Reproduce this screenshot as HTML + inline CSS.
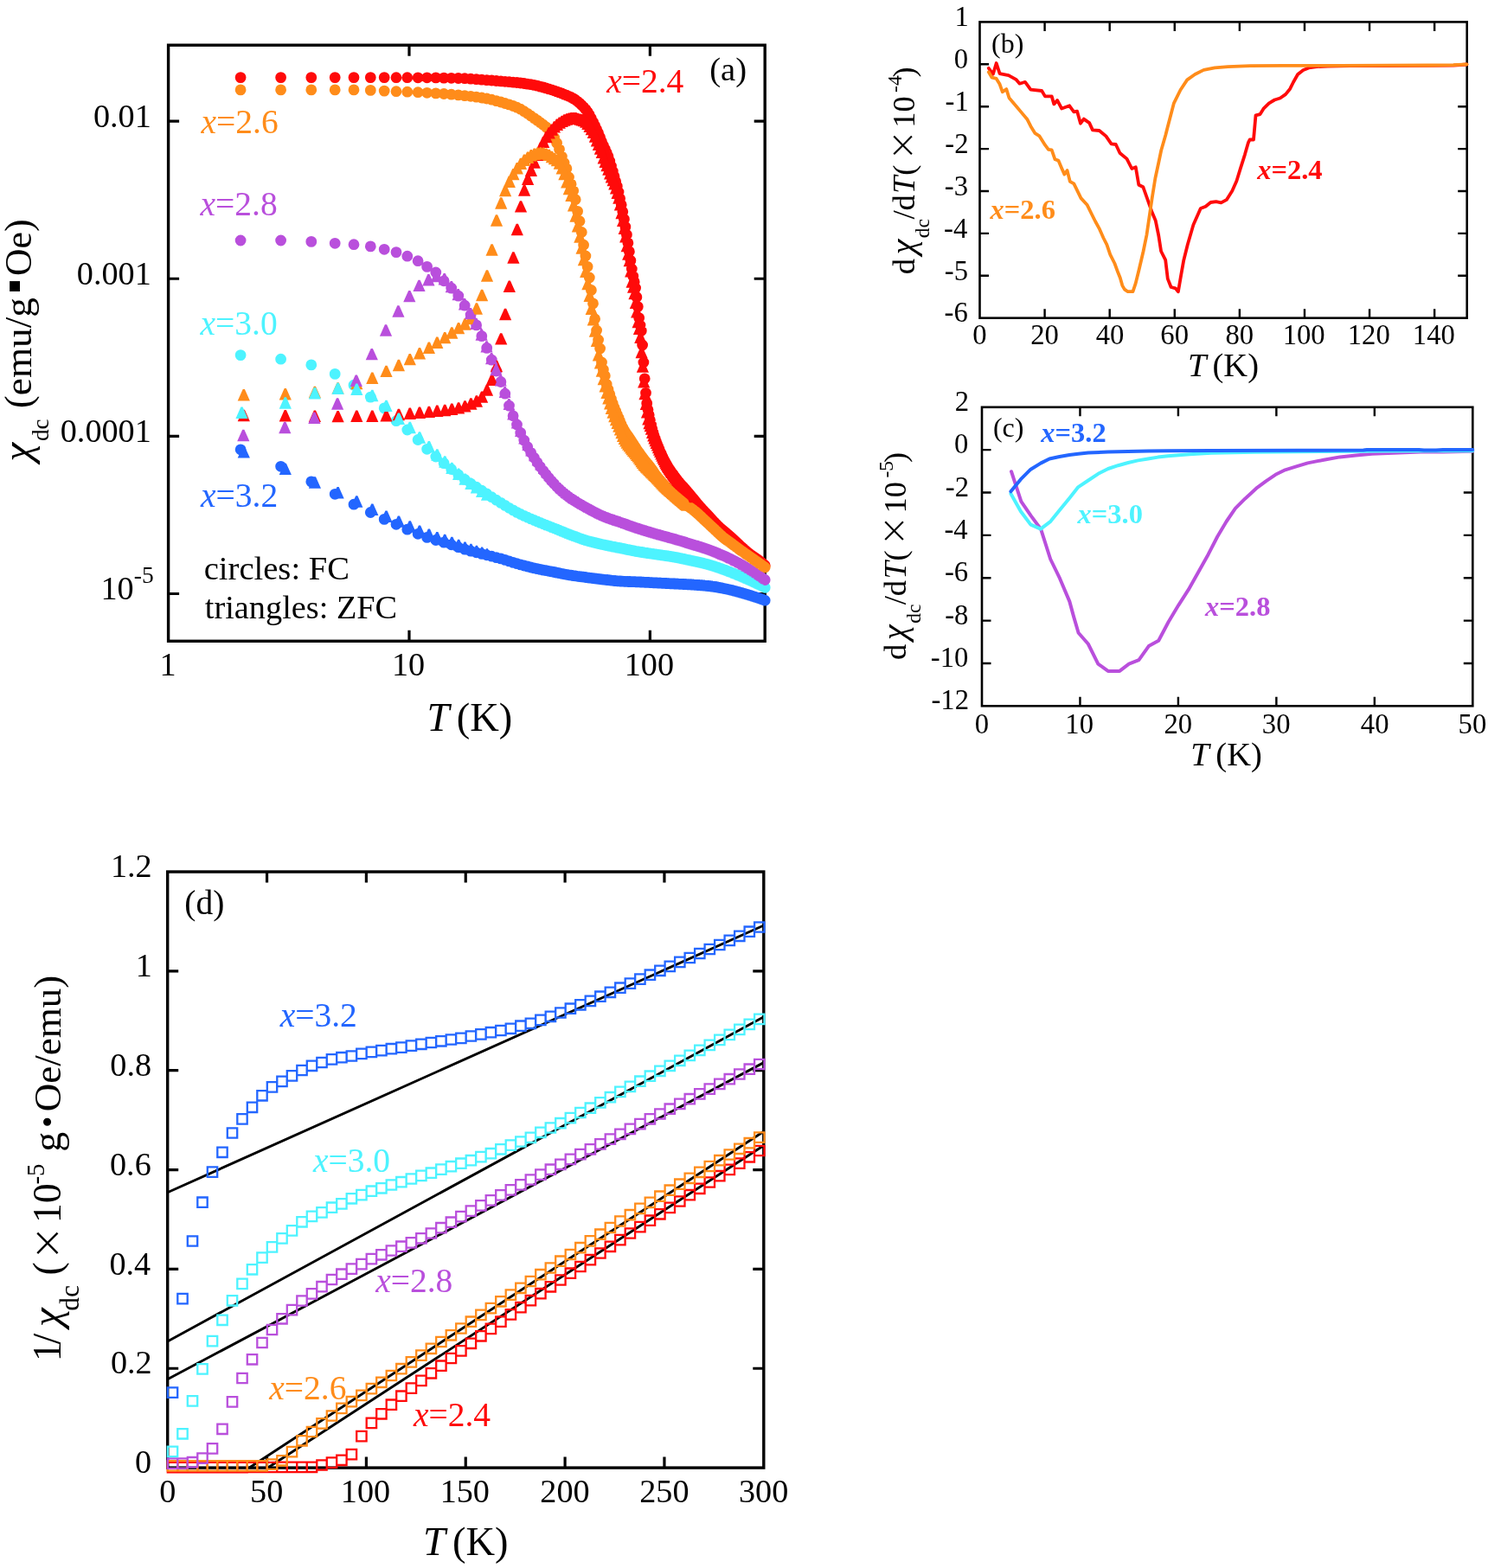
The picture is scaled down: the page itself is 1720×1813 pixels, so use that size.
<!DOCTYPE html>
<html lang="en"><head><meta charset="utf-8"><title>Magnetic susceptibility figure</title>
<style>html,body{margin:0;padding:0;background:#fff}body{width:1720px;height:1813px;overflow:hidden}svg{display:block}text{font-family:'Liberation Serif','DejaVu Serif',serif;white-space:pre}</style></head><body>
<svg width="1720" height="1813" viewBox="0 0 1720 1813" font-family="'Liberation Serif','DejaVu Serif',serif">
<rect width="1720" height="1813" fill="#fff"/>
<g id="panel-a">
<rect x="194.6" y="52.2" width="689.6" height="689.1" fill="none" stroke="#000" stroke-width="3.4"/>
<path d="M472.99 741.3v-12.5M472.99 52.2v12.5M751.38 741.3v-12.5M751.38 52.2v12.5M194.6 140.1h12.5M884.2 140.1h-12.5M194.6 322.23h12.5M884.2 322.23h-12.5M194.6 504.36h12.5M884.2 504.36h-12.5M194.6 686.49h12.5M884.2 686.49h-12.5" stroke="#000" stroke-width="3.2" fill="none"/>
<path d="M271.7 519.8a6.4 6.4 0 1 0 12.8 0a6.4 6.4 0 1 0 -12.8 0zM318.2 539.3a6.4 6.4 0 1 0 12.8 0a6.4 6.4 0 1 0 -12.8 0zM353.4 556.9a6.4 6.4 0 1 0 12.8 0a6.4 6.4 0 1 0 -12.8 0zM380.8 571.3a6.4 6.4 0 1 0 12.8 0a6.4 6.4 0 1 0 -12.8 0zM402.6 583.2a6.4 6.4 0 1 0 12.8 0a6.4 6.4 0 1 0 -12.8 0zM421.9 592.5a6.4 6.4 0 1 0 12.8 0a6.4 6.4 0 1 0 -12.8 0zM437.8 600.4a6.4 6.4 0 1 0 12.8 0a6.4 6.4 0 1 0 -12.8 0zM451.6 606.3a6.4 6.4 0 1 0 12.8 0a6.4 6.4 0 1 0 -12.8 0zM464.4 612.2a6.4 6.4 0 1 0 12.8 0a6.4 6.4 0 1 0 -12.8 0zM476.7 617.3a6.4 6.4 0 1 0 12.8 0a6.4 6.4 0 1 0 -12.8 0zM487.2 621.4a6.4 6.4 0 1 0 12.8 0a6.4 6.4 0 1 0 -12.8 0zM497.4 624.5a6.4 6.4 0 1 0 12.8 0a6.4 6.4 0 1 0 -12.8 0zM506.7 627.1a6.4 6.4 0 1 0 12.8 0a6.4 6.4 0 1 0 -12.8 0zM515.3 629.8a6.4 6.4 0 1 0 12.8 0a6.4 6.4 0 1 0 -12.8 0zM523.4 632.7a6.4 6.4 0 1 0 12.8 0a6.4 6.4 0 1 0 -12.8 0zM530.8 635.1a6.4 6.4 0 1 0 12.8 0a6.4 6.4 0 1 0 -12.8 0zM537.7 637.1a6.4 6.4 0 1 0 12.8 0a6.4 6.4 0 1 0 -12.8 0zM544.2 638.8a6.4 6.4 0 1 0 12.8 0a6.4 6.4 0 1 0 -12.8 0zM550.4 640.4a6.4 6.4 0 1 0 12.8 0a6.4 6.4 0 1 0 -12.8 0zM556.3 641.8a6.4 6.4 0 1 0 12.8 0a6.4 6.4 0 1 0 -12.8 0zM561.9 643.2a6.4 6.4 0 1 0 12.8 0a6.4 6.4 0 1 0 -12.8 0zM567.3 644.6a6.4 6.4 0 1 0 12.8 0a6.4 6.4 0 1 0 -12.8 0zM572.5 645.9a6.4 6.4 0 1 0 12.8 0a6.4 6.4 0 1 0 -12.8 0zM577.4 647.4a6.4 6.4 0 1 0 12.8 0a6.4 6.4 0 1 0 -12.8 0zM582.1 648.9a6.4 6.4 0 1 0 12.8 0a6.4 6.4 0 1 0 -12.8 0zM586.7 650.4a6.4 6.4 0 1 0 12.8 0a6.4 6.4 0 1 0 -12.8 0zM591.1 651.7a6.4 6.4 0 1 0 12.8 0a6.4 6.4 0 1 0 -12.8 0zM595.3 652.9a6.4 6.4 0 1 0 12.8 0a6.4 6.4 0 1 0 -12.8 0zM599.4 654.0a6.4 6.4 0 1 0 12.8 0a6.4 6.4 0 1 0 -12.8 0zM603.4 655.0a6.4 6.4 0 1 0 12.8 0a6.4 6.4 0 1 0 -12.8 0zM607.2 656.0a6.4 6.4 0 1 0 12.8 0a6.4 6.4 0 1 0 -12.8 0zM611.0 656.9a6.4 6.4 0 1 0 12.8 0a6.4 6.4 0 1 0 -12.8 0zM614.6 657.7a6.4 6.4 0 1 0 12.8 0a6.4 6.4 0 1 0 -12.8 0zM618.1 658.4a6.4 6.4 0 1 0 12.8 0a6.4 6.4 0 1 0 -12.8 0zM621.5 659.1a6.4 6.4 0 1 0 12.8 0a6.4 6.4 0 1 0 -12.8 0zM624.8 659.7a6.4 6.4 0 1 0 12.8 0a6.4 6.4 0 1 0 -12.8 0zM628.0 660.3a6.4 6.4 0 1 0 12.8 0a6.4 6.4 0 1 0 -12.8 0zM631.2 660.9a6.4 6.4 0 1 0 12.8 0a6.4 6.4 0 1 0 -12.8 0zM634.2 661.5a6.4 6.4 0 1 0 12.8 0a6.4 6.4 0 1 0 -12.8 0zM637.2 662.1a6.4 6.4 0 1 0 12.8 0a6.4 6.4 0 1 0 -12.8 0zM640.1 662.7a6.4 6.4 0 1 0 12.8 0a6.4 6.4 0 1 0 -12.8 0zM643.0 663.3a6.4 6.4 0 1 0 12.8 0a6.4 6.4 0 1 0 -12.8 0zM645.7 663.8a6.4 6.4 0 1 0 12.8 0a6.4 6.4 0 1 0 -12.8 0zM648.5 664.3a6.4 6.4 0 1 0 12.8 0a6.4 6.4 0 1 0 -12.8 0zM651.1 664.8a6.4 6.4 0 1 0 12.8 0a6.4 6.4 0 1 0 -12.8 0zM653.7 665.2a6.4 6.4 0 1 0 12.8 0a6.4 6.4 0 1 0 -12.8 0zM656.3 665.6a6.4 6.4 0 1 0 12.8 0a6.4 6.4 0 1 0 -12.8 0zM658.8 665.9a6.4 6.4 0 1 0 12.8 0a6.4 6.4 0 1 0 -12.8 0zM661.2 666.3a6.4 6.4 0 1 0 12.8 0a6.4 6.4 0 1 0 -12.8 0zM663.6 666.6a6.4 6.4 0 1 0 12.8 0a6.4 6.4 0 1 0 -12.8 0zM665.9 666.9a6.4 6.4 0 1 0 12.8 0a6.4 6.4 0 1 0 -12.8 0zM668.2 667.2a6.4 6.4 0 1 0 12.8 0a6.4 6.4 0 1 0 -12.8 0zM670.5 667.5a6.4 6.4 0 1 0 12.8 0a6.4 6.4 0 1 0 -12.8 0zM672.7 667.8a6.4 6.4 0 1 0 12.8 0a6.4 6.4 0 1 0 -12.8 0zM674.9 668.1a6.4 6.4 0 1 0 12.8 0a6.4 6.4 0 1 0 -12.8 0zM677.0 668.3a6.4 6.4 0 1 0 12.8 0a6.4 6.4 0 1 0 -12.8 0zM679.1 668.6a6.4 6.4 0 1 0 12.8 0a6.4 6.4 0 1 0 -12.8 0zM681.2 668.9a6.4 6.4 0 1 0 12.8 0a6.4 6.4 0 1 0 -12.8 0zM683.2 669.2a6.4 6.4 0 1 0 12.8 0a6.4 6.4 0 1 0 -12.8 0zM685.2 669.4a6.4 6.4 0 1 0 12.8 0a6.4 6.4 0 1 0 -12.8 0zM687.2 669.7a6.4 6.4 0 1 0 12.8 0a6.4 6.4 0 1 0 -12.8 0zM689.1 669.9a6.4 6.4 0 1 0 12.8 0a6.4 6.4 0 1 0 -12.8 0zM691.0 670.1a6.4 6.4 0 1 0 12.8 0a6.4 6.4 0 1 0 -12.8 0zM692.9 670.3a6.4 6.4 0 1 0 12.8 0a6.4 6.4 0 1 0 -12.8 0zM694.8 670.5a6.4 6.4 0 1 0 12.8 0a6.4 6.4 0 1 0 -12.8 0zM696.6 670.7a6.4 6.4 0 1 0 12.8 0a6.4 6.4 0 1 0 -12.8 0zM698.4 670.9a6.4 6.4 0 1 0 12.8 0a6.4 6.4 0 1 0 -12.8 0zM700.1 671.1a6.4 6.4 0 1 0 12.8 0a6.4 6.4 0 1 0 -12.8 0zM701.9 671.3a6.4 6.4 0 1 0 12.8 0a6.4 6.4 0 1 0 -12.8 0zM703.6 671.5a6.4 6.4 0 1 0 12.8 0a6.4 6.4 0 1 0 -12.8 0zM705.3 671.6a6.4 6.4 0 1 0 12.8 0a6.4 6.4 0 1 0 -12.8 0zM706.9 671.8a6.4 6.4 0 1 0 12.8 0a6.4 6.4 0 1 0 -12.8 0zM708.6 671.9a6.4 6.4 0 1 0 12.8 0a6.4 6.4 0 1 0 -12.8 0zM710.2 672.0a6.4 6.4 0 1 0 12.8 0a6.4 6.4 0 1 0 -12.8 0zM711.8 672.1a6.4 6.4 0 1 0 12.8 0a6.4 6.4 0 1 0 -12.8 0zM713.4 672.2a6.4 6.4 0 1 0 12.8 0a6.4 6.4 0 1 0 -12.8 0zM715.0 672.3a6.4 6.4 0 1 0 12.8 0a6.4 6.4 0 1 0 -12.8 0zM716.5 672.3a6.4 6.4 0 1 0 12.8 0a6.4 6.4 0 1 0 -12.8 0zM718.0 672.4a6.4 6.4 0 1 0 12.8 0a6.4 6.4 0 1 0 -12.8 0zM719.5 672.5a6.4 6.4 0 1 0 12.8 0a6.4 6.4 0 1 0 -12.8 0zM721.0 672.5a6.4 6.4 0 1 0 12.8 0a6.4 6.4 0 1 0 -12.8 0zM722.5 672.6a6.4 6.4 0 1 0 12.8 0a6.4 6.4 0 1 0 -12.8 0zM723.9 672.6a6.4 6.4 0 1 0 12.8 0a6.4 6.4 0 1 0 -12.8 0zM725.4 672.7a6.4 6.4 0 1 0 12.8 0a6.4 6.4 0 1 0 -12.8 0zM726.8 672.7a6.4 6.4 0 1 0 12.8 0a6.4 6.4 0 1 0 -12.8 0zM728.2 672.8a6.4 6.4 0 1 0 12.8 0a6.4 6.4 0 1 0 -12.8 0zM729.5 672.8a6.4 6.4 0 1 0 12.8 0a6.4 6.4 0 1 0 -12.8 0zM730.9 672.9a6.4 6.4 0 1 0 12.8 0a6.4 6.4 0 1 0 -12.8 0zM732.3 672.9a6.4 6.4 0 1 0 12.8 0a6.4 6.4 0 1 0 -12.8 0zM733.6 673.0a6.4 6.4 0 1 0 12.8 0a6.4 6.4 0 1 0 -12.8 0zM734.9 673.1a6.4 6.4 0 1 0 12.8 0a6.4 6.4 0 1 0 -12.8 0zM736.2 673.1a6.4 6.4 0 1 0 12.8 0a6.4 6.4 0 1 0 -12.8 0zM737.5 673.2a6.4 6.4 0 1 0 12.8 0a6.4 6.4 0 1 0 -12.8 0zM738.8 673.3a6.4 6.4 0 1 0 12.8 0a6.4 6.4 0 1 0 -12.8 0zM740.1 673.3a6.4 6.4 0 1 0 12.8 0a6.4 6.4 0 1 0 -12.8 0zM741.3 673.4a6.4 6.4 0 1 0 12.8 0a6.4 6.4 0 1 0 -12.8 0zM742.6 673.4a6.4 6.4 0 1 0 12.8 0a6.4 6.4 0 1 0 -12.8 0zM743.8 673.5a6.4 6.4 0 1 0 12.8 0a6.4 6.4 0 1 0 -12.8 0zM745.0 673.6a6.4 6.4 0 1 0 12.8 0a6.4 6.4 0 1 0 -12.8 0zM746.2 673.6a6.4 6.4 0 1 0 12.8 0a6.4 6.4 0 1 0 -12.8 0zM747.4 673.7a6.4 6.4 0 1 0 12.8 0a6.4 6.4 0 1 0 -12.8 0zM748.6 673.8a6.4 6.4 0 1 0 12.8 0a6.4 6.4 0 1 0 -12.8 0zM749.7 673.8a6.4 6.4 0 1 0 12.8 0a6.4 6.4 0 1 0 -12.8 0zM750.9 673.9a6.4 6.4 0 1 0 12.8 0a6.4 6.4 0 1 0 -12.8 0zM752.0 673.9a6.4 6.4 0 1 0 12.8 0a6.4 6.4 0 1 0 -12.8 0zM753.2 674.0a6.4 6.4 0 1 0 12.8 0a6.4 6.4 0 1 0 -12.8 0zM754.3 674.1a6.4 6.4 0 1 0 12.8 0a6.4 6.4 0 1 0 -12.8 0zM755.4 674.1a6.4 6.4 0 1 0 12.8 0a6.4 6.4 0 1 0 -12.8 0zM756.5 674.2a6.4 6.4 0 1 0 12.8 0a6.4 6.4 0 1 0 -12.8 0zM757.6 674.2a6.4 6.4 0 1 0 12.8 0a6.4 6.4 0 1 0 -12.8 0zM758.7 674.3a6.4 6.4 0 1 0 12.8 0a6.4 6.4 0 1 0 -12.8 0zM759.8 674.3a6.4 6.4 0 1 0 12.8 0a6.4 6.4 0 1 0 -12.8 0zM760.8 674.4a6.4 6.4 0 1 0 12.8 0a6.4 6.4 0 1 0 -12.8 0zM761.9 674.4a6.4 6.4 0 1 0 12.8 0a6.4 6.4 0 1 0 -12.8 0zM762.9 674.5a6.4 6.4 0 1 0 12.8 0a6.4 6.4 0 1 0 -12.8 0zM764.0 674.5a6.4 6.4 0 1 0 12.8 0a6.4 6.4 0 1 0 -12.8 0zM765.0 674.6a6.4 6.4 0 1 0 12.8 0a6.4 6.4 0 1 0 -12.8 0zM766.0 674.6a6.4 6.4 0 1 0 12.8 0a6.4 6.4 0 1 0 -12.8 0zM767.0 674.7a6.4 6.4 0 1 0 12.8 0a6.4 6.4 0 1 0 -12.8 0zM768.0 674.8a6.4 6.4 0 1 0 12.8 0a6.4 6.4 0 1 0 -12.8 0zM769.0 674.8a6.4 6.4 0 1 0 12.8 0a6.4 6.4 0 1 0 -12.8 0zM770.0 674.9a6.4 6.4 0 1 0 12.8 0a6.4 6.4 0 1 0 -12.8 0zM771.0 674.9a6.4 6.4 0 1 0 12.8 0a6.4 6.4 0 1 0 -12.8 0zM772.0 674.9a6.4 6.4 0 1 0 12.8 0a6.4 6.4 0 1 0 -12.8 0zM772.9 675.0a6.4 6.4 0 1 0 12.8 0a6.4 6.4 0 1 0 -12.8 0zM773.9 675.0a6.4 6.4 0 1 0 12.8 0a6.4 6.4 0 1 0 -12.8 0zM774.8 675.1a6.4 6.4 0 1 0 12.8 0a6.4 6.4 0 1 0 -12.8 0zM775.8 675.1a6.4 6.4 0 1 0 12.8 0a6.4 6.4 0 1 0 -12.8 0zM776.7 675.2a6.4 6.4 0 1 0 12.8 0a6.4 6.4 0 1 0 -12.8 0zM777.6 675.2a6.4 6.4 0 1 0 12.8 0a6.4 6.4 0 1 0 -12.8 0zM778.6 675.3a6.4 6.4 0 1 0 12.8 0a6.4 6.4 0 1 0 -12.8 0zM779.5 675.3a6.4 6.4 0 1 0 12.8 0a6.4 6.4 0 1 0 -12.8 0zM780.4 675.4a6.4 6.4 0 1 0 12.8 0a6.4 6.4 0 1 0 -12.8 0zM781.3 675.4a6.4 6.4 0 1 0 12.8 0a6.4 6.4 0 1 0 -12.8 0zM782.2 675.4a6.4 6.4 0 1 0 12.8 0a6.4 6.4 0 1 0 -12.8 0zM783.1 675.5a6.4 6.4 0 1 0 12.8 0a6.4 6.4 0 1 0 -12.8 0zM783.9 675.5a6.4 6.4 0 1 0 12.8 0a6.4 6.4 0 1 0 -12.8 0zM784.8 675.6a6.4 6.4 0 1 0 12.8 0a6.4 6.4 0 1 0 -12.8 0zM785.7 675.6a6.4 6.4 0 1 0 12.8 0a6.4 6.4 0 1 0 -12.8 0zM786.5 675.7a6.4 6.4 0 1 0 12.8 0a6.4 6.4 0 1 0 -12.8 0zM787.4 675.7a6.4 6.4 0 1 0 12.8 0a6.4 6.4 0 1 0 -12.8 0zM788.2 675.8a6.4 6.4 0 1 0 12.8 0a6.4 6.4 0 1 0 -12.8 0zM789.1 675.8a6.4 6.4 0 1 0 12.8 0a6.4 6.4 0 1 0 -12.8 0zM789.9 675.8a6.4 6.4 0 1 0 12.8 0a6.4 6.4 0 1 0 -12.8 0zM790.8 675.9a6.4 6.4 0 1 0 12.8 0a6.4 6.4 0 1 0 -12.8 0zM791.6 675.9a6.4 6.4 0 1 0 12.8 0a6.4 6.4 0 1 0 -12.8 0zM792.4 676.0a6.4 6.4 0 1 0 12.8 0a6.4 6.4 0 1 0 -12.8 0zM793.2 676.0a6.4 6.4 0 1 0 12.8 0a6.4 6.4 0 1 0 -12.8 0zM794.0 676.1a6.4 6.4 0 1 0 12.8 0a6.4 6.4 0 1 0 -12.8 0zM794.8 676.2a6.4 6.4 0 1 0 12.8 0a6.4 6.4 0 1 0 -12.8 0zM795.6 676.2a6.4 6.4 0 1 0 12.8 0a6.4 6.4 0 1 0 -12.8 0zM796.4 676.3a6.4 6.4 0 1 0 12.8 0a6.4 6.4 0 1 0 -12.8 0zM797.2 676.3a6.4 6.4 0 1 0 12.8 0a6.4 6.4 0 1 0 -12.8 0zM798.0 676.4a6.4 6.4 0 1 0 12.8 0a6.4 6.4 0 1 0 -12.8 0zM798.8 676.4a6.4 6.4 0 1 0 12.8 0a6.4 6.4 0 1 0 -12.8 0zM799.5 676.5a6.4 6.4 0 1 0 12.8 0a6.4 6.4 0 1 0 -12.8 0zM800.3 676.5a6.4 6.4 0 1 0 12.8 0a6.4 6.4 0 1 0 -12.8 0zM801.1 676.6a6.4 6.4 0 1 0 12.8 0a6.4 6.4 0 1 0 -12.8 0zM801.8 676.6a6.4 6.4 0 1 0 12.8 0a6.4 6.4 0 1 0 -12.8 0zM802.6 676.7a6.4 6.4 0 1 0 12.8 0a6.4 6.4 0 1 0 -12.8 0zM803.3 676.8a6.4 6.4 0 1 0 12.8 0a6.4 6.4 0 1 0 -12.8 0zM804.1 676.8a6.4 6.4 0 1 0 12.8 0a6.4 6.4 0 1 0 -12.8 0zM804.8 676.9a6.4 6.4 0 1 0 12.8 0a6.4 6.4 0 1 0 -12.8 0zM805.5 676.9a6.4 6.4 0 1 0 12.8 0a6.4 6.4 0 1 0 -12.8 0zM806.3 677.0a6.4 6.4 0 1 0 12.8 0a6.4 6.4 0 1 0 -12.8 0zM807.0 677.1a6.4 6.4 0 1 0 12.8 0a6.4 6.4 0 1 0 -12.8 0zM807.7 677.1a6.4 6.4 0 1 0 12.8 0a6.4 6.4 0 1 0 -12.8 0zM808.4 677.2a6.4 6.4 0 1 0 12.8 0a6.4 6.4 0 1 0 -12.8 0zM809.2 677.3a6.4 6.4 0 1 0 12.8 0a6.4 6.4 0 1 0 -12.8 0zM809.9 677.3a6.4 6.4 0 1 0 12.8 0a6.4 6.4 0 1 0 -12.8 0zM810.6 677.4a6.4 6.4 0 1 0 12.8 0a6.4 6.4 0 1 0 -12.8 0zM811.3 677.5a6.4 6.4 0 1 0 12.8 0a6.4 6.4 0 1 0 -12.8 0zM812.0 677.6a6.4 6.4 0 1 0 12.8 0a6.4 6.4 0 1 0 -12.8 0zM812.7 677.6a6.4 6.4 0 1 0 12.8 0a6.4 6.4 0 1 0 -12.8 0zM813.4 677.7a6.4 6.4 0 1 0 12.8 0a6.4 6.4 0 1 0 -12.8 0zM814.0 677.8a6.4 6.4 0 1 0 12.8 0a6.4 6.4 0 1 0 -12.8 0zM814.7 677.9a6.4 6.4 0 1 0 12.8 0a6.4 6.4 0 1 0 -12.8 0zM815.4 678.0a6.4 6.4 0 1 0 12.8 0a6.4 6.4 0 1 0 -12.8 0zM816.1 678.1a6.4 6.4 0 1 0 12.8 0a6.4 6.4 0 1 0 -12.8 0zM816.7 678.1a6.4 6.4 0 1 0 12.8 0a6.4 6.4 0 1 0 -12.8 0zM817.4 678.2a6.4 6.4 0 1 0 12.8 0a6.4 6.4 0 1 0 -12.8 0zM818.1 678.3a6.4 6.4 0 1 0 12.8 0a6.4 6.4 0 1 0 -12.8 0zM818.7 678.4a6.4 6.4 0 1 0 12.8 0a6.4 6.4 0 1 0 -12.8 0zM819.4 678.5a6.4 6.4 0 1 0 12.8 0a6.4 6.4 0 1 0 -12.8 0zM820.0 678.6a6.4 6.4 0 1 0 12.8 0a6.4 6.4 0 1 0 -12.8 0zM820.7 678.7a6.4 6.4 0 1 0 12.8 0a6.4 6.4 0 1 0 -12.8 0zM821.3 678.8a6.4 6.4 0 1 0 12.8 0a6.4 6.4 0 1 0 -12.8 0zM822.0 678.9a6.4 6.4 0 1 0 12.8 0a6.4 6.4 0 1 0 -12.8 0zM822.6 679.0a6.4 6.4 0 1 0 12.8 0a6.4 6.4 0 1 0 -12.8 0zM823.2 679.1a6.4 6.4 0 1 0 12.8 0a6.4 6.4 0 1 0 -12.8 0zM823.9 679.2a6.4 6.4 0 1 0 12.8 0a6.4 6.4 0 1 0 -12.8 0zM824.5 679.4a6.4 6.4 0 1 0 12.8 0a6.4 6.4 0 1 0 -12.8 0zM825.1 679.5a6.4 6.4 0 1 0 12.8 0a6.4 6.4 0 1 0 -12.8 0zM825.7 679.6a6.4 6.4 0 1 0 12.8 0a6.4 6.4 0 1 0 -12.8 0zM826.4 679.7a6.4 6.4 0 1 0 12.8 0a6.4 6.4 0 1 0 -12.8 0zM827.0 679.8a6.4 6.4 0 1 0 12.8 0a6.4 6.4 0 1 0 -12.8 0zM827.6 679.9a6.4 6.4 0 1 0 12.8 0a6.4 6.4 0 1 0 -12.8 0zM828.2 680.0a6.4 6.4 0 1 0 12.8 0a6.4 6.4 0 1 0 -12.8 0zM828.8 680.1a6.4 6.4 0 1 0 12.8 0a6.4 6.4 0 1 0 -12.8 0zM829.4 680.2a6.4 6.4 0 1 0 12.8 0a6.4 6.4 0 1 0 -12.8 0zM830.0 680.3a6.4 6.4 0 1 0 12.8 0a6.4 6.4 0 1 0 -12.8 0zM830.6 680.5a6.4 6.4 0 1 0 12.8 0a6.4 6.4 0 1 0 -12.8 0zM831.2 680.6a6.4 6.4 0 1 0 12.8 0a6.4 6.4 0 1 0 -12.8 0zM831.8 680.7a6.4 6.4 0 1 0 12.8 0a6.4 6.4 0 1 0 -12.8 0zM832.4 680.8a6.4 6.4 0 1 0 12.8 0a6.4 6.4 0 1 0 -12.8 0zM833.0 680.9a6.4 6.4 0 1 0 12.8 0a6.4 6.4 0 1 0 -12.8 0zM833.5 681.1a6.4 6.4 0 1 0 12.8 0a6.4 6.4 0 1 0 -12.8 0zM834.1 681.2a6.4 6.4 0 1 0 12.8 0a6.4 6.4 0 1 0 -12.8 0zM834.7 681.3a6.4 6.4 0 1 0 12.8 0a6.4 6.4 0 1 0 -12.8 0zM835.3 681.4a6.4 6.4 0 1 0 12.8 0a6.4 6.4 0 1 0 -12.8 0zM835.9 681.6a6.4 6.4 0 1 0 12.8 0a6.4 6.4 0 1 0 -12.8 0zM836.4 681.7a6.4 6.4 0 1 0 12.8 0a6.4 6.4 0 1 0 -12.8 0zM837.0 681.8a6.4 6.4 0 1 0 12.8 0a6.4 6.4 0 1 0 -12.8 0zM837.6 682.0a6.4 6.4 0 1 0 12.8 0a6.4 6.4 0 1 0 -12.8 0zM838.1 682.1a6.4 6.4 0 1 0 12.8 0a6.4 6.4 0 1 0 -12.8 0zM838.7 682.3a6.4 6.4 0 1 0 12.8 0a6.4 6.4 0 1 0 -12.8 0zM839.2 682.4a6.4 6.4 0 1 0 12.8 0a6.4 6.4 0 1 0 -12.8 0zM839.8 682.5a6.4 6.4 0 1 0 12.8 0a6.4 6.4 0 1 0 -12.8 0zM840.3 682.7a6.4 6.4 0 1 0 12.8 0a6.4 6.4 0 1 0 -12.8 0zM840.9 682.8a6.4 6.4 0 1 0 12.8 0a6.4 6.4 0 1 0 -12.8 0zM841.4 683.0a6.4 6.4 0 1 0 12.8 0a6.4 6.4 0 1 0 -12.8 0zM842.0 683.1a6.4 6.4 0 1 0 12.8 0a6.4 6.4 0 1 0 -12.8 0zM842.5 683.2a6.4 6.4 0 1 0 12.8 0a6.4 6.4 0 1 0 -12.8 0zM843.0 683.4a6.4 6.4 0 1 0 12.8 0a6.4 6.4 0 1 0 -12.8 0zM843.6 683.5a6.4 6.4 0 1 0 12.8 0a6.4 6.4 0 1 0 -12.8 0zM844.1 683.7a6.4 6.4 0 1 0 12.8 0a6.4 6.4 0 1 0 -12.8 0zM844.6 683.8a6.4 6.4 0 1 0 12.8 0a6.4 6.4 0 1 0 -12.8 0zM845.2 684.0a6.4 6.4 0 1 0 12.8 0a6.4 6.4 0 1 0 -12.8 0zM845.7 684.1a6.4 6.4 0 1 0 12.8 0a6.4 6.4 0 1 0 -12.8 0zM846.2 684.3a6.4 6.4 0 1 0 12.8 0a6.4 6.4 0 1 0 -12.8 0zM846.8 684.4a6.4 6.4 0 1 0 12.8 0a6.4 6.4 0 1 0 -12.8 0zM847.3 684.5a6.4 6.4 0 1 0 12.8 0a6.4 6.4 0 1 0 -12.8 0zM847.8 684.7a6.4 6.4 0 1 0 12.8 0a6.4 6.4 0 1 0 -12.8 0zM848.3 684.8a6.4 6.4 0 1 0 12.8 0a6.4 6.4 0 1 0 -12.8 0zM848.8 685.0a6.4 6.4 0 1 0 12.8 0a6.4 6.4 0 1 0 -12.8 0zM849.3 685.1a6.4 6.4 0 1 0 12.8 0a6.4 6.4 0 1 0 -12.8 0zM849.8 685.3a6.4 6.4 0 1 0 12.8 0a6.4 6.4 0 1 0 -12.8 0zM850.3 685.4a6.4 6.4 0 1 0 12.8 0a6.4 6.4 0 1 0 -12.8 0zM850.9 685.5a6.4 6.4 0 1 0 12.8 0a6.4 6.4 0 1 0 -12.8 0zM851.4 685.7a6.4 6.4 0 1 0 12.8 0a6.4 6.4 0 1 0 -12.8 0zM851.9 685.8a6.4 6.4 0 1 0 12.8 0a6.4 6.4 0 1 0 -12.8 0zM852.4 686.0a6.4 6.4 0 1 0 12.8 0a6.4 6.4 0 1 0 -12.8 0zM852.8 686.1a6.4 6.4 0 1 0 12.8 0a6.4 6.4 0 1 0 -12.8 0zM853.3 686.2a6.4 6.4 0 1 0 12.8 0a6.4 6.4 0 1 0 -12.8 0zM853.8 686.4a6.4 6.4 0 1 0 12.8 0a6.4 6.4 0 1 0 -12.8 0zM854.3 686.5a6.4 6.4 0 1 0 12.8 0a6.4 6.4 0 1 0 -12.8 0zM854.8 686.7a6.4 6.4 0 1 0 12.8 0a6.4 6.4 0 1 0 -12.8 0zM855.3 686.8a6.4 6.4 0 1 0 12.8 0a6.4 6.4 0 1 0 -12.8 0zM855.8 687.0a6.4 6.4 0 1 0 12.8 0a6.4 6.4 0 1 0 -12.8 0zM856.3 687.1a6.4 6.4 0 1 0 12.8 0a6.4 6.4 0 1 0 -12.8 0zM856.7 687.2a6.4 6.4 0 1 0 12.8 0a6.4 6.4 0 1 0 -12.8 0zM857.2 687.4a6.4 6.4 0 1 0 12.8 0a6.4 6.4 0 1 0 -12.8 0zM857.7 687.5a6.4 6.4 0 1 0 12.8 0a6.4 6.4 0 1 0 -12.8 0zM858.2 687.7a6.4 6.4 0 1 0 12.8 0a6.4 6.4 0 1 0 -12.8 0zM858.7 687.8a6.4 6.4 0 1 0 12.8 0a6.4 6.4 0 1 0 -12.8 0zM859.1 688.0a6.4 6.4 0 1 0 12.8 0a6.4 6.4 0 1 0 -12.8 0zM859.6 688.1a6.4 6.4 0 1 0 12.8 0a6.4 6.4 0 1 0 -12.8 0zM860.1 688.3a6.4 6.4 0 1 0 12.8 0a6.4 6.4 0 1 0 -12.8 0zM860.5 688.4a6.4 6.4 0 1 0 12.8 0a6.4 6.4 0 1 0 -12.8 0zM861.0 688.5a6.4 6.4 0 1 0 12.8 0a6.4 6.4 0 1 0 -12.8 0zM861.5 688.7a6.4 6.4 0 1 0 12.8 0a6.4 6.4 0 1 0 -12.8 0zM861.9 688.8a6.4 6.4 0 1 0 12.8 0a6.4 6.4 0 1 0 -12.8 0zM862.4 689.0a6.4 6.4 0 1 0 12.8 0a6.4 6.4 0 1 0 -12.8 0zM862.8 689.1a6.4 6.4 0 1 0 12.8 0a6.4 6.4 0 1 0 -12.8 0zM863.3 689.3a6.4 6.4 0 1 0 12.8 0a6.4 6.4 0 1 0 -12.8 0zM863.7 689.4a6.4 6.4 0 1 0 12.8 0a6.4 6.4 0 1 0 -12.8 0zM864.2 689.6a6.4 6.4 0 1 0 12.8 0a6.4 6.4 0 1 0 -12.8 0zM864.6 689.7a6.4 6.4 0 1 0 12.8 0a6.4 6.4 0 1 0 -12.8 0zM865.1 689.8a6.4 6.4 0 1 0 12.8 0a6.4 6.4 0 1 0 -12.8 0zM865.5 690.0a6.4 6.4 0 1 0 12.8 0a6.4 6.4 0 1 0 -12.8 0zM866.0 690.1a6.4 6.4 0 1 0 12.8 0a6.4 6.4 0 1 0 -12.8 0zM866.4 690.3a6.4 6.4 0 1 0 12.8 0a6.4 6.4 0 1 0 -12.8 0zM866.9 690.4a6.4 6.4 0 1 0 12.8 0a6.4 6.4 0 1 0 -12.8 0zM867.3 690.6a6.4 6.4 0 1 0 12.8 0a6.4 6.4 0 1 0 -12.8 0zM867.7 690.7a6.4 6.4 0 1 0 12.8 0a6.4 6.4 0 1 0 -12.8 0zM868.2 690.9a6.4 6.4 0 1 0 12.8 0a6.4 6.4 0 1 0 -12.8 0zM868.6 691.0a6.4 6.4 0 1 0 12.8 0a6.4 6.4 0 1 0 -12.8 0zM869.1 691.1a6.4 6.4 0 1 0 12.8 0a6.4 6.4 0 1 0 -12.8 0zM869.5 691.3a6.4 6.4 0 1 0 12.8 0a6.4 6.4 0 1 0 -12.8 0zM869.9 691.4a6.4 6.4 0 1 0 12.8 0a6.4 6.4 0 1 0 -12.8 0zM870.3 691.6a6.4 6.4 0 1 0 12.8 0a6.4 6.4 0 1 0 -12.8 0zM870.8 691.7a6.4 6.4 0 1 0 12.8 0a6.4 6.4 0 1 0 -12.8 0zM871.2 691.9a6.4 6.4 0 1 0 12.8 0a6.4 6.4 0 1 0 -12.8 0zM871.6 692.0a6.4 6.4 0 1 0 12.8 0a6.4 6.4 0 1 0 -12.8 0zM872.1 692.2a6.4 6.4 0 1 0 12.8 0a6.4 6.4 0 1 0 -12.8 0zM872.5 692.3a6.4 6.4 0 1 0 12.8 0a6.4 6.4 0 1 0 -12.8 0zM872.9 692.5a6.4 6.4 0 1 0 12.8 0a6.4 6.4 0 1 0 -12.8 0zM873.3 692.6a6.4 6.4 0 1 0 12.8 0a6.4 6.4 0 1 0 -12.8 0zM873.7 692.8a6.4 6.4 0 1 0 12.8 0a6.4 6.4 0 1 0 -12.8 0zM874.1 692.9a6.4 6.4 0 1 0 12.8 0a6.4 6.4 0 1 0 -12.8 0zM874.6 693.0a6.4 6.4 0 1 0 12.8 0a6.4 6.4 0 1 0 -12.8 0zM875.0 693.2a6.4 6.4 0 1 0 12.8 0a6.4 6.4 0 1 0 -12.8 0zM875.4 693.3a6.4 6.4 0 1 0 12.8 0a6.4 6.4 0 1 0 -12.8 0zM875.8 693.5a6.4 6.4 0 1 0 12.8 0a6.4 6.4 0 1 0 -12.8 0zM876.2 693.6a6.4 6.4 0 1 0 12.8 0a6.4 6.4 0 1 0 -12.8 0zM876.6 693.8a6.4 6.4 0 1 0 12.8 0a6.4 6.4 0 1 0 -12.8 0zM877.0 693.9a6.4 6.4 0 1 0 12.8 0a6.4 6.4 0 1 0 -12.8 0zM877.4 694.1a6.4 6.4 0 1 0 12.8 0a6.4 6.4 0 1 0 -12.8 0zM877.8 694.2a6.4 6.4 0 1 0 12.8 0a6.4 6.4 0 1 0 -12.8 0z" fill="#2366ff"/>
<path d="M271.7 410.6a6.4 6.4 0 1 0 12.8 0a6.4 6.4 0 1 0 -12.8 0zM318.2 415.2a6.4 6.4 0 1 0 12.8 0a6.4 6.4 0 1 0 -12.8 0zM353.4 421.9a6.4 6.4 0 1 0 12.8 0a6.4 6.4 0 1 0 -12.8 0zM380.8 432.4a6.4 6.4 0 1 0 12.8 0a6.4 6.4 0 1 0 -12.8 0zM402.6 445.2a6.4 6.4 0 1 0 12.8 0a6.4 6.4 0 1 0 -12.8 0zM421.9 459.1a6.4 6.4 0 1 0 12.8 0a6.4 6.4 0 1 0 -12.8 0zM437.8 471.9a6.4 6.4 0 1 0 12.8 0a6.4 6.4 0 1 0 -12.8 0zM451.6 486.7a6.4 6.4 0 1 0 12.8 0a6.4 6.4 0 1 0 -12.8 0zM464.4 497.0a6.4 6.4 0 1 0 12.8 0a6.4 6.4 0 1 0 -12.8 0zM476.7 508.5a6.4 6.4 0 1 0 12.8 0a6.4 6.4 0 1 0 -12.8 0zM487.2 519.3a6.4 6.4 0 1 0 12.8 0a6.4 6.4 0 1 0 -12.8 0zM497.4 528.0a6.4 6.4 0 1 0 12.8 0a6.4 6.4 0 1 0 -12.8 0zM506.7 535.6a6.4 6.4 0 1 0 12.8 0a6.4 6.4 0 1 0 -12.8 0zM515.3 542.5a6.4 6.4 0 1 0 12.8 0a6.4 6.4 0 1 0 -12.8 0zM523.4 548.9a6.4 6.4 0 1 0 12.8 0a6.4 6.4 0 1 0 -12.8 0zM530.8 554.4a6.4 6.4 0 1 0 12.8 0a6.4 6.4 0 1 0 -12.8 0zM537.7 559.1a6.4 6.4 0 1 0 12.8 0a6.4 6.4 0 1 0 -12.8 0zM544.2 563.2a6.4 6.4 0 1 0 12.8 0a6.4 6.4 0 1 0 -12.8 0zM550.4 567.2a6.4 6.4 0 1 0 12.8 0a6.4 6.4 0 1 0 -12.8 0zM556.3 571.0a6.4 6.4 0 1 0 12.8 0a6.4 6.4 0 1 0 -12.8 0zM561.9 574.7a6.4 6.4 0 1 0 12.8 0a6.4 6.4 0 1 0 -12.8 0zM567.3 578.2a6.4 6.4 0 1 0 12.8 0a6.4 6.4 0 1 0 -12.8 0zM572.5 581.4a6.4 6.4 0 1 0 12.8 0a6.4 6.4 0 1 0 -12.8 0zM577.4 584.4a6.4 6.4 0 1 0 12.8 0a6.4 6.4 0 1 0 -12.8 0zM582.1 587.3a6.4 6.4 0 1 0 12.8 0a6.4 6.4 0 1 0 -12.8 0zM586.7 589.9a6.4 6.4 0 1 0 12.8 0a6.4 6.4 0 1 0 -12.8 0zM591.1 592.4a6.4 6.4 0 1 0 12.8 0a6.4 6.4 0 1 0 -12.8 0zM595.3 594.5a6.4 6.4 0 1 0 12.8 0a6.4 6.4 0 1 0 -12.8 0zM599.4 596.4a6.4 6.4 0 1 0 12.8 0a6.4 6.4 0 1 0 -12.8 0zM603.4 598.2a6.4 6.4 0 1 0 12.8 0a6.4 6.4 0 1 0 -12.8 0zM607.2 599.9a6.4 6.4 0 1 0 12.8 0a6.4 6.4 0 1 0 -12.8 0zM611.0 601.5a6.4 6.4 0 1 0 12.8 0a6.4 6.4 0 1 0 -12.8 0zM614.6 603.0a6.4 6.4 0 1 0 12.8 0a6.4 6.4 0 1 0 -12.8 0zM618.1 604.4a6.4 6.4 0 1 0 12.8 0a6.4 6.4 0 1 0 -12.8 0zM621.5 605.8a6.4 6.4 0 1 0 12.8 0a6.4 6.4 0 1 0 -12.8 0zM624.8 607.1a6.4 6.4 0 1 0 12.8 0a6.4 6.4 0 1 0 -12.8 0zM628.0 608.3a6.4 6.4 0 1 0 12.8 0a6.4 6.4 0 1 0 -12.8 0zM631.2 609.6a6.4 6.4 0 1 0 12.8 0a6.4 6.4 0 1 0 -12.8 0zM634.2 610.8a6.4 6.4 0 1 0 12.8 0a6.4 6.4 0 1 0 -12.8 0zM637.2 612.0a6.4 6.4 0 1 0 12.8 0a6.4 6.4 0 1 0 -12.8 0zM640.1 613.2a6.4 6.4 0 1 0 12.8 0a6.4 6.4 0 1 0 -12.8 0zM643.0 614.4a6.4 6.4 0 1 0 12.8 0a6.4 6.4 0 1 0 -12.8 0zM645.7 615.5a6.4 6.4 0 1 0 12.8 0a6.4 6.4 0 1 0 -12.8 0zM648.5 616.6a6.4 6.4 0 1 0 12.8 0a6.4 6.4 0 1 0 -12.8 0zM651.1 617.6a6.4 6.4 0 1 0 12.8 0a6.4 6.4 0 1 0 -12.8 0zM653.7 618.6a6.4 6.4 0 1 0 12.8 0a6.4 6.4 0 1 0 -12.8 0zM656.3 619.6a6.4 6.4 0 1 0 12.8 0a6.4 6.4 0 1 0 -12.8 0zM658.8 620.5a6.4 6.4 0 1 0 12.8 0a6.4 6.4 0 1 0 -12.8 0zM661.2 621.4a6.4 6.4 0 1 0 12.8 0a6.4 6.4 0 1 0 -12.8 0zM663.6 622.3a6.4 6.4 0 1 0 12.8 0a6.4 6.4 0 1 0 -12.8 0zM665.9 623.1a6.4 6.4 0 1 0 12.8 0a6.4 6.4 0 1 0 -12.8 0zM668.2 623.9a6.4 6.4 0 1 0 12.8 0a6.4 6.4 0 1 0 -12.8 0zM670.5 624.6a6.4 6.4 0 1 0 12.8 0a6.4 6.4 0 1 0 -12.8 0zM672.7 625.3a6.4 6.4 0 1 0 12.8 0a6.4 6.4 0 1 0 -12.8 0zM674.9 625.9a6.4 6.4 0 1 0 12.8 0a6.4 6.4 0 1 0 -12.8 0zM677.0 626.4a6.4 6.4 0 1 0 12.8 0a6.4 6.4 0 1 0 -12.8 0zM679.1 627.0a6.4 6.4 0 1 0 12.8 0a6.4 6.4 0 1 0 -12.8 0zM681.2 627.5a6.4 6.4 0 1 0 12.8 0a6.4 6.4 0 1 0 -12.8 0zM683.2 628.0a6.4 6.4 0 1 0 12.8 0a6.4 6.4 0 1 0 -12.8 0zM685.2 628.5a6.4 6.4 0 1 0 12.8 0a6.4 6.4 0 1 0 -12.8 0zM687.2 628.9a6.4 6.4 0 1 0 12.8 0a6.4 6.4 0 1 0 -12.8 0zM689.1 629.4a6.4 6.4 0 1 0 12.8 0a6.4 6.4 0 1 0 -12.8 0zM691.0 629.8a6.4 6.4 0 1 0 12.8 0a6.4 6.4 0 1 0 -12.8 0zM692.9 630.2a6.4 6.4 0 1 0 12.8 0a6.4 6.4 0 1 0 -12.8 0zM694.8 630.6a6.4 6.4 0 1 0 12.8 0a6.4 6.4 0 1 0 -12.8 0zM696.6 631.0a6.4 6.4 0 1 0 12.8 0a6.4 6.4 0 1 0 -12.8 0zM698.4 631.4a6.4 6.4 0 1 0 12.8 0a6.4 6.4 0 1 0 -12.8 0zM700.1 631.7a6.4 6.4 0 1 0 12.8 0a6.4 6.4 0 1 0 -12.8 0zM701.9 632.1a6.4 6.4 0 1 0 12.8 0a6.4 6.4 0 1 0 -12.8 0zM703.6 632.4a6.4 6.4 0 1 0 12.8 0a6.4 6.4 0 1 0 -12.8 0zM705.3 632.7a6.4 6.4 0 1 0 12.8 0a6.4 6.4 0 1 0 -12.8 0zM706.9 633.1a6.4 6.4 0 1 0 12.8 0a6.4 6.4 0 1 0 -12.8 0zM708.6 633.4a6.4 6.4 0 1 0 12.8 0a6.4 6.4 0 1 0 -12.8 0zM710.2 633.7a6.4 6.4 0 1 0 12.8 0a6.4 6.4 0 1 0 -12.8 0zM711.8 634.0a6.4 6.4 0 1 0 12.8 0a6.4 6.4 0 1 0 -12.8 0zM713.4 634.3a6.4 6.4 0 1 0 12.8 0a6.4 6.4 0 1 0 -12.8 0zM715.0 634.7a6.4 6.4 0 1 0 12.8 0a6.4 6.4 0 1 0 -12.8 0zM716.5 635.0a6.4 6.4 0 1 0 12.8 0a6.4 6.4 0 1 0 -12.8 0zM718.0 635.3a6.4 6.4 0 1 0 12.8 0a6.4 6.4 0 1 0 -12.8 0zM719.5 635.6a6.4 6.4 0 1 0 12.8 0a6.4 6.4 0 1 0 -12.8 0zM721.0 635.9a6.4 6.4 0 1 0 12.8 0a6.4 6.4 0 1 0 -12.8 0zM722.5 636.2a6.4 6.4 0 1 0 12.8 0a6.4 6.4 0 1 0 -12.8 0zM723.9 636.5a6.4 6.4 0 1 0 12.8 0a6.4 6.4 0 1 0 -12.8 0zM725.4 636.8a6.4 6.4 0 1 0 12.8 0a6.4 6.4 0 1 0 -12.8 0zM726.8 637.0a6.4 6.4 0 1 0 12.8 0a6.4 6.4 0 1 0 -12.8 0zM728.2 637.3a6.4 6.4 0 1 0 12.8 0a6.4 6.4 0 1 0 -12.8 0zM729.5 637.6a6.4 6.4 0 1 0 12.8 0a6.4 6.4 0 1 0 -12.8 0zM730.9 637.8a6.4 6.4 0 1 0 12.8 0a6.4 6.4 0 1 0 -12.8 0zM732.3 638.0a6.4 6.4 0 1 0 12.8 0a6.4 6.4 0 1 0 -12.8 0zM733.6 638.3a6.4 6.4 0 1 0 12.8 0a6.4 6.4 0 1 0 -12.8 0zM734.9 638.5a6.4 6.4 0 1 0 12.8 0a6.4 6.4 0 1 0 -12.8 0zM736.2 638.7a6.4 6.4 0 1 0 12.8 0a6.4 6.4 0 1 0 -12.8 0zM737.5 638.9a6.4 6.4 0 1 0 12.8 0a6.4 6.4 0 1 0 -12.8 0zM738.8 639.1a6.4 6.4 0 1 0 12.8 0a6.4 6.4 0 1 0 -12.8 0zM740.1 639.3a6.4 6.4 0 1 0 12.8 0a6.4 6.4 0 1 0 -12.8 0zM741.3 639.5a6.4 6.4 0 1 0 12.8 0a6.4 6.4 0 1 0 -12.8 0zM742.6 639.6a6.4 6.4 0 1 0 12.8 0a6.4 6.4 0 1 0 -12.8 0zM743.8 639.8a6.4 6.4 0 1 0 12.8 0a6.4 6.4 0 1 0 -12.8 0zM745.0 640.0a6.4 6.4 0 1 0 12.8 0a6.4 6.4 0 1 0 -12.8 0zM746.2 640.2a6.4 6.4 0 1 0 12.8 0a6.4 6.4 0 1 0 -12.8 0zM747.4 640.3a6.4 6.4 0 1 0 12.8 0a6.4 6.4 0 1 0 -12.8 0zM748.6 640.5a6.4 6.4 0 1 0 12.8 0a6.4 6.4 0 1 0 -12.8 0zM749.7 640.7a6.4 6.4 0 1 0 12.8 0a6.4 6.4 0 1 0 -12.8 0zM750.9 640.9a6.4 6.4 0 1 0 12.8 0a6.4 6.4 0 1 0 -12.8 0zM752.0 641.0a6.4 6.4 0 1 0 12.8 0a6.4 6.4 0 1 0 -12.8 0zM753.2 641.2a6.4 6.4 0 1 0 12.8 0a6.4 6.4 0 1 0 -12.8 0zM754.3 641.4a6.4 6.4 0 1 0 12.8 0a6.4 6.4 0 1 0 -12.8 0zM755.4 641.5a6.4 6.4 0 1 0 12.8 0a6.4 6.4 0 1 0 -12.8 0zM756.5 641.7a6.4 6.4 0 1 0 12.8 0a6.4 6.4 0 1 0 -12.8 0zM757.6 641.8a6.4 6.4 0 1 0 12.8 0a6.4 6.4 0 1 0 -12.8 0zM758.7 642.0a6.4 6.4 0 1 0 12.8 0a6.4 6.4 0 1 0 -12.8 0zM759.8 642.1a6.4 6.4 0 1 0 12.8 0a6.4 6.4 0 1 0 -12.8 0zM760.8 642.3a6.4 6.4 0 1 0 12.8 0a6.4 6.4 0 1 0 -12.8 0zM761.9 642.4a6.4 6.4 0 1 0 12.8 0a6.4 6.4 0 1 0 -12.8 0zM762.9 642.6a6.4 6.4 0 1 0 12.8 0a6.4 6.4 0 1 0 -12.8 0zM764.0 642.7a6.4 6.4 0 1 0 12.8 0a6.4 6.4 0 1 0 -12.8 0zM765.0 642.9a6.4 6.4 0 1 0 12.8 0a6.4 6.4 0 1 0 -12.8 0zM766.0 643.0a6.4 6.4 0 1 0 12.8 0a6.4 6.4 0 1 0 -12.8 0zM767.0 643.2a6.4 6.4 0 1 0 12.8 0a6.4 6.4 0 1 0 -12.8 0zM768.0 643.3a6.4 6.4 0 1 0 12.8 0a6.4 6.4 0 1 0 -12.8 0zM769.0 643.5a6.4 6.4 0 1 0 12.8 0a6.4 6.4 0 1 0 -12.8 0zM770.0 643.6a6.4 6.4 0 1 0 12.8 0a6.4 6.4 0 1 0 -12.8 0zM771.0 643.8a6.4 6.4 0 1 0 12.8 0a6.4 6.4 0 1 0 -12.8 0zM772.0 644.0a6.4 6.4 0 1 0 12.8 0a6.4 6.4 0 1 0 -12.8 0zM772.9 644.1a6.4 6.4 0 1 0 12.8 0a6.4 6.4 0 1 0 -12.8 0zM773.9 644.3a6.4 6.4 0 1 0 12.8 0a6.4 6.4 0 1 0 -12.8 0zM774.8 644.5a6.4 6.4 0 1 0 12.8 0a6.4 6.4 0 1 0 -12.8 0zM775.8 644.7a6.4 6.4 0 1 0 12.8 0a6.4 6.4 0 1 0 -12.8 0zM776.7 644.8a6.4 6.4 0 1 0 12.8 0a6.4 6.4 0 1 0 -12.8 0zM777.6 645.0a6.4 6.4 0 1 0 12.8 0a6.4 6.4 0 1 0 -12.8 0zM778.6 645.2a6.4 6.4 0 1 0 12.8 0a6.4 6.4 0 1 0 -12.8 0zM779.5 645.4a6.4 6.4 0 1 0 12.8 0a6.4 6.4 0 1 0 -12.8 0zM780.4 645.6a6.4 6.4 0 1 0 12.8 0a6.4 6.4 0 1 0 -12.8 0zM781.3 645.8a6.4 6.4 0 1 0 12.8 0a6.4 6.4 0 1 0 -12.8 0zM782.2 646.0a6.4 6.4 0 1 0 12.8 0a6.4 6.4 0 1 0 -12.8 0zM783.1 646.1a6.4 6.4 0 1 0 12.8 0a6.4 6.4 0 1 0 -12.8 0zM783.9 646.3a6.4 6.4 0 1 0 12.8 0a6.4 6.4 0 1 0 -12.8 0zM784.8 646.5a6.4 6.4 0 1 0 12.8 0a6.4 6.4 0 1 0 -12.8 0zM785.7 646.7a6.4 6.4 0 1 0 12.8 0a6.4 6.4 0 1 0 -12.8 0zM786.5 646.9a6.4 6.4 0 1 0 12.8 0a6.4 6.4 0 1 0 -12.8 0zM787.4 647.1a6.4 6.4 0 1 0 12.8 0a6.4 6.4 0 1 0 -12.8 0zM788.2 647.3a6.4 6.4 0 1 0 12.8 0a6.4 6.4 0 1 0 -12.8 0zM789.1 647.4a6.4 6.4 0 1 0 12.8 0a6.4 6.4 0 1 0 -12.8 0zM789.9 647.6a6.4 6.4 0 1 0 12.8 0a6.4 6.4 0 1 0 -12.8 0zM790.8 647.8a6.4 6.4 0 1 0 12.8 0a6.4 6.4 0 1 0 -12.8 0zM791.6 648.0a6.4 6.4 0 1 0 12.8 0a6.4 6.4 0 1 0 -12.8 0zM792.4 648.1a6.4 6.4 0 1 0 12.8 0a6.4 6.4 0 1 0 -12.8 0zM793.2 648.3a6.4 6.4 0 1 0 12.8 0a6.4 6.4 0 1 0 -12.8 0zM794.0 648.5a6.4 6.4 0 1 0 12.8 0a6.4 6.4 0 1 0 -12.8 0zM794.8 648.7a6.4 6.4 0 1 0 12.8 0a6.4 6.4 0 1 0 -12.8 0zM795.6 648.8a6.4 6.4 0 1 0 12.8 0a6.4 6.4 0 1 0 -12.8 0zM796.4 649.0a6.4 6.4 0 1 0 12.8 0a6.4 6.4 0 1 0 -12.8 0zM797.2 649.2a6.4 6.4 0 1 0 12.8 0a6.4 6.4 0 1 0 -12.8 0zM798.0 649.3a6.4 6.4 0 1 0 12.8 0a6.4 6.4 0 1 0 -12.8 0zM798.8 649.5a6.4 6.4 0 1 0 12.8 0a6.4 6.4 0 1 0 -12.8 0zM799.5 649.7a6.4 6.4 0 1 0 12.8 0a6.4 6.4 0 1 0 -12.8 0zM800.3 649.8a6.4 6.4 0 1 0 12.8 0a6.4 6.4 0 1 0 -12.8 0zM801.1 650.0a6.4 6.4 0 1 0 12.8 0a6.4 6.4 0 1 0 -12.8 0zM801.8 650.2a6.4 6.4 0 1 0 12.8 0a6.4 6.4 0 1 0 -12.8 0zM802.6 650.4a6.4 6.4 0 1 0 12.8 0a6.4 6.4 0 1 0 -12.8 0zM803.3 650.5a6.4 6.4 0 1 0 12.8 0a6.4 6.4 0 1 0 -12.8 0zM804.1 650.7a6.4 6.4 0 1 0 12.8 0a6.4 6.4 0 1 0 -12.8 0zM804.8 650.9a6.4 6.4 0 1 0 12.8 0a6.4 6.4 0 1 0 -12.8 0zM805.5 651.0a6.4 6.4 0 1 0 12.8 0a6.4 6.4 0 1 0 -12.8 0zM806.3 651.2a6.4 6.4 0 1 0 12.8 0a6.4 6.4 0 1 0 -12.8 0zM807.0 651.4a6.4 6.4 0 1 0 12.8 0a6.4 6.4 0 1 0 -12.8 0zM807.7 651.6a6.4 6.4 0 1 0 12.8 0a6.4 6.4 0 1 0 -12.8 0zM808.4 651.8a6.4 6.4 0 1 0 12.8 0a6.4 6.4 0 1 0 -12.8 0zM809.2 651.9a6.4 6.4 0 1 0 12.8 0a6.4 6.4 0 1 0 -12.8 0zM809.9 652.1a6.4 6.4 0 1 0 12.8 0a6.4 6.4 0 1 0 -12.8 0zM810.6 652.3a6.4 6.4 0 1 0 12.8 0a6.4 6.4 0 1 0 -12.8 0zM811.3 652.5a6.4 6.4 0 1 0 12.8 0a6.4 6.4 0 1 0 -12.8 0zM812.0 652.7a6.4 6.4 0 1 0 12.8 0a6.4 6.4 0 1 0 -12.8 0zM812.7 652.9a6.4 6.4 0 1 0 12.8 0a6.4 6.4 0 1 0 -12.8 0zM813.4 653.1a6.4 6.4 0 1 0 12.8 0a6.4 6.4 0 1 0 -12.8 0zM814.0 653.3a6.4 6.4 0 1 0 12.8 0a6.4 6.4 0 1 0 -12.8 0zM814.7 653.5a6.4 6.4 0 1 0 12.8 0a6.4 6.4 0 1 0 -12.8 0zM815.4 653.7a6.4 6.4 0 1 0 12.8 0a6.4 6.4 0 1 0 -12.8 0zM816.1 653.9a6.4 6.4 0 1 0 12.8 0a6.4 6.4 0 1 0 -12.8 0zM816.7 654.1a6.4 6.4 0 1 0 12.8 0a6.4 6.4 0 1 0 -12.8 0zM817.4 654.3a6.4 6.4 0 1 0 12.8 0a6.4 6.4 0 1 0 -12.8 0zM818.1 654.5a6.4 6.4 0 1 0 12.8 0a6.4 6.4 0 1 0 -12.8 0zM818.7 654.7a6.4 6.4 0 1 0 12.8 0a6.4 6.4 0 1 0 -12.8 0zM819.4 654.9a6.4 6.4 0 1 0 12.8 0a6.4 6.4 0 1 0 -12.8 0zM820.0 655.2a6.4 6.4 0 1 0 12.8 0a6.4 6.4 0 1 0 -12.8 0zM820.7 655.4a6.4 6.4 0 1 0 12.8 0a6.4 6.4 0 1 0 -12.8 0zM821.3 655.6a6.4 6.4 0 1 0 12.8 0a6.4 6.4 0 1 0 -12.8 0zM822.0 655.8a6.4 6.4 0 1 0 12.8 0a6.4 6.4 0 1 0 -12.8 0zM822.6 656.0a6.4 6.4 0 1 0 12.8 0a6.4 6.4 0 1 0 -12.8 0zM823.2 656.2a6.4 6.4 0 1 0 12.8 0a6.4 6.4 0 1 0 -12.8 0zM823.9 656.4a6.4 6.4 0 1 0 12.8 0a6.4 6.4 0 1 0 -12.8 0zM824.5 656.7a6.4 6.4 0 1 0 12.8 0a6.4 6.4 0 1 0 -12.8 0zM825.1 656.9a6.4 6.4 0 1 0 12.8 0a6.4 6.4 0 1 0 -12.8 0zM825.7 657.1a6.4 6.4 0 1 0 12.8 0a6.4 6.4 0 1 0 -12.8 0zM826.4 657.3a6.4 6.4 0 1 0 12.8 0a6.4 6.4 0 1 0 -12.8 0zM827.0 657.5a6.4 6.4 0 1 0 12.8 0a6.4 6.4 0 1 0 -12.8 0zM827.6 657.7a6.4 6.4 0 1 0 12.8 0a6.4 6.4 0 1 0 -12.8 0zM828.2 658.0a6.4 6.4 0 1 0 12.8 0a6.4 6.4 0 1 0 -12.8 0zM828.8 658.2a6.4 6.4 0 1 0 12.8 0a6.4 6.4 0 1 0 -12.8 0zM829.4 658.4a6.4 6.4 0 1 0 12.8 0a6.4 6.4 0 1 0 -12.8 0zM830.0 658.6a6.4 6.4 0 1 0 12.8 0a6.4 6.4 0 1 0 -12.8 0zM830.6 658.8a6.4 6.4 0 1 0 12.8 0a6.4 6.4 0 1 0 -12.8 0zM831.2 659.0a6.4 6.4 0 1 0 12.8 0a6.4 6.4 0 1 0 -12.8 0zM831.8 659.2a6.4 6.4 0 1 0 12.8 0a6.4 6.4 0 1 0 -12.8 0zM832.4 659.5a6.4 6.4 0 1 0 12.8 0a6.4 6.4 0 1 0 -12.8 0zM833.0 659.7a6.4 6.4 0 1 0 12.8 0a6.4 6.4 0 1 0 -12.8 0zM833.5 659.9a6.4 6.4 0 1 0 12.8 0a6.4 6.4 0 1 0 -12.8 0zM834.1 660.1a6.4 6.4 0 1 0 12.8 0a6.4 6.4 0 1 0 -12.8 0zM834.7 660.3a6.4 6.4 0 1 0 12.8 0a6.4 6.4 0 1 0 -12.8 0zM835.3 660.6a6.4 6.4 0 1 0 12.8 0a6.4 6.4 0 1 0 -12.8 0zM835.9 660.8a6.4 6.4 0 1 0 12.8 0a6.4 6.4 0 1 0 -12.8 0zM836.4 661.0a6.4 6.4 0 1 0 12.8 0a6.4 6.4 0 1 0 -12.8 0zM837.0 661.2a6.4 6.4 0 1 0 12.8 0a6.4 6.4 0 1 0 -12.8 0zM837.6 661.4a6.4 6.4 0 1 0 12.8 0a6.4 6.4 0 1 0 -12.8 0zM838.1 661.7a6.4 6.4 0 1 0 12.8 0a6.4 6.4 0 1 0 -12.8 0zM838.7 661.9a6.4 6.4 0 1 0 12.8 0a6.4 6.4 0 1 0 -12.8 0zM839.2 662.1a6.4 6.4 0 1 0 12.8 0a6.4 6.4 0 1 0 -12.8 0zM839.8 662.3a6.4 6.4 0 1 0 12.8 0a6.4 6.4 0 1 0 -12.8 0zM840.3 662.6a6.4 6.4 0 1 0 12.8 0a6.4 6.4 0 1 0 -12.8 0zM840.9 662.8a6.4 6.4 0 1 0 12.8 0a6.4 6.4 0 1 0 -12.8 0zM841.4 663.0a6.4 6.4 0 1 0 12.8 0a6.4 6.4 0 1 0 -12.8 0zM842.0 663.2a6.4 6.4 0 1 0 12.8 0a6.4 6.4 0 1 0 -12.8 0zM842.5 663.4a6.4 6.4 0 1 0 12.8 0a6.4 6.4 0 1 0 -12.8 0zM843.0 663.7a6.4 6.4 0 1 0 12.8 0a6.4 6.4 0 1 0 -12.8 0zM843.6 663.9a6.4 6.4 0 1 0 12.8 0a6.4 6.4 0 1 0 -12.8 0zM844.1 664.1a6.4 6.4 0 1 0 12.8 0a6.4 6.4 0 1 0 -12.8 0zM844.6 664.3a6.4 6.4 0 1 0 12.8 0a6.4 6.4 0 1 0 -12.8 0zM845.2 664.6a6.4 6.4 0 1 0 12.8 0a6.4 6.4 0 1 0 -12.8 0zM845.7 664.8a6.4 6.4 0 1 0 12.8 0a6.4 6.4 0 1 0 -12.8 0zM846.2 665.0a6.4 6.4 0 1 0 12.8 0a6.4 6.4 0 1 0 -12.8 0zM846.8 665.2a6.4 6.4 0 1 0 12.8 0a6.4 6.4 0 1 0 -12.8 0zM847.3 665.4a6.4 6.4 0 1 0 12.8 0a6.4 6.4 0 1 0 -12.8 0zM847.8 665.7a6.4 6.4 0 1 0 12.8 0a6.4 6.4 0 1 0 -12.8 0zM848.3 665.9a6.4 6.4 0 1 0 12.8 0a6.4 6.4 0 1 0 -12.8 0zM848.8 666.1a6.4 6.4 0 1 0 12.8 0a6.4 6.4 0 1 0 -12.8 0zM849.3 666.3a6.4 6.4 0 1 0 12.8 0a6.4 6.4 0 1 0 -12.8 0zM849.8 666.5a6.4 6.4 0 1 0 12.8 0a6.4 6.4 0 1 0 -12.8 0zM850.3 666.7a6.4 6.4 0 1 0 12.8 0a6.4 6.4 0 1 0 -12.8 0zM850.9 667.0a6.4 6.4 0 1 0 12.8 0a6.4 6.4 0 1 0 -12.8 0zM851.4 667.2a6.4 6.4 0 1 0 12.8 0a6.4 6.4 0 1 0 -12.8 0zM851.9 667.4a6.4 6.4 0 1 0 12.8 0a6.4 6.4 0 1 0 -12.8 0zM852.4 667.6a6.4 6.4 0 1 0 12.8 0a6.4 6.4 0 1 0 -12.8 0zM852.8 667.8a6.4 6.4 0 1 0 12.8 0a6.4 6.4 0 1 0 -12.8 0zM853.3 668.0a6.4 6.4 0 1 0 12.8 0a6.4 6.4 0 1 0 -12.8 0zM853.8 668.3a6.4 6.4 0 1 0 12.8 0a6.4 6.4 0 1 0 -12.8 0zM854.3 668.5a6.4 6.4 0 1 0 12.8 0a6.4 6.4 0 1 0 -12.8 0zM854.8 668.7a6.4 6.4 0 1 0 12.8 0a6.4 6.4 0 1 0 -12.8 0zM855.3 668.9a6.4 6.4 0 1 0 12.8 0a6.4 6.4 0 1 0 -12.8 0zM855.8 669.1a6.4 6.4 0 1 0 12.8 0a6.4 6.4 0 1 0 -12.8 0zM856.3 669.3a6.4 6.4 0 1 0 12.8 0a6.4 6.4 0 1 0 -12.8 0zM856.7 669.5a6.4 6.4 0 1 0 12.8 0a6.4 6.4 0 1 0 -12.8 0zM857.2 669.7a6.4 6.4 0 1 0 12.8 0a6.4 6.4 0 1 0 -12.8 0zM857.7 670.0a6.4 6.4 0 1 0 12.8 0a6.4 6.4 0 1 0 -12.8 0zM858.2 670.2a6.4 6.4 0 1 0 12.8 0a6.4 6.4 0 1 0 -12.8 0zM858.7 670.4a6.4 6.4 0 1 0 12.8 0a6.4 6.4 0 1 0 -12.8 0zM859.1 670.6a6.4 6.4 0 1 0 12.8 0a6.4 6.4 0 1 0 -12.8 0zM859.6 670.8a6.4 6.4 0 1 0 12.8 0a6.4 6.4 0 1 0 -12.8 0zM860.1 671.0a6.4 6.4 0 1 0 12.8 0a6.4 6.4 0 1 0 -12.8 0zM860.5 671.2a6.4 6.4 0 1 0 12.8 0a6.4 6.4 0 1 0 -12.8 0zM861.0 671.4a6.4 6.4 0 1 0 12.8 0a6.4 6.4 0 1 0 -12.8 0zM861.5 671.6a6.4 6.4 0 1 0 12.8 0a6.4 6.4 0 1 0 -12.8 0zM861.9 671.9a6.4 6.4 0 1 0 12.8 0a6.4 6.4 0 1 0 -12.8 0zM862.4 672.1a6.4 6.4 0 1 0 12.8 0a6.4 6.4 0 1 0 -12.8 0zM862.8 672.3a6.4 6.4 0 1 0 12.8 0a6.4 6.4 0 1 0 -12.8 0zM863.3 672.5a6.4 6.4 0 1 0 12.8 0a6.4 6.4 0 1 0 -12.8 0zM863.7 672.7a6.4 6.4 0 1 0 12.8 0a6.4 6.4 0 1 0 -12.8 0zM864.2 672.9a6.4 6.4 0 1 0 12.8 0a6.4 6.4 0 1 0 -12.8 0zM864.6 673.1a6.4 6.4 0 1 0 12.8 0a6.4 6.4 0 1 0 -12.8 0zM865.1 673.3a6.4 6.4 0 1 0 12.8 0a6.4 6.4 0 1 0 -12.8 0zM865.5 673.5a6.4 6.4 0 1 0 12.8 0a6.4 6.4 0 1 0 -12.8 0zM866.0 673.7a6.4 6.4 0 1 0 12.8 0a6.4 6.4 0 1 0 -12.8 0zM866.4 673.9a6.4 6.4 0 1 0 12.8 0a6.4 6.4 0 1 0 -12.8 0zM866.9 674.1a6.4 6.4 0 1 0 12.8 0a6.4 6.4 0 1 0 -12.8 0zM867.3 674.3a6.4 6.4 0 1 0 12.8 0a6.4 6.4 0 1 0 -12.8 0zM867.7 674.6a6.4 6.4 0 1 0 12.8 0a6.4 6.4 0 1 0 -12.8 0zM868.2 674.8a6.4 6.4 0 1 0 12.8 0a6.4 6.4 0 1 0 -12.8 0zM868.6 675.0a6.4 6.4 0 1 0 12.8 0a6.4 6.4 0 1 0 -12.8 0zM869.1 675.2a6.4 6.4 0 1 0 12.8 0a6.4 6.4 0 1 0 -12.8 0zM869.5 675.4a6.4 6.4 0 1 0 12.8 0a6.4 6.4 0 1 0 -12.8 0zM869.9 675.6a6.4 6.4 0 1 0 12.8 0a6.4 6.4 0 1 0 -12.8 0zM870.3 675.8a6.4 6.4 0 1 0 12.8 0a6.4 6.4 0 1 0 -12.8 0zM870.8 676.0a6.4 6.4 0 1 0 12.8 0a6.4 6.4 0 1 0 -12.8 0zM871.2 676.2a6.4 6.4 0 1 0 12.8 0a6.4 6.4 0 1 0 -12.8 0zM871.6 676.4a6.4 6.4 0 1 0 12.8 0a6.4 6.4 0 1 0 -12.8 0zM872.1 676.6a6.4 6.4 0 1 0 12.8 0a6.4 6.4 0 1 0 -12.8 0zM872.5 676.8a6.4 6.4 0 1 0 12.8 0a6.4 6.4 0 1 0 -12.8 0zM872.9 677.0a6.4 6.4 0 1 0 12.8 0a6.4 6.4 0 1 0 -12.8 0zM873.3 677.2a6.4 6.4 0 1 0 12.8 0a6.4 6.4 0 1 0 -12.8 0zM873.7 677.4a6.4 6.4 0 1 0 12.8 0a6.4 6.4 0 1 0 -12.8 0zM874.1 677.6a6.4 6.4 0 1 0 12.8 0a6.4 6.4 0 1 0 -12.8 0zM874.6 677.8a6.4 6.4 0 1 0 12.8 0a6.4 6.4 0 1 0 -12.8 0zM875.0 678.0a6.4 6.4 0 1 0 12.8 0a6.4 6.4 0 1 0 -12.8 0zM875.4 678.2a6.4 6.4 0 1 0 12.8 0a6.4 6.4 0 1 0 -12.8 0zM875.8 678.4a6.4 6.4 0 1 0 12.8 0a6.4 6.4 0 1 0 -12.8 0zM876.2 678.6a6.4 6.4 0 1 0 12.8 0a6.4 6.4 0 1 0 -12.8 0zM876.6 678.8a6.4 6.4 0 1 0 12.8 0a6.4 6.4 0 1 0 -12.8 0zM877.0 679.0a6.4 6.4 0 1 0 12.8 0a6.4 6.4 0 1 0 -12.8 0zM877.4 679.2a6.4 6.4 0 1 0 12.8 0a6.4 6.4 0 1 0 -12.8 0zM877.8 679.4a6.4 6.4 0 1 0 12.8 0a6.4 6.4 0 1 0 -12.8 0z" fill="#4df3ff"/>
<path d="M271.7 278.0a6.4 6.4 0 1 0 12.8 0a6.4 6.4 0 1 0 -12.8 0zM318.2 278.0a6.4 6.4 0 1 0 12.8 0a6.4 6.4 0 1 0 -12.8 0zM353.4 279.4a6.4 6.4 0 1 0 12.8 0a6.4 6.4 0 1 0 -12.8 0zM380.8 281.3a6.4 6.4 0 1 0 12.8 0a6.4 6.4 0 1 0 -12.8 0zM402.6 282.7a6.4 6.4 0 1 0 12.8 0a6.4 6.4 0 1 0 -12.8 0zM421.9 284.9a6.4 6.4 0 1 0 12.8 0a6.4 6.4 0 1 0 -12.8 0zM437.8 288.3a6.4 6.4 0 1 0 12.8 0a6.4 6.4 0 1 0 -12.8 0zM451.6 291.6a6.4 6.4 0 1 0 12.8 0a6.4 6.4 0 1 0 -12.8 0zM464.4 296.2a6.4 6.4 0 1 0 12.8 0a6.4 6.4 0 1 0 -12.8 0zM476.7 301.7a6.4 6.4 0 1 0 12.8 0a6.4 6.4 0 1 0 -12.8 0zM487.2 308.4a6.4 6.4 0 1 0 12.8 0a6.4 6.4 0 1 0 -12.8 0zM497.4 315.0a6.4 6.4 0 1 0 12.8 0a6.4 6.4 0 1 0 -12.8 0zM506.7 324.8a6.4 6.4 0 1 0 12.8 0a6.4 6.4 0 1 0 -12.8 0zM515.3 333.1a6.4 6.4 0 1 0 12.8 0a6.4 6.4 0 1 0 -12.8 0zM523.4 342.1a6.4 6.4 0 1 0 12.8 0a6.4 6.4 0 1 0 -12.8 0zM530.8 353.2a6.4 6.4 0 1 0 12.8 0a6.4 6.4 0 1 0 -12.8 0zM537.7 364.1a6.4 6.4 0 1 0 12.8 0a6.4 6.4 0 1 0 -12.8 0zM544.2 375.9a6.4 6.4 0 1 0 12.8 0a6.4 6.4 0 1 0 -12.8 0zM550.4 388.6a6.4 6.4 0 1 0 12.8 0a6.4 6.4 0 1 0 -12.8 0zM556.3 402.4a6.4 6.4 0 1 0 12.8 0a6.4 6.4 0 1 0 -12.8 0zM561.9 416.1a6.4 6.4 0 1 0 12.8 0a6.4 6.4 0 1 0 -12.8 0zM567.3 429.0a6.4 6.4 0 1 0 12.8 0a6.4 6.4 0 1 0 -12.8 0zM572.5 441.5a6.4 6.4 0 1 0 12.8 0a6.4 6.4 0 1 0 -12.8 0zM577.4 455.2a6.4 6.4 0 1 0 12.8 0a6.4 6.4 0 1 0 -12.8 0zM582.1 469.1a6.4 6.4 0 1 0 12.8 0a6.4 6.4 0 1 0 -12.8 0zM586.7 480.8a6.4 6.4 0 1 0 12.8 0a6.4 6.4 0 1 0 -12.8 0zM591.1 491.0a6.4 6.4 0 1 0 12.8 0a6.4 6.4 0 1 0 -12.8 0zM595.3 500.4a6.4 6.4 0 1 0 12.8 0a6.4 6.4 0 1 0 -12.8 0zM599.4 509.1a6.4 6.4 0 1 0 12.8 0a6.4 6.4 0 1 0 -12.8 0zM603.4 516.7a6.4 6.4 0 1 0 12.8 0a6.4 6.4 0 1 0 -12.8 0zM607.2 523.3a6.4 6.4 0 1 0 12.8 0a6.4 6.4 0 1 0 -12.8 0zM611.0 529.2a6.4 6.4 0 1 0 12.8 0a6.4 6.4 0 1 0 -12.8 0zM614.6 534.7a6.4 6.4 0 1 0 12.8 0a6.4 6.4 0 1 0 -12.8 0zM618.1 539.7a6.4 6.4 0 1 0 12.8 0a6.4 6.4 0 1 0 -12.8 0zM621.5 544.3a6.4 6.4 0 1 0 12.8 0a6.4 6.4 0 1 0 -12.8 0zM624.8 548.5a6.4 6.4 0 1 0 12.8 0a6.4 6.4 0 1 0 -12.8 0zM628.0 552.5a6.4 6.4 0 1 0 12.8 0a6.4 6.4 0 1 0 -12.8 0zM631.2 556.2a6.4 6.4 0 1 0 12.8 0a6.4 6.4 0 1 0 -12.8 0zM634.2 559.5a6.4 6.4 0 1 0 12.8 0a6.4 6.4 0 1 0 -12.8 0zM637.2 562.7a6.4 6.4 0 1 0 12.8 0a6.4 6.4 0 1 0 -12.8 0zM640.1 565.6a6.4 6.4 0 1 0 12.8 0a6.4 6.4 0 1 0 -12.8 0zM643.0 568.2a6.4 6.4 0 1 0 12.8 0a6.4 6.4 0 1 0 -12.8 0zM645.7 570.6a6.4 6.4 0 1 0 12.8 0a6.4 6.4 0 1 0 -12.8 0zM648.5 572.8a6.4 6.4 0 1 0 12.8 0a6.4 6.4 0 1 0 -12.8 0zM651.1 574.8a6.4 6.4 0 1 0 12.8 0a6.4 6.4 0 1 0 -12.8 0zM653.7 576.6a6.4 6.4 0 1 0 12.8 0a6.4 6.4 0 1 0 -12.8 0zM656.3 578.3a6.4 6.4 0 1 0 12.8 0a6.4 6.4 0 1 0 -12.8 0zM658.8 579.8a6.4 6.4 0 1 0 12.8 0a6.4 6.4 0 1 0 -12.8 0zM661.2 581.3a6.4 6.4 0 1 0 12.8 0a6.4 6.4 0 1 0 -12.8 0zM663.6 582.7a6.4 6.4 0 1 0 12.8 0a6.4 6.4 0 1 0 -12.8 0zM665.9 584.0a6.4 6.4 0 1 0 12.8 0a6.4 6.4 0 1 0 -12.8 0zM668.2 585.3a6.4 6.4 0 1 0 12.8 0a6.4 6.4 0 1 0 -12.8 0zM670.5 586.6a6.4 6.4 0 1 0 12.8 0a6.4 6.4 0 1 0 -12.8 0zM672.7 587.8a6.4 6.4 0 1 0 12.8 0a6.4 6.4 0 1 0 -12.8 0zM674.9 589.0a6.4 6.4 0 1 0 12.8 0a6.4 6.4 0 1 0 -12.8 0zM677.0 590.1a6.4 6.4 0 1 0 12.8 0a6.4 6.4 0 1 0 -12.8 0zM679.1 591.3a6.4 6.4 0 1 0 12.8 0a6.4 6.4 0 1 0 -12.8 0zM681.2 592.3a6.4 6.4 0 1 0 12.8 0a6.4 6.4 0 1 0 -12.8 0zM683.2 593.4a6.4 6.4 0 1 0 12.8 0a6.4 6.4 0 1 0 -12.8 0zM685.2 594.4a6.4 6.4 0 1 0 12.8 0a6.4 6.4 0 1 0 -12.8 0zM687.2 595.3a6.4 6.4 0 1 0 12.8 0a6.4 6.4 0 1 0 -12.8 0zM689.1 596.2a6.4 6.4 0 1 0 12.8 0a6.4 6.4 0 1 0 -12.8 0zM691.0 597.0a6.4 6.4 0 1 0 12.8 0a6.4 6.4 0 1 0 -12.8 0zM692.9 597.8a6.4 6.4 0 1 0 12.8 0a6.4 6.4 0 1 0 -12.8 0zM694.8 598.5a6.4 6.4 0 1 0 12.8 0a6.4 6.4 0 1 0 -12.8 0zM696.6 599.2a6.4 6.4 0 1 0 12.8 0a6.4 6.4 0 1 0 -12.8 0zM698.4 599.8a6.4 6.4 0 1 0 12.8 0a6.4 6.4 0 1 0 -12.8 0zM700.1 600.4a6.4 6.4 0 1 0 12.8 0a6.4 6.4 0 1 0 -12.8 0zM701.9 601.0a6.4 6.4 0 1 0 12.8 0a6.4 6.4 0 1 0 -12.8 0zM703.6 601.6a6.4 6.4 0 1 0 12.8 0a6.4 6.4 0 1 0 -12.8 0zM705.3 602.2a6.4 6.4 0 1 0 12.8 0a6.4 6.4 0 1 0 -12.8 0zM706.9 602.7a6.4 6.4 0 1 0 12.8 0a6.4 6.4 0 1 0 -12.8 0zM708.6 603.2a6.4 6.4 0 1 0 12.8 0a6.4 6.4 0 1 0 -12.8 0zM710.2 603.8a6.4 6.4 0 1 0 12.8 0a6.4 6.4 0 1 0 -12.8 0zM711.8 604.3a6.4 6.4 0 1 0 12.8 0a6.4 6.4 0 1 0 -12.8 0zM713.4 604.9a6.4 6.4 0 1 0 12.8 0a6.4 6.4 0 1 0 -12.8 0zM715.0 605.4a6.4 6.4 0 1 0 12.8 0a6.4 6.4 0 1 0 -12.8 0zM716.5 606.0a6.4 6.4 0 1 0 12.8 0a6.4 6.4 0 1 0 -12.8 0zM718.0 606.5a6.4 6.4 0 1 0 12.8 0a6.4 6.4 0 1 0 -12.8 0zM719.5 607.1a6.4 6.4 0 1 0 12.8 0a6.4 6.4 0 1 0 -12.8 0zM721.0 607.6a6.4 6.4 0 1 0 12.8 0a6.4 6.4 0 1 0 -12.8 0zM722.5 608.1a6.4 6.4 0 1 0 12.8 0a6.4 6.4 0 1 0 -12.8 0zM723.9 608.6a6.4 6.4 0 1 0 12.8 0a6.4 6.4 0 1 0 -12.8 0zM725.4 609.1a6.4 6.4 0 1 0 12.8 0a6.4 6.4 0 1 0 -12.8 0zM726.8 609.6a6.4 6.4 0 1 0 12.8 0a6.4 6.4 0 1 0 -12.8 0zM728.2 610.1a6.4 6.4 0 1 0 12.8 0a6.4 6.4 0 1 0 -12.8 0zM729.5 610.6a6.4 6.4 0 1 0 12.8 0a6.4 6.4 0 1 0 -12.8 0zM730.9 611.0a6.4 6.4 0 1 0 12.8 0a6.4 6.4 0 1 0 -12.8 0zM732.3 611.4a6.4 6.4 0 1 0 12.8 0a6.4 6.4 0 1 0 -12.8 0zM733.6 611.9a6.4 6.4 0 1 0 12.8 0a6.4 6.4 0 1 0 -12.8 0zM734.9 612.3a6.4 6.4 0 1 0 12.8 0a6.4 6.4 0 1 0 -12.8 0zM736.2 612.7a6.4 6.4 0 1 0 12.8 0a6.4 6.4 0 1 0 -12.8 0zM737.5 613.1a6.4 6.4 0 1 0 12.8 0a6.4 6.4 0 1 0 -12.8 0zM738.8 613.5a6.4 6.4 0 1 0 12.8 0a6.4 6.4 0 1 0 -12.8 0zM740.1 613.9a6.4 6.4 0 1 0 12.8 0a6.4 6.4 0 1 0 -12.8 0zM741.3 614.3a6.4 6.4 0 1 0 12.8 0a6.4 6.4 0 1 0 -12.8 0zM742.6 614.6a6.4 6.4 0 1 0 12.8 0a6.4 6.4 0 1 0 -12.8 0zM743.8 615.0a6.4 6.4 0 1 0 12.8 0a6.4 6.4 0 1 0 -12.8 0zM745.0 615.4a6.4 6.4 0 1 0 12.8 0a6.4 6.4 0 1 0 -12.8 0zM746.2 615.7a6.4 6.4 0 1 0 12.8 0a6.4 6.4 0 1 0 -12.8 0zM747.4 616.1a6.4 6.4 0 1 0 12.8 0a6.4 6.4 0 1 0 -12.8 0zM748.6 616.4a6.4 6.4 0 1 0 12.8 0a6.4 6.4 0 1 0 -12.8 0zM749.7 616.8a6.4 6.4 0 1 0 12.8 0a6.4 6.4 0 1 0 -12.8 0zM750.9 617.1a6.4 6.4 0 1 0 12.8 0a6.4 6.4 0 1 0 -12.8 0zM752.0 617.4a6.4 6.4 0 1 0 12.8 0a6.4 6.4 0 1 0 -12.8 0zM753.2 617.8a6.4 6.4 0 1 0 12.8 0a6.4 6.4 0 1 0 -12.8 0zM754.3 618.1a6.4 6.4 0 1 0 12.8 0a6.4 6.4 0 1 0 -12.8 0zM755.4 618.4a6.4 6.4 0 1 0 12.8 0a6.4 6.4 0 1 0 -12.8 0zM756.5 618.7a6.4 6.4 0 1 0 12.8 0a6.4 6.4 0 1 0 -12.8 0zM757.6 619.0a6.4 6.4 0 1 0 12.8 0a6.4 6.4 0 1 0 -12.8 0zM758.7 619.3a6.4 6.4 0 1 0 12.8 0a6.4 6.4 0 1 0 -12.8 0zM759.8 619.6a6.4 6.4 0 1 0 12.8 0a6.4 6.4 0 1 0 -12.8 0zM760.8 619.9a6.4 6.4 0 1 0 12.8 0a6.4 6.4 0 1 0 -12.8 0zM761.9 620.2a6.4 6.4 0 1 0 12.8 0a6.4 6.4 0 1 0 -12.8 0zM762.9 620.5a6.4 6.4 0 1 0 12.8 0a6.4 6.4 0 1 0 -12.8 0zM764.0 620.7a6.4 6.4 0 1 0 12.8 0a6.4 6.4 0 1 0 -12.8 0zM765.0 621.0a6.4 6.4 0 1 0 12.8 0a6.4 6.4 0 1 0 -12.8 0zM766.0 621.3a6.4 6.4 0 1 0 12.8 0a6.4 6.4 0 1 0 -12.8 0zM767.0 621.6a6.4 6.4 0 1 0 12.8 0a6.4 6.4 0 1 0 -12.8 0zM768.0 621.9a6.4 6.4 0 1 0 12.8 0a6.4 6.4 0 1 0 -12.8 0zM769.0 622.1a6.4 6.4 0 1 0 12.8 0a6.4 6.4 0 1 0 -12.8 0zM770.0 622.4a6.4 6.4 0 1 0 12.8 0a6.4 6.4 0 1 0 -12.8 0zM771.0 622.7a6.4 6.4 0 1 0 12.8 0a6.4 6.4 0 1 0 -12.8 0zM772.0 623.0a6.4 6.4 0 1 0 12.8 0a6.4 6.4 0 1 0 -12.8 0zM772.9 623.3a6.4 6.4 0 1 0 12.8 0a6.4 6.4 0 1 0 -12.8 0zM773.9 623.5a6.4 6.4 0 1 0 12.8 0a6.4 6.4 0 1 0 -12.8 0zM774.8 623.8a6.4 6.4 0 1 0 12.8 0a6.4 6.4 0 1 0 -12.8 0zM775.8 624.1a6.4 6.4 0 1 0 12.8 0a6.4 6.4 0 1 0 -12.8 0zM776.7 624.4a6.4 6.4 0 1 0 12.8 0a6.4 6.4 0 1 0 -12.8 0zM777.6 624.6a6.4 6.4 0 1 0 12.8 0a6.4 6.4 0 1 0 -12.8 0zM778.6 624.9a6.4 6.4 0 1 0 12.8 0a6.4 6.4 0 1 0 -12.8 0zM779.5 625.2a6.4 6.4 0 1 0 12.8 0a6.4 6.4 0 1 0 -12.8 0zM780.4 625.4a6.4 6.4 0 1 0 12.8 0a6.4 6.4 0 1 0 -12.8 0zM781.3 625.7a6.4 6.4 0 1 0 12.8 0a6.4 6.4 0 1 0 -12.8 0zM782.2 626.0a6.4 6.4 0 1 0 12.8 0a6.4 6.4 0 1 0 -12.8 0zM783.1 626.2a6.4 6.4 0 1 0 12.8 0a6.4 6.4 0 1 0 -12.8 0zM783.9 626.5a6.4 6.4 0 1 0 12.8 0a6.4 6.4 0 1 0 -12.8 0zM784.8 626.8a6.4 6.4 0 1 0 12.8 0a6.4 6.4 0 1 0 -12.8 0zM785.7 627.0a6.4 6.4 0 1 0 12.8 0a6.4 6.4 0 1 0 -12.8 0zM786.5 627.3a6.4 6.4 0 1 0 12.8 0a6.4 6.4 0 1 0 -12.8 0zM787.4 627.6a6.4 6.4 0 1 0 12.8 0a6.4 6.4 0 1 0 -12.8 0zM788.2 627.8a6.4 6.4 0 1 0 12.8 0a6.4 6.4 0 1 0 -12.8 0zM789.1 628.1a6.4 6.4 0 1 0 12.8 0a6.4 6.4 0 1 0 -12.8 0zM789.9 628.3a6.4 6.4 0 1 0 12.8 0a6.4 6.4 0 1 0 -12.8 0zM790.8 628.6a6.4 6.4 0 1 0 12.8 0a6.4 6.4 0 1 0 -12.8 0zM791.6 628.8a6.4 6.4 0 1 0 12.8 0a6.4 6.4 0 1 0 -12.8 0zM792.4 629.1a6.4 6.4 0 1 0 12.8 0a6.4 6.4 0 1 0 -12.8 0zM793.2 629.3a6.4 6.4 0 1 0 12.8 0a6.4 6.4 0 1 0 -12.8 0zM794.0 629.6a6.4 6.4 0 1 0 12.8 0a6.4 6.4 0 1 0 -12.8 0zM794.8 629.8a6.4 6.4 0 1 0 12.8 0a6.4 6.4 0 1 0 -12.8 0zM795.6 630.1a6.4 6.4 0 1 0 12.8 0a6.4 6.4 0 1 0 -12.8 0zM796.4 630.3a6.4 6.4 0 1 0 12.8 0a6.4 6.4 0 1 0 -12.8 0zM797.2 630.6a6.4 6.4 0 1 0 12.8 0a6.4 6.4 0 1 0 -12.8 0zM798.0 630.8a6.4 6.4 0 1 0 12.8 0a6.4 6.4 0 1 0 -12.8 0zM798.8 631.0a6.4 6.4 0 1 0 12.8 0a6.4 6.4 0 1 0 -12.8 0zM799.5 631.3a6.4 6.4 0 1 0 12.8 0a6.4 6.4 0 1 0 -12.8 0zM800.3 631.5a6.4 6.4 0 1 0 12.8 0a6.4 6.4 0 1 0 -12.8 0zM801.1 631.8a6.4 6.4 0 1 0 12.8 0a6.4 6.4 0 1 0 -12.8 0zM801.8 632.0a6.4 6.4 0 1 0 12.8 0a6.4 6.4 0 1 0 -12.8 0zM802.6 632.2a6.4 6.4 0 1 0 12.8 0a6.4 6.4 0 1 0 -12.8 0zM803.3 632.5a6.4 6.4 0 1 0 12.8 0a6.4 6.4 0 1 0 -12.8 0zM804.1 632.7a6.4 6.4 0 1 0 12.8 0a6.4 6.4 0 1 0 -12.8 0zM804.8 633.0a6.4 6.4 0 1 0 12.8 0a6.4 6.4 0 1 0 -12.8 0zM805.5 633.2a6.4 6.4 0 1 0 12.8 0a6.4 6.4 0 1 0 -12.8 0zM806.3 633.5a6.4 6.4 0 1 0 12.8 0a6.4 6.4 0 1 0 -12.8 0zM807.0 633.7a6.4 6.4 0 1 0 12.8 0a6.4 6.4 0 1 0 -12.8 0zM807.7 633.9a6.4 6.4 0 1 0 12.8 0a6.4 6.4 0 1 0 -12.8 0zM808.4 634.2a6.4 6.4 0 1 0 12.8 0a6.4 6.4 0 1 0 -12.8 0zM809.2 634.4a6.4 6.4 0 1 0 12.8 0a6.4 6.4 0 1 0 -12.8 0zM809.9 634.7a6.4 6.4 0 1 0 12.8 0a6.4 6.4 0 1 0 -12.8 0zM810.6 634.9a6.4 6.4 0 1 0 12.8 0a6.4 6.4 0 1 0 -12.8 0zM811.3 635.2a6.4 6.4 0 1 0 12.8 0a6.4 6.4 0 1 0 -12.8 0zM812.0 635.4a6.4 6.4 0 1 0 12.8 0a6.4 6.4 0 1 0 -12.8 0zM812.7 635.7a6.4 6.4 0 1 0 12.8 0a6.4 6.4 0 1 0 -12.8 0zM813.4 635.9a6.4 6.4 0 1 0 12.8 0a6.4 6.4 0 1 0 -12.8 0zM814.0 636.2a6.4 6.4 0 1 0 12.8 0a6.4 6.4 0 1 0 -12.8 0zM814.7 636.4a6.4 6.4 0 1 0 12.8 0a6.4 6.4 0 1 0 -12.8 0zM815.4 636.7a6.4 6.4 0 1 0 12.8 0a6.4 6.4 0 1 0 -12.8 0zM816.1 636.9a6.4 6.4 0 1 0 12.8 0a6.4 6.4 0 1 0 -12.8 0zM816.7 637.2a6.4 6.4 0 1 0 12.8 0a6.4 6.4 0 1 0 -12.8 0zM817.4 637.5a6.4 6.4 0 1 0 12.8 0a6.4 6.4 0 1 0 -12.8 0zM818.1 637.7a6.4 6.4 0 1 0 12.8 0a6.4 6.4 0 1 0 -12.8 0zM818.7 638.0a6.4 6.4 0 1 0 12.8 0a6.4 6.4 0 1 0 -12.8 0zM819.4 638.2a6.4 6.4 0 1 0 12.8 0a6.4 6.4 0 1 0 -12.8 0zM820.0 638.5a6.4 6.4 0 1 0 12.8 0a6.4 6.4 0 1 0 -12.8 0zM820.7 638.7a6.4 6.4 0 1 0 12.8 0a6.4 6.4 0 1 0 -12.8 0zM821.3 639.0a6.4 6.4 0 1 0 12.8 0a6.4 6.4 0 1 0 -12.8 0zM822.0 639.3a6.4 6.4 0 1 0 12.8 0a6.4 6.4 0 1 0 -12.8 0zM822.6 639.5a6.4 6.4 0 1 0 12.8 0a6.4 6.4 0 1 0 -12.8 0zM823.2 639.8a6.4 6.4 0 1 0 12.8 0a6.4 6.4 0 1 0 -12.8 0zM823.9 640.0a6.4 6.4 0 1 0 12.8 0a6.4 6.4 0 1 0 -12.8 0zM824.5 640.3a6.4 6.4 0 1 0 12.8 0a6.4 6.4 0 1 0 -12.8 0zM825.1 640.6a6.4 6.4 0 1 0 12.8 0a6.4 6.4 0 1 0 -12.8 0zM825.7 640.8a6.4 6.4 0 1 0 12.8 0a6.4 6.4 0 1 0 -12.8 0zM826.4 641.1a6.4 6.4 0 1 0 12.8 0a6.4 6.4 0 1 0 -12.8 0zM827.0 641.3a6.4 6.4 0 1 0 12.8 0a6.4 6.4 0 1 0 -12.8 0zM827.6 641.6a6.4 6.4 0 1 0 12.8 0a6.4 6.4 0 1 0 -12.8 0zM828.2 641.9a6.4 6.4 0 1 0 12.8 0a6.4 6.4 0 1 0 -12.8 0zM828.8 642.1a6.4 6.4 0 1 0 12.8 0a6.4 6.4 0 1 0 -12.8 0zM829.4 642.4a6.4 6.4 0 1 0 12.8 0a6.4 6.4 0 1 0 -12.8 0zM830.0 642.7a6.4 6.4 0 1 0 12.8 0a6.4 6.4 0 1 0 -12.8 0zM830.6 642.9a6.4 6.4 0 1 0 12.8 0a6.4 6.4 0 1 0 -12.8 0zM831.2 643.2a6.4 6.4 0 1 0 12.8 0a6.4 6.4 0 1 0 -12.8 0zM831.8 643.5a6.4 6.4 0 1 0 12.8 0a6.4 6.4 0 1 0 -12.8 0zM832.4 643.7a6.4 6.4 0 1 0 12.8 0a6.4 6.4 0 1 0 -12.8 0zM833.0 644.0a6.4 6.4 0 1 0 12.8 0a6.4 6.4 0 1 0 -12.8 0zM833.5 644.3a6.4 6.4 0 1 0 12.8 0a6.4 6.4 0 1 0 -12.8 0zM834.1 644.5a6.4 6.4 0 1 0 12.8 0a6.4 6.4 0 1 0 -12.8 0zM834.7 644.8a6.4 6.4 0 1 0 12.8 0a6.4 6.4 0 1 0 -12.8 0zM835.3 645.1a6.4 6.4 0 1 0 12.8 0a6.4 6.4 0 1 0 -12.8 0zM835.9 645.4a6.4 6.4 0 1 0 12.8 0a6.4 6.4 0 1 0 -12.8 0zM836.4 645.6a6.4 6.4 0 1 0 12.8 0a6.4 6.4 0 1 0 -12.8 0zM837.0 645.9a6.4 6.4 0 1 0 12.8 0a6.4 6.4 0 1 0 -12.8 0zM837.6 646.2a6.4 6.4 0 1 0 12.8 0a6.4 6.4 0 1 0 -12.8 0zM838.1 646.5a6.4 6.4 0 1 0 12.8 0a6.4 6.4 0 1 0 -12.8 0zM838.7 646.7a6.4 6.4 0 1 0 12.8 0a6.4 6.4 0 1 0 -12.8 0zM839.2 647.0a6.4 6.4 0 1 0 12.8 0a6.4 6.4 0 1 0 -12.8 0zM839.8 647.3a6.4 6.4 0 1 0 12.8 0a6.4 6.4 0 1 0 -12.8 0zM840.3 647.6a6.4 6.4 0 1 0 12.8 0a6.4 6.4 0 1 0 -12.8 0zM840.9 647.8a6.4 6.4 0 1 0 12.8 0a6.4 6.4 0 1 0 -12.8 0zM841.4 648.1a6.4 6.4 0 1 0 12.8 0a6.4 6.4 0 1 0 -12.8 0zM842.0 648.4a6.4 6.4 0 1 0 12.8 0a6.4 6.4 0 1 0 -12.8 0zM842.5 648.7a6.4 6.4 0 1 0 12.8 0a6.4 6.4 0 1 0 -12.8 0zM843.0 648.9a6.4 6.4 0 1 0 12.8 0a6.4 6.4 0 1 0 -12.8 0zM843.6 649.2a6.4 6.4 0 1 0 12.8 0a6.4 6.4 0 1 0 -12.8 0zM844.1 649.5a6.4 6.4 0 1 0 12.8 0a6.4 6.4 0 1 0 -12.8 0zM844.6 649.8a6.4 6.4 0 1 0 12.8 0a6.4 6.4 0 1 0 -12.8 0zM845.2 650.1a6.4 6.4 0 1 0 12.8 0a6.4 6.4 0 1 0 -12.8 0zM845.7 650.4a6.4 6.4 0 1 0 12.8 0a6.4 6.4 0 1 0 -12.8 0zM846.2 650.6a6.4 6.4 0 1 0 12.8 0a6.4 6.4 0 1 0 -12.8 0zM846.8 650.9a6.4 6.4 0 1 0 12.8 0a6.4 6.4 0 1 0 -12.8 0zM847.3 651.2a6.4 6.4 0 1 0 12.8 0a6.4 6.4 0 1 0 -12.8 0zM847.8 651.5a6.4 6.4 0 1 0 12.8 0a6.4 6.4 0 1 0 -12.8 0zM848.3 651.8a6.4 6.4 0 1 0 12.8 0a6.4 6.4 0 1 0 -12.8 0zM848.8 652.0a6.4 6.4 0 1 0 12.8 0a6.4 6.4 0 1 0 -12.8 0zM849.3 652.3a6.4 6.4 0 1 0 12.8 0a6.4 6.4 0 1 0 -12.8 0zM849.8 652.6a6.4 6.4 0 1 0 12.8 0a6.4 6.4 0 1 0 -12.8 0zM850.3 652.9a6.4 6.4 0 1 0 12.8 0a6.4 6.4 0 1 0 -12.8 0zM850.9 653.2a6.4 6.4 0 1 0 12.8 0a6.4 6.4 0 1 0 -12.8 0zM851.4 653.5a6.4 6.4 0 1 0 12.8 0a6.4 6.4 0 1 0 -12.8 0zM851.9 653.7a6.4 6.4 0 1 0 12.8 0a6.4 6.4 0 1 0 -12.8 0zM852.4 654.0a6.4 6.4 0 1 0 12.8 0a6.4 6.4 0 1 0 -12.8 0zM852.8 654.3a6.4 6.4 0 1 0 12.8 0a6.4 6.4 0 1 0 -12.8 0zM853.3 654.6a6.4 6.4 0 1 0 12.8 0a6.4 6.4 0 1 0 -12.8 0zM853.8 654.9a6.4 6.4 0 1 0 12.8 0a6.4 6.4 0 1 0 -12.8 0zM854.3 655.2a6.4 6.4 0 1 0 12.8 0a6.4 6.4 0 1 0 -12.8 0zM854.8 655.5a6.4 6.4 0 1 0 12.8 0a6.4 6.4 0 1 0 -12.8 0zM855.3 655.7a6.4 6.4 0 1 0 12.8 0a6.4 6.4 0 1 0 -12.8 0zM855.8 656.0a6.4 6.4 0 1 0 12.8 0a6.4 6.4 0 1 0 -12.8 0zM856.3 656.3a6.4 6.4 0 1 0 12.8 0a6.4 6.4 0 1 0 -12.8 0zM856.7 656.6a6.4 6.4 0 1 0 12.8 0a6.4 6.4 0 1 0 -12.8 0zM857.2 656.9a6.4 6.4 0 1 0 12.8 0a6.4 6.4 0 1 0 -12.8 0zM857.7 657.2a6.4 6.4 0 1 0 12.8 0a6.4 6.4 0 1 0 -12.8 0zM858.2 657.5a6.4 6.4 0 1 0 12.8 0a6.4 6.4 0 1 0 -12.8 0zM858.7 657.8a6.4 6.4 0 1 0 12.8 0a6.4 6.4 0 1 0 -12.8 0zM859.1 658.0a6.4 6.4 0 1 0 12.8 0a6.4 6.4 0 1 0 -12.8 0zM859.6 658.3a6.4 6.4 0 1 0 12.8 0a6.4 6.4 0 1 0 -12.8 0zM860.1 658.6a6.4 6.4 0 1 0 12.8 0a6.4 6.4 0 1 0 -12.8 0zM860.5 658.9a6.4 6.4 0 1 0 12.8 0a6.4 6.4 0 1 0 -12.8 0zM861.0 659.2a6.4 6.4 0 1 0 12.8 0a6.4 6.4 0 1 0 -12.8 0zM861.5 659.5a6.4 6.4 0 1 0 12.8 0a6.4 6.4 0 1 0 -12.8 0zM861.9 659.8a6.4 6.4 0 1 0 12.8 0a6.4 6.4 0 1 0 -12.8 0zM862.4 660.1a6.4 6.4 0 1 0 12.8 0a6.4 6.4 0 1 0 -12.8 0zM862.8 660.4a6.4 6.4 0 1 0 12.8 0a6.4 6.4 0 1 0 -12.8 0zM863.3 660.6a6.4 6.4 0 1 0 12.8 0a6.4 6.4 0 1 0 -12.8 0zM863.7 660.9a6.4 6.4 0 1 0 12.8 0a6.4 6.4 0 1 0 -12.8 0zM864.2 661.2a6.4 6.4 0 1 0 12.8 0a6.4 6.4 0 1 0 -12.8 0zM864.6 661.5a6.4 6.4 0 1 0 12.8 0a6.4 6.4 0 1 0 -12.8 0zM865.1 661.8a6.4 6.4 0 1 0 12.8 0a6.4 6.4 0 1 0 -12.8 0zM865.5 662.1a6.4 6.4 0 1 0 12.8 0a6.4 6.4 0 1 0 -12.8 0zM866.0 662.4a6.4 6.4 0 1 0 12.8 0a6.4 6.4 0 1 0 -12.8 0zM866.4 662.7a6.4 6.4 0 1 0 12.8 0a6.4 6.4 0 1 0 -12.8 0zM866.9 663.0a6.4 6.4 0 1 0 12.8 0a6.4 6.4 0 1 0 -12.8 0zM867.3 663.3a6.4 6.4 0 1 0 12.8 0a6.4 6.4 0 1 0 -12.8 0zM867.7 663.5a6.4 6.4 0 1 0 12.8 0a6.4 6.4 0 1 0 -12.8 0zM868.2 663.8a6.4 6.4 0 1 0 12.8 0a6.4 6.4 0 1 0 -12.8 0zM868.6 664.1a6.4 6.4 0 1 0 12.8 0a6.4 6.4 0 1 0 -12.8 0zM869.1 664.4a6.4 6.4 0 1 0 12.8 0a6.4 6.4 0 1 0 -12.8 0zM869.5 664.7a6.4 6.4 0 1 0 12.8 0a6.4 6.4 0 1 0 -12.8 0zM869.9 665.0a6.4 6.4 0 1 0 12.8 0a6.4 6.4 0 1 0 -12.8 0zM870.3 665.3a6.4 6.4 0 1 0 12.8 0a6.4 6.4 0 1 0 -12.8 0zM870.8 665.6a6.4 6.4 0 1 0 12.8 0a6.4 6.4 0 1 0 -12.8 0zM871.2 665.9a6.4 6.4 0 1 0 12.8 0a6.4 6.4 0 1 0 -12.8 0zM871.6 666.2a6.4 6.4 0 1 0 12.8 0a6.4 6.4 0 1 0 -12.8 0zM872.1 666.5a6.4 6.4 0 1 0 12.8 0a6.4 6.4 0 1 0 -12.8 0zM872.5 666.7a6.4 6.4 0 1 0 12.8 0a6.4 6.4 0 1 0 -12.8 0zM872.9 667.0a6.4 6.4 0 1 0 12.8 0a6.4 6.4 0 1 0 -12.8 0zM873.3 667.3a6.4 6.4 0 1 0 12.8 0a6.4 6.4 0 1 0 -12.8 0zM873.7 667.6a6.4 6.4 0 1 0 12.8 0a6.4 6.4 0 1 0 -12.8 0zM874.1 667.9a6.4 6.4 0 1 0 12.8 0a6.4 6.4 0 1 0 -12.8 0zM874.6 668.2a6.4 6.4 0 1 0 12.8 0a6.4 6.4 0 1 0 -12.8 0zM875.0 668.5a6.4 6.4 0 1 0 12.8 0a6.4 6.4 0 1 0 -12.8 0zM875.4 668.8a6.4 6.4 0 1 0 12.8 0a6.4 6.4 0 1 0 -12.8 0zM875.8 669.1a6.4 6.4 0 1 0 12.8 0a6.4 6.4 0 1 0 -12.8 0zM876.2 669.4a6.4 6.4 0 1 0 12.8 0a6.4 6.4 0 1 0 -12.8 0zM876.6 669.7a6.4 6.4 0 1 0 12.8 0a6.4 6.4 0 1 0 -12.8 0zM877.0 669.9a6.4 6.4 0 1 0 12.8 0a6.4 6.4 0 1 0 -12.8 0zM877.4 670.2a6.4 6.4 0 1 0 12.8 0a6.4 6.4 0 1 0 -12.8 0zM877.8 670.5a6.4 6.4 0 1 0 12.8 0a6.4 6.4 0 1 0 -12.8 0z" fill="#b94fdc"/>
<path d="M271.7 89.6a6.4 6.4 0 1 0 12.8 0a6.4 6.4 0 1 0 -12.8 0zM318.2 89.6a6.4 6.4 0 1 0 12.8 0a6.4 6.4 0 1 0 -12.8 0zM353.4 89.6a6.4 6.4 0 1 0 12.8 0a6.4 6.4 0 1 0 -12.8 0zM380.8 89.6a6.4 6.4 0 1 0 12.8 0a6.4 6.4 0 1 0 -12.8 0zM402.6 89.6a6.4 6.4 0 1 0 12.8 0a6.4 6.4 0 1 0 -12.8 0zM421.9 89.6a6.4 6.4 0 1 0 12.8 0a6.4 6.4 0 1 0 -12.8 0zM437.8 89.6a6.4 6.4 0 1 0 12.8 0a6.4 6.4 0 1 0 -12.8 0zM451.6 89.7a6.4 6.4 0 1 0 12.8 0a6.4 6.4 0 1 0 -12.8 0zM464.4 89.7a6.4 6.4 0 1 0 12.8 0a6.4 6.4 0 1 0 -12.8 0zM476.7 89.8a6.4 6.4 0 1 0 12.8 0a6.4 6.4 0 1 0 -12.8 0zM487.2 89.8a6.4 6.4 0 1 0 12.8 0a6.4 6.4 0 1 0 -12.8 0zM497.4 89.9a6.4 6.4 0 1 0 12.8 0a6.4 6.4 0 1 0 -12.8 0zM506.7 90.1a6.4 6.4 0 1 0 12.8 0a6.4 6.4 0 1 0 -12.8 0zM515.3 90.3a6.4 6.4 0 1 0 12.8 0a6.4 6.4 0 1 0 -12.8 0zM523.4 90.5a6.4 6.4 0 1 0 12.8 0a6.4 6.4 0 1 0 -12.8 0zM530.8 90.7a6.4 6.4 0 1 0 12.8 0a6.4 6.4 0 1 0 -12.8 0zM537.7 91.1a6.4 6.4 0 1 0 12.8 0a6.4 6.4 0 1 0 -12.8 0zM544.2 91.6a6.4 6.4 0 1 0 12.8 0a6.4 6.4 0 1 0 -12.8 0zM550.4 92.2a6.4 6.4 0 1 0 12.8 0a6.4 6.4 0 1 0 -12.8 0zM556.3 92.6a6.4 6.4 0 1 0 12.8 0a6.4 6.4 0 1 0 -12.8 0zM561.9 93.0a6.4 6.4 0 1 0 12.8 0a6.4 6.4 0 1 0 -12.8 0zM567.3 93.5a6.4 6.4 0 1 0 12.8 0a6.4 6.4 0 1 0 -12.8 0zM572.5 93.9a6.4 6.4 0 1 0 12.8 0a6.4 6.4 0 1 0 -12.8 0zM577.4 94.3a6.4 6.4 0 1 0 12.8 0a6.4 6.4 0 1 0 -12.8 0zM582.1 94.7a6.4 6.4 0 1 0 12.8 0a6.4 6.4 0 1 0 -12.8 0zM586.7 95.1a6.4 6.4 0 1 0 12.8 0a6.4 6.4 0 1 0 -12.8 0zM591.1 95.5a6.4 6.4 0 1 0 12.8 0a6.4 6.4 0 1 0 -12.8 0zM595.3 96.0a6.4 6.4 0 1 0 12.8 0a6.4 6.4 0 1 0 -12.8 0zM599.4 96.5a6.4 6.4 0 1 0 12.8 0a6.4 6.4 0 1 0 -12.8 0zM603.4 97.1a6.4 6.4 0 1 0 12.8 0a6.4 6.4 0 1 0 -12.8 0zM607.2 97.7a6.4 6.4 0 1 0 12.8 0a6.4 6.4 0 1 0 -12.8 0zM611.0 98.4a6.4 6.4 0 1 0 12.8 0a6.4 6.4 0 1 0 -12.8 0zM614.6 99.2a6.4 6.4 0 1 0 12.8 0a6.4 6.4 0 1 0 -12.8 0zM618.1 100.1a6.4 6.4 0 1 0 12.8 0a6.4 6.4 0 1 0 -12.8 0zM621.5 101.0a6.4 6.4 0 1 0 12.8 0a6.4 6.4 0 1 0 -12.8 0zM624.8 101.9a6.4 6.4 0 1 0 12.8 0a6.4 6.4 0 1 0 -12.8 0zM628.0 102.9a6.4 6.4 0 1 0 12.8 0a6.4 6.4 0 1 0 -12.8 0zM631.2 103.8a6.4 6.4 0 1 0 12.8 0a6.4 6.4 0 1 0 -12.8 0zM634.2 104.8a6.4 6.4 0 1 0 12.8 0a6.4 6.4 0 1 0 -12.8 0zM637.2 105.9a6.4 6.4 0 1 0 12.8 0a6.4 6.4 0 1 0 -12.8 0zM640.1 106.9a6.4 6.4 0 1 0 12.8 0a6.4 6.4 0 1 0 -12.8 0zM643.0 108.0a6.4 6.4 0 1 0 12.8 0a6.4 6.4 0 1 0 -12.8 0zM645.7 109.1a6.4 6.4 0 1 0 12.8 0a6.4 6.4 0 1 0 -12.8 0zM648.5 110.2a6.4 6.4 0 1 0 12.8 0a6.4 6.4 0 1 0 -12.8 0zM651.1 111.3a6.4 6.4 0 1 0 12.8 0a6.4 6.4 0 1 0 -12.8 0zM653.7 112.5a6.4 6.4 0 1 0 12.8 0a6.4 6.4 0 1 0 -12.8 0zM656.3 113.9a6.4 6.4 0 1 0 12.8 0a6.4 6.4 0 1 0 -12.8 0zM658.8 115.5a6.4 6.4 0 1 0 12.8 0a6.4 6.4 0 1 0 -12.8 0zM661.2 117.3a6.4 6.4 0 1 0 12.8 0a6.4 6.4 0 1 0 -12.8 0zM663.6 119.3a6.4 6.4 0 1 0 12.8 0a6.4 6.4 0 1 0 -12.8 0zM665.9 121.5a6.4 6.4 0 1 0 12.8 0a6.4 6.4 0 1 0 -12.8 0zM668.2 123.8a6.4 6.4 0 1 0 12.8 0a6.4 6.4 0 1 0 -12.8 0zM670.5 126.4a6.4 6.4 0 1 0 12.8 0a6.4 6.4 0 1 0 -12.8 0zM672.7 129.4a6.4 6.4 0 1 0 12.8 0a6.4 6.4 0 1 0 -12.8 0zM674.9 132.9a6.4 6.4 0 1 0 12.8 0a6.4 6.4 0 1 0 -12.8 0zM677.0 136.7a6.4 6.4 0 1 0 12.8 0a6.4 6.4 0 1 0 -12.8 0zM679.1 141.1a6.4 6.4 0 1 0 12.8 0a6.4 6.4 0 1 0 -12.8 0zM681.2 145.4a6.4 6.4 0 1 0 12.8 0a6.4 6.4 0 1 0 -12.8 0zM683.2 149.6a6.4 6.4 0 1 0 12.8 0a6.4 6.4 0 1 0 -12.8 0zM685.2 153.9a6.4 6.4 0 1 0 12.8 0a6.4 6.4 0 1 0 -12.8 0zM687.2 158.7a6.4 6.4 0 1 0 12.8 0a6.4 6.4 0 1 0 -12.8 0zM689.1 163.7a6.4 6.4 0 1 0 12.8 0a6.4 6.4 0 1 0 -12.8 0zM691.0 168.3a6.4 6.4 0 1 0 12.8 0a6.4 6.4 0 1 0 -12.8 0zM692.9 172.4a6.4 6.4 0 1 0 12.8 0a6.4 6.4 0 1 0 -12.8 0zM694.8 176.5a6.4 6.4 0 1 0 12.8 0a6.4 6.4 0 1 0 -12.8 0zM696.6 180.9a6.4 6.4 0 1 0 12.8 0a6.4 6.4 0 1 0 -12.8 0zM698.4 186.3a6.4 6.4 0 1 0 12.8 0a6.4 6.4 0 1 0 -12.8 0zM700.1 192.1a6.4 6.4 0 1 0 12.8 0a6.4 6.4 0 1 0 -12.8 0zM701.9 198.0a6.4 6.4 0 1 0 12.8 0a6.4 6.4 0 1 0 -12.8 0zM703.6 203.9a6.4 6.4 0 1 0 12.8 0a6.4 6.4 0 1 0 -12.8 0zM705.3 209.8a6.4 6.4 0 1 0 12.8 0a6.4 6.4 0 1 0 -12.8 0zM706.9 215.4a6.4 6.4 0 1 0 12.8 0a6.4 6.4 0 1 0 -12.8 0zM708.6 222.0a6.4 6.4 0 1 0 12.8 0a6.4 6.4 0 1 0 -12.8 0zM710.2 229.5a6.4 6.4 0 1 0 12.8 0a6.4 6.4 0 1 0 -12.8 0zM711.8 236.7a6.4 6.4 0 1 0 12.8 0a6.4 6.4 0 1 0 -12.8 0zM713.4 244.8a6.4 6.4 0 1 0 12.8 0a6.4 6.4 0 1 0 -12.8 0zM715.0 253.4a6.4 6.4 0 1 0 12.8 0a6.4 6.4 0 1 0 -12.8 0zM716.5 262.3a6.4 6.4 0 1 0 12.8 0a6.4 6.4 0 1 0 -12.8 0zM718.0 271.4a6.4 6.4 0 1 0 12.8 0a6.4 6.4 0 1 0 -12.8 0zM719.5 280.9a6.4 6.4 0 1 0 12.8 0a6.4 6.4 0 1 0 -12.8 0zM721.0 290.9a6.4 6.4 0 1 0 12.8 0a6.4 6.4 0 1 0 -12.8 0zM722.5 301.2a6.4 6.4 0 1 0 12.8 0a6.4 6.4 0 1 0 -12.8 0zM723.9 311.0a6.4 6.4 0 1 0 12.8 0a6.4 6.4 0 1 0 -12.8 0zM725.4 319.3a6.4 6.4 0 1 0 12.8 0a6.4 6.4 0 1 0 -12.8 0zM726.8 325.9a6.4 6.4 0 1 0 12.8 0a6.4 6.4 0 1 0 -12.8 0zM728.2 333.1a6.4 6.4 0 1 0 12.8 0a6.4 6.4 0 1 0 -12.8 0zM729.5 343.5a6.4 6.4 0 1 0 12.8 0a6.4 6.4 0 1 0 -12.8 0zM730.9 354.6a6.4 6.4 0 1 0 12.8 0a6.4 6.4 0 1 0 -12.8 0zM732.3 367.6a6.4 6.4 0 1 0 12.8 0a6.4 6.4 0 1 0 -12.8 0zM733.6 376.1a6.4 6.4 0 1 0 12.8 0a6.4 6.4 0 1 0 -12.8 0zM734.9 382.4a6.4 6.4 0 1 0 12.8 0a6.4 6.4 0 1 0 -12.8 0zM736.2 399.0a6.4 6.4 0 1 0 12.8 0a6.4 6.4 0 1 0 -12.8 0zM737.5 419.0a6.4 6.4 0 1 0 12.8 0a6.4 6.4 0 1 0 -12.8 0zM738.8 437.8a6.4 6.4 0 1 0 12.8 0a6.4 6.4 0 1 0 -12.8 0zM740.1 454.3a6.4 6.4 0 1 0 12.8 0a6.4 6.4 0 1 0 -12.8 0zM741.3 466.4a6.4 6.4 0 1 0 12.8 0a6.4 6.4 0 1 0 -12.8 0zM742.6 473.8a6.4 6.4 0 1 0 12.8 0a6.4 6.4 0 1 0 -12.8 0zM743.8 479.8a6.4 6.4 0 1 0 12.8 0a6.4 6.4 0 1 0 -12.8 0zM745.0 485.8a6.4 6.4 0 1 0 12.8 0a6.4 6.4 0 1 0 -12.8 0zM746.2 491.0a6.4 6.4 0 1 0 12.8 0a6.4 6.4 0 1 0 -12.8 0zM747.4 495.7a6.4 6.4 0 1 0 12.8 0a6.4 6.4 0 1 0 -12.8 0zM748.6 499.9a6.4 6.4 0 1 0 12.8 0a6.4 6.4 0 1 0 -12.8 0zM749.7 503.7a6.4 6.4 0 1 0 12.8 0a6.4 6.4 0 1 0 -12.8 0zM750.9 507.2a6.4 6.4 0 1 0 12.8 0a6.4 6.4 0 1 0 -12.8 0zM752.0 510.5a6.4 6.4 0 1 0 12.8 0a6.4 6.4 0 1 0 -12.8 0zM753.2 513.5a6.4 6.4 0 1 0 12.8 0a6.4 6.4 0 1 0 -12.8 0zM754.3 516.4a6.4 6.4 0 1 0 12.8 0a6.4 6.4 0 1 0 -12.8 0zM755.4 519.1a6.4 6.4 0 1 0 12.8 0a6.4 6.4 0 1 0 -12.8 0zM756.5 521.7a6.4 6.4 0 1 0 12.8 0a6.4 6.4 0 1 0 -12.8 0zM757.6 524.1a6.4 6.4 0 1 0 12.8 0a6.4 6.4 0 1 0 -12.8 0zM758.7 526.5a6.4 6.4 0 1 0 12.8 0a6.4 6.4 0 1 0 -12.8 0zM759.8 528.8a6.4 6.4 0 1 0 12.8 0a6.4 6.4 0 1 0 -12.8 0zM760.8 531.0a6.4 6.4 0 1 0 12.8 0a6.4 6.4 0 1 0 -12.8 0zM761.9 533.1a6.4 6.4 0 1 0 12.8 0a6.4 6.4 0 1 0 -12.8 0zM762.9 535.0a6.4 6.4 0 1 0 12.8 0a6.4 6.4 0 1 0 -12.8 0zM764.0 536.9a6.4 6.4 0 1 0 12.8 0a6.4 6.4 0 1 0 -12.8 0zM765.0 538.6a6.4 6.4 0 1 0 12.8 0a6.4 6.4 0 1 0 -12.8 0zM766.0 540.3a6.4 6.4 0 1 0 12.8 0a6.4 6.4 0 1 0 -12.8 0zM767.0 541.8a6.4 6.4 0 1 0 12.8 0a6.4 6.4 0 1 0 -12.8 0zM768.0 543.3a6.4 6.4 0 1 0 12.8 0a6.4 6.4 0 1 0 -12.8 0zM769.0 544.8a6.4 6.4 0 1 0 12.8 0a6.4 6.4 0 1 0 -12.8 0zM770.0 546.2a6.4 6.4 0 1 0 12.8 0a6.4 6.4 0 1 0 -12.8 0zM771.0 547.6a6.4 6.4 0 1 0 12.8 0a6.4 6.4 0 1 0 -12.8 0zM772.0 548.9a6.4 6.4 0 1 0 12.8 0a6.4 6.4 0 1 0 -12.8 0zM772.9 550.3a6.4 6.4 0 1 0 12.8 0a6.4 6.4 0 1 0 -12.8 0zM773.9 551.6a6.4 6.4 0 1 0 12.8 0a6.4 6.4 0 1 0 -12.8 0zM774.8 552.8a6.4 6.4 0 1 0 12.8 0a6.4 6.4 0 1 0 -12.8 0zM775.8 554.1a6.4 6.4 0 1 0 12.8 0a6.4 6.4 0 1 0 -12.8 0zM776.7 555.3a6.4 6.4 0 1 0 12.8 0a6.4 6.4 0 1 0 -12.8 0zM777.6 556.5a6.4 6.4 0 1 0 12.8 0a6.4 6.4 0 1 0 -12.8 0zM778.6 557.6a6.4 6.4 0 1 0 12.8 0a6.4 6.4 0 1 0 -12.8 0zM779.5 558.7a6.4 6.4 0 1 0 12.8 0a6.4 6.4 0 1 0 -12.8 0zM780.4 559.7a6.4 6.4 0 1 0 12.8 0a6.4 6.4 0 1 0 -12.8 0zM781.3 560.7a6.4 6.4 0 1 0 12.8 0a6.4 6.4 0 1 0 -12.8 0zM782.2 561.7a6.4 6.4 0 1 0 12.8 0a6.4 6.4 0 1 0 -12.8 0zM783.1 562.6a6.4 6.4 0 1 0 12.8 0a6.4 6.4 0 1 0 -12.8 0zM783.9 563.6a6.4 6.4 0 1 0 12.8 0a6.4 6.4 0 1 0 -12.8 0zM784.8 564.6a6.4 6.4 0 1 0 12.8 0a6.4 6.4 0 1 0 -12.8 0zM785.7 565.6a6.4 6.4 0 1 0 12.8 0a6.4 6.4 0 1 0 -12.8 0zM786.5 566.6a6.4 6.4 0 1 0 12.8 0a6.4 6.4 0 1 0 -12.8 0zM787.4 567.6a6.4 6.4 0 1 0 12.8 0a6.4 6.4 0 1 0 -12.8 0zM788.2 568.6a6.4 6.4 0 1 0 12.8 0a6.4 6.4 0 1 0 -12.8 0zM789.1 569.6a6.4 6.4 0 1 0 12.8 0a6.4 6.4 0 1 0 -12.8 0zM789.9 570.6a6.4 6.4 0 1 0 12.8 0a6.4 6.4 0 1 0 -12.8 0zM790.8 571.5a6.4 6.4 0 1 0 12.8 0a6.4 6.4 0 1 0 -12.8 0zM791.6 572.5a6.4 6.4 0 1 0 12.8 0a6.4 6.4 0 1 0 -12.8 0zM792.4 573.5a6.4 6.4 0 1 0 12.8 0a6.4 6.4 0 1 0 -12.8 0zM793.2 574.5a6.4 6.4 0 1 0 12.8 0a6.4 6.4 0 1 0 -12.8 0zM794.0 575.5a6.4 6.4 0 1 0 12.8 0a6.4 6.4 0 1 0 -12.8 0zM794.8 576.4a6.4 6.4 0 1 0 12.8 0a6.4 6.4 0 1 0 -12.8 0zM795.6 577.4a6.4 6.4 0 1 0 12.8 0a6.4 6.4 0 1 0 -12.8 0zM796.4 578.4a6.4 6.4 0 1 0 12.8 0a6.4 6.4 0 1 0 -12.8 0zM797.2 579.3a6.4 6.4 0 1 0 12.8 0a6.4 6.4 0 1 0 -12.8 0zM798.0 580.3a6.4 6.4 0 1 0 12.8 0a6.4 6.4 0 1 0 -12.8 0zM798.8 581.2a6.4 6.4 0 1 0 12.8 0a6.4 6.4 0 1 0 -12.8 0zM799.5 582.2a6.4 6.4 0 1 0 12.8 0a6.4 6.4 0 1 0 -12.8 0zM800.3 583.1a6.4 6.4 0 1 0 12.8 0a6.4 6.4 0 1 0 -12.8 0zM801.1 584.0a6.4 6.4 0 1 0 12.8 0a6.4 6.4 0 1 0 -12.8 0zM801.8 584.9a6.4 6.4 0 1 0 12.8 0a6.4 6.4 0 1 0 -12.8 0zM802.6 585.7a6.4 6.4 0 1 0 12.8 0a6.4 6.4 0 1 0 -12.8 0zM803.3 586.6a6.4 6.4 0 1 0 12.8 0a6.4 6.4 0 1 0 -12.8 0zM804.1 587.4a6.4 6.4 0 1 0 12.8 0a6.4 6.4 0 1 0 -12.8 0zM804.8 588.2a6.4 6.4 0 1 0 12.8 0a6.4 6.4 0 1 0 -12.8 0zM805.5 589.0a6.4 6.4 0 1 0 12.8 0a6.4 6.4 0 1 0 -12.8 0zM806.3 589.8a6.4 6.4 0 1 0 12.8 0a6.4 6.4 0 1 0 -12.8 0zM807.0 590.6a6.4 6.4 0 1 0 12.8 0a6.4 6.4 0 1 0 -12.8 0zM807.7 591.4a6.4 6.4 0 1 0 12.8 0a6.4 6.4 0 1 0 -12.8 0zM808.4 592.2a6.4 6.4 0 1 0 12.8 0a6.4 6.4 0 1 0 -12.8 0zM809.2 592.9a6.4 6.4 0 1 0 12.8 0a6.4 6.4 0 1 0 -12.8 0zM809.9 593.7a6.4 6.4 0 1 0 12.8 0a6.4 6.4 0 1 0 -12.8 0zM810.6 594.4a6.4 6.4 0 1 0 12.8 0a6.4 6.4 0 1 0 -12.8 0zM811.3 595.1a6.4 6.4 0 1 0 12.8 0a6.4 6.4 0 1 0 -12.8 0zM812.0 595.9a6.4 6.4 0 1 0 12.8 0a6.4 6.4 0 1 0 -12.8 0zM812.7 596.6a6.4 6.4 0 1 0 12.8 0a6.4 6.4 0 1 0 -12.8 0zM813.4 597.4a6.4 6.4 0 1 0 12.8 0a6.4 6.4 0 1 0 -12.8 0zM814.0 598.1a6.4 6.4 0 1 0 12.8 0a6.4 6.4 0 1 0 -12.8 0zM814.7 598.8a6.4 6.4 0 1 0 12.8 0a6.4 6.4 0 1 0 -12.8 0zM815.4 599.6a6.4 6.4 0 1 0 12.8 0a6.4 6.4 0 1 0 -12.8 0zM816.1 600.3a6.4 6.4 0 1 0 12.8 0a6.4 6.4 0 1 0 -12.8 0zM816.7 601.0a6.4 6.4 0 1 0 12.8 0a6.4 6.4 0 1 0 -12.8 0zM817.4 601.8a6.4 6.4 0 1 0 12.8 0a6.4 6.4 0 1 0 -12.8 0zM818.1 602.5a6.4 6.4 0 1 0 12.8 0a6.4 6.4 0 1 0 -12.8 0zM818.7 603.2a6.4 6.4 0 1 0 12.8 0a6.4 6.4 0 1 0 -12.8 0zM819.4 603.9a6.4 6.4 0 1 0 12.8 0a6.4 6.4 0 1 0 -12.8 0zM820.0 604.6a6.4 6.4 0 1 0 12.8 0a6.4 6.4 0 1 0 -12.8 0zM820.7 605.3a6.4 6.4 0 1 0 12.8 0a6.4 6.4 0 1 0 -12.8 0zM821.3 605.9a6.4 6.4 0 1 0 12.8 0a6.4 6.4 0 1 0 -12.8 0zM822.0 606.6a6.4 6.4 0 1 0 12.8 0a6.4 6.4 0 1 0 -12.8 0zM822.6 607.2a6.4 6.4 0 1 0 12.8 0a6.4 6.4 0 1 0 -12.8 0zM823.2 607.9a6.4 6.4 0 1 0 12.8 0a6.4 6.4 0 1 0 -12.8 0zM823.9 608.5a6.4 6.4 0 1 0 12.8 0a6.4 6.4 0 1 0 -12.8 0zM824.5 609.1a6.4 6.4 0 1 0 12.8 0a6.4 6.4 0 1 0 -12.8 0zM825.1 609.6a6.4 6.4 0 1 0 12.8 0a6.4 6.4 0 1 0 -12.8 0zM825.7 610.2a6.4 6.4 0 1 0 12.8 0a6.4 6.4 0 1 0 -12.8 0zM826.4 610.8a6.4 6.4 0 1 0 12.8 0a6.4 6.4 0 1 0 -12.8 0zM827.0 611.3a6.4 6.4 0 1 0 12.8 0a6.4 6.4 0 1 0 -12.8 0zM827.6 611.8a6.4 6.4 0 1 0 12.8 0a6.4 6.4 0 1 0 -12.8 0zM828.2 612.4a6.4 6.4 0 1 0 12.8 0a6.4 6.4 0 1 0 -12.8 0zM828.8 612.9a6.4 6.4 0 1 0 12.8 0a6.4 6.4 0 1 0 -12.8 0zM829.4 613.4a6.4 6.4 0 1 0 12.8 0a6.4 6.4 0 1 0 -12.8 0zM830.0 613.9a6.4 6.4 0 1 0 12.8 0a6.4 6.4 0 1 0 -12.8 0zM830.6 614.4a6.4 6.4 0 1 0 12.8 0a6.4 6.4 0 1 0 -12.8 0zM831.2 614.9a6.4 6.4 0 1 0 12.8 0a6.4 6.4 0 1 0 -12.8 0zM831.8 615.4a6.4 6.4 0 1 0 12.8 0a6.4 6.4 0 1 0 -12.8 0zM832.4 615.9a6.4 6.4 0 1 0 12.8 0a6.4 6.4 0 1 0 -12.8 0zM833.0 616.4a6.4 6.4 0 1 0 12.8 0a6.4 6.4 0 1 0 -12.8 0zM833.5 616.8a6.4 6.4 0 1 0 12.8 0a6.4 6.4 0 1 0 -12.8 0zM834.1 617.3a6.4 6.4 0 1 0 12.8 0a6.4 6.4 0 1 0 -12.8 0zM834.7 617.8a6.4 6.4 0 1 0 12.8 0a6.4 6.4 0 1 0 -12.8 0zM835.3 618.3a6.4 6.4 0 1 0 12.8 0a6.4 6.4 0 1 0 -12.8 0zM835.9 618.8a6.4 6.4 0 1 0 12.8 0a6.4 6.4 0 1 0 -12.8 0zM836.4 619.3a6.4 6.4 0 1 0 12.8 0a6.4 6.4 0 1 0 -12.8 0zM837.0 619.7a6.4 6.4 0 1 0 12.8 0a6.4 6.4 0 1 0 -12.8 0zM837.6 620.2a6.4 6.4 0 1 0 12.8 0a6.4 6.4 0 1 0 -12.8 0zM838.1 620.7a6.4 6.4 0 1 0 12.8 0a6.4 6.4 0 1 0 -12.8 0zM838.7 621.2a6.4 6.4 0 1 0 12.8 0a6.4 6.4 0 1 0 -12.8 0zM839.2 621.7a6.4 6.4 0 1 0 12.8 0a6.4 6.4 0 1 0 -12.8 0zM839.8 622.2a6.4 6.4 0 1 0 12.8 0a6.4 6.4 0 1 0 -12.8 0zM840.3 622.7a6.4 6.4 0 1 0 12.8 0a6.4 6.4 0 1 0 -12.8 0zM840.9 623.3a6.4 6.4 0 1 0 12.8 0a6.4 6.4 0 1 0 -12.8 0zM841.4 623.8a6.4 6.4 0 1 0 12.8 0a6.4 6.4 0 1 0 -12.8 0zM842.0 624.3a6.4 6.4 0 1 0 12.8 0a6.4 6.4 0 1 0 -12.8 0zM842.5 624.8a6.4 6.4 0 1 0 12.8 0a6.4 6.4 0 1 0 -12.8 0zM843.0 625.3a6.4 6.4 0 1 0 12.8 0a6.4 6.4 0 1 0 -12.8 0zM843.6 625.8a6.4 6.4 0 1 0 12.8 0a6.4 6.4 0 1 0 -12.8 0zM844.1 626.3a6.4 6.4 0 1 0 12.8 0a6.4 6.4 0 1 0 -12.8 0zM844.6 626.9a6.4 6.4 0 1 0 12.8 0a6.4 6.4 0 1 0 -12.8 0zM845.2 627.4a6.4 6.4 0 1 0 12.8 0a6.4 6.4 0 1 0 -12.8 0zM845.7 627.9a6.4 6.4 0 1 0 12.8 0a6.4 6.4 0 1 0 -12.8 0zM846.2 628.4a6.4 6.4 0 1 0 12.8 0a6.4 6.4 0 1 0 -12.8 0zM846.8 628.9a6.4 6.4 0 1 0 12.8 0a6.4 6.4 0 1 0 -12.8 0zM847.3 629.3a6.4 6.4 0 1 0 12.8 0a6.4 6.4 0 1 0 -12.8 0zM847.8 629.8a6.4 6.4 0 1 0 12.8 0a6.4 6.4 0 1 0 -12.8 0zM848.3 630.3a6.4 6.4 0 1 0 12.8 0a6.4 6.4 0 1 0 -12.8 0zM848.8 630.7a6.4 6.4 0 1 0 12.8 0a6.4 6.4 0 1 0 -12.8 0zM849.3 631.2a6.4 6.4 0 1 0 12.8 0a6.4 6.4 0 1 0 -12.8 0zM849.8 631.7a6.4 6.4 0 1 0 12.8 0a6.4 6.4 0 1 0 -12.8 0zM850.3 632.1a6.4 6.4 0 1 0 12.8 0a6.4 6.4 0 1 0 -12.8 0zM850.9 632.6a6.4 6.4 0 1 0 12.8 0a6.4 6.4 0 1 0 -12.8 0zM851.4 633.0a6.4 6.4 0 1 0 12.8 0a6.4 6.4 0 1 0 -12.8 0zM851.9 633.5a6.4 6.4 0 1 0 12.8 0a6.4 6.4 0 1 0 -12.8 0zM852.4 633.9a6.4 6.4 0 1 0 12.8 0a6.4 6.4 0 1 0 -12.8 0zM852.8 634.4a6.4 6.4 0 1 0 12.8 0a6.4 6.4 0 1 0 -12.8 0zM853.3 634.8a6.4 6.4 0 1 0 12.8 0a6.4 6.4 0 1 0 -12.8 0zM853.8 635.3a6.4 6.4 0 1 0 12.8 0a6.4 6.4 0 1 0 -12.8 0zM854.3 635.7a6.4 6.4 0 1 0 12.8 0a6.4 6.4 0 1 0 -12.8 0zM854.8 636.1a6.4 6.4 0 1 0 12.8 0a6.4 6.4 0 1 0 -12.8 0zM855.3 636.5a6.4 6.4 0 1 0 12.8 0a6.4 6.4 0 1 0 -12.8 0zM855.8 637.0a6.4 6.4 0 1 0 12.8 0a6.4 6.4 0 1 0 -12.8 0zM856.3 637.4a6.4 6.4 0 1 0 12.8 0a6.4 6.4 0 1 0 -12.8 0zM856.7 637.8a6.4 6.4 0 1 0 12.8 0a6.4 6.4 0 1 0 -12.8 0zM857.2 638.2a6.4 6.4 0 1 0 12.8 0a6.4 6.4 0 1 0 -12.8 0zM857.7 638.6a6.4 6.4 0 1 0 12.8 0a6.4 6.4 0 1 0 -12.8 0zM858.2 639.0a6.4 6.4 0 1 0 12.8 0a6.4 6.4 0 1 0 -12.8 0zM858.7 639.4a6.4 6.4 0 1 0 12.8 0a6.4 6.4 0 1 0 -12.8 0zM859.1 639.7a6.4 6.4 0 1 0 12.8 0a6.4 6.4 0 1 0 -12.8 0zM859.6 640.1a6.4 6.4 0 1 0 12.8 0a6.4 6.4 0 1 0 -12.8 0zM860.1 640.5a6.4 6.4 0 1 0 12.8 0a6.4 6.4 0 1 0 -12.8 0zM860.5 640.8a6.4 6.4 0 1 0 12.8 0a6.4 6.4 0 1 0 -12.8 0zM861.0 641.2a6.4 6.4 0 1 0 12.8 0a6.4 6.4 0 1 0 -12.8 0zM861.5 641.5a6.4 6.4 0 1 0 12.8 0a6.4 6.4 0 1 0 -12.8 0zM861.9 641.8a6.4 6.4 0 1 0 12.8 0a6.4 6.4 0 1 0 -12.8 0zM862.4 642.1a6.4 6.4 0 1 0 12.8 0a6.4 6.4 0 1 0 -12.8 0zM862.8 642.5a6.4 6.4 0 1 0 12.8 0a6.4 6.4 0 1 0 -12.8 0zM863.3 642.8a6.4 6.4 0 1 0 12.8 0a6.4 6.4 0 1 0 -12.8 0zM863.7 643.1a6.4 6.4 0 1 0 12.8 0a6.4 6.4 0 1 0 -12.8 0zM864.2 643.4a6.4 6.4 0 1 0 12.8 0a6.4 6.4 0 1 0 -12.8 0zM864.6 643.7a6.4 6.4 0 1 0 12.8 0a6.4 6.4 0 1 0 -12.8 0zM865.1 644.0a6.4 6.4 0 1 0 12.8 0a6.4 6.4 0 1 0 -12.8 0zM865.5 644.3a6.4 6.4 0 1 0 12.8 0a6.4 6.4 0 1 0 -12.8 0zM866.0 644.6a6.4 6.4 0 1 0 12.8 0a6.4 6.4 0 1 0 -12.8 0zM866.4 644.9a6.4 6.4 0 1 0 12.8 0a6.4 6.4 0 1 0 -12.8 0zM866.9 645.2a6.4 6.4 0 1 0 12.8 0a6.4 6.4 0 1 0 -12.8 0zM867.3 645.5a6.4 6.4 0 1 0 12.8 0a6.4 6.4 0 1 0 -12.8 0zM867.7 645.8a6.4 6.4 0 1 0 12.8 0a6.4 6.4 0 1 0 -12.8 0zM868.2 646.1a6.4 6.4 0 1 0 12.8 0a6.4 6.4 0 1 0 -12.8 0zM868.6 646.4a6.4 6.4 0 1 0 12.8 0a6.4 6.4 0 1 0 -12.8 0zM869.1 646.7a6.4 6.4 0 1 0 12.8 0a6.4 6.4 0 1 0 -12.8 0zM869.5 647.0a6.4 6.4 0 1 0 12.8 0a6.4 6.4 0 1 0 -12.8 0zM869.9 647.3a6.4 6.4 0 1 0 12.8 0a6.4 6.4 0 1 0 -12.8 0zM870.3 647.7a6.4 6.4 0 1 0 12.8 0a6.4 6.4 0 1 0 -12.8 0zM870.8 648.0a6.4 6.4 0 1 0 12.8 0a6.4 6.4 0 1 0 -12.8 0zM871.2 648.3a6.4 6.4 0 1 0 12.8 0a6.4 6.4 0 1 0 -12.8 0zM871.6 648.6a6.4 6.4 0 1 0 12.8 0a6.4 6.4 0 1 0 -12.8 0zM872.1 649.0a6.4 6.4 0 1 0 12.8 0a6.4 6.4 0 1 0 -12.8 0zM872.5 649.3a6.4 6.4 0 1 0 12.8 0a6.4 6.4 0 1 0 -12.8 0zM872.9 649.6a6.4 6.4 0 1 0 12.8 0a6.4 6.4 0 1 0 -12.8 0zM873.3 650.0a6.4 6.4 0 1 0 12.8 0a6.4 6.4 0 1 0 -12.8 0zM873.7 650.3a6.4 6.4 0 1 0 12.8 0a6.4 6.4 0 1 0 -12.8 0zM874.1 650.7a6.4 6.4 0 1 0 12.8 0a6.4 6.4 0 1 0 -12.8 0zM874.6 651.0a6.4 6.4 0 1 0 12.8 0a6.4 6.4 0 1 0 -12.8 0zM875.0 651.4a6.4 6.4 0 1 0 12.8 0a6.4 6.4 0 1 0 -12.8 0zM875.4 651.7a6.4 6.4 0 1 0 12.8 0a6.4 6.4 0 1 0 -12.8 0zM875.8 652.1a6.4 6.4 0 1 0 12.8 0a6.4 6.4 0 1 0 -12.8 0zM876.2 652.4a6.4 6.4 0 1 0 12.8 0a6.4 6.4 0 1 0 -12.8 0zM876.6 652.8a6.4 6.4 0 1 0 12.8 0a6.4 6.4 0 1 0 -12.8 0zM877.0 653.1a6.4 6.4 0 1 0 12.8 0a6.4 6.4 0 1 0 -12.8 0zM877.4 653.5a6.4 6.4 0 1 0 12.8 0a6.4 6.4 0 1 0 -12.8 0zM877.8 653.8a6.4 6.4 0 1 0 12.8 0a6.4 6.4 0 1 0 -12.8 0z" fill="#ff0a0a"/>
<path d="M271.7 103.9a6.4 6.4 0 1 0 12.8 0a6.4 6.4 0 1 0 -12.8 0zM318.2 103.9a6.4 6.4 0 1 0 12.8 0a6.4 6.4 0 1 0 -12.8 0zM353.4 103.9a6.4 6.4 0 1 0 12.8 0a6.4 6.4 0 1 0 -12.8 0zM380.8 103.9a6.4 6.4 0 1 0 12.8 0a6.4 6.4 0 1 0 -12.8 0zM402.6 103.9a6.4 6.4 0 1 0 12.8 0a6.4 6.4 0 1 0 -12.8 0zM421.9 104.4a6.4 6.4 0 1 0 12.8 0a6.4 6.4 0 1 0 -12.8 0zM437.8 105.1a6.4 6.4 0 1 0 12.8 0a6.4 6.4 0 1 0 -12.8 0zM451.6 105.7a6.4 6.4 0 1 0 12.8 0a6.4 6.4 0 1 0 -12.8 0zM464.4 106.2a6.4 6.4 0 1 0 12.8 0a6.4 6.4 0 1 0 -12.8 0zM476.7 106.7a6.4 6.4 0 1 0 12.8 0a6.4 6.4 0 1 0 -12.8 0zM487.2 107.3a6.4 6.4 0 1 0 12.8 0a6.4 6.4 0 1 0 -12.8 0zM497.4 107.9a6.4 6.4 0 1 0 12.8 0a6.4 6.4 0 1 0 -12.8 0zM506.7 108.5a6.4 6.4 0 1 0 12.8 0a6.4 6.4 0 1 0 -12.8 0zM515.3 109.2a6.4 6.4 0 1 0 12.8 0a6.4 6.4 0 1 0 -12.8 0zM523.4 109.9a6.4 6.4 0 1 0 12.8 0a6.4 6.4 0 1 0 -12.8 0zM530.8 110.6a6.4 6.4 0 1 0 12.8 0a6.4 6.4 0 1 0 -12.8 0zM537.7 111.3a6.4 6.4 0 1 0 12.8 0a6.4 6.4 0 1 0 -12.8 0zM544.2 112.1a6.4 6.4 0 1 0 12.8 0a6.4 6.4 0 1 0 -12.8 0zM550.4 113.0a6.4 6.4 0 1 0 12.8 0a6.4 6.4 0 1 0 -12.8 0zM556.3 114.0a6.4 6.4 0 1 0 12.8 0a6.4 6.4 0 1 0 -12.8 0zM561.9 115.2a6.4 6.4 0 1 0 12.8 0a6.4 6.4 0 1 0 -12.8 0zM567.3 116.6a6.4 6.4 0 1 0 12.8 0a6.4 6.4 0 1 0 -12.8 0zM572.5 118.0a6.4 6.4 0 1 0 12.8 0a6.4 6.4 0 1 0 -12.8 0zM577.4 119.5a6.4 6.4 0 1 0 12.8 0a6.4 6.4 0 1 0 -12.8 0zM582.1 120.9a6.4 6.4 0 1 0 12.8 0a6.4 6.4 0 1 0 -12.8 0zM586.7 122.5a6.4 6.4 0 1 0 12.8 0a6.4 6.4 0 1 0 -12.8 0zM591.1 124.2a6.4 6.4 0 1 0 12.8 0a6.4 6.4 0 1 0 -12.8 0zM595.3 126.2a6.4 6.4 0 1 0 12.8 0a6.4 6.4 0 1 0 -12.8 0zM599.4 128.7a6.4 6.4 0 1 0 12.8 0a6.4 6.4 0 1 0 -12.8 0zM603.4 131.3a6.4 6.4 0 1 0 12.8 0a6.4 6.4 0 1 0 -12.8 0zM607.2 134.0a6.4 6.4 0 1 0 12.8 0a6.4 6.4 0 1 0 -12.8 0zM611.0 136.6a6.4 6.4 0 1 0 12.8 0a6.4 6.4 0 1 0 -12.8 0zM614.6 139.1a6.4 6.4 0 1 0 12.8 0a6.4 6.4 0 1 0 -12.8 0zM618.1 141.7a6.4 6.4 0 1 0 12.8 0a6.4 6.4 0 1 0 -12.8 0zM621.5 144.2a6.4 6.4 0 1 0 12.8 0a6.4 6.4 0 1 0 -12.8 0zM624.8 146.9a6.4 6.4 0 1 0 12.8 0a6.4 6.4 0 1 0 -12.8 0zM628.0 149.8a6.4 6.4 0 1 0 12.8 0a6.4 6.4 0 1 0 -12.8 0zM631.2 153.5a6.4 6.4 0 1 0 12.8 0a6.4 6.4 0 1 0 -12.8 0zM634.2 159.1a6.4 6.4 0 1 0 12.8 0a6.4 6.4 0 1 0 -12.8 0zM637.2 165.4a6.4 6.4 0 1 0 12.8 0a6.4 6.4 0 1 0 -12.8 0zM640.1 172.6a6.4 6.4 0 1 0 12.8 0a6.4 6.4 0 1 0 -12.8 0zM643.0 181.0a6.4 6.4 0 1 0 12.8 0a6.4 6.4 0 1 0 -12.8 0zM645.7 188.4a6.4 6.4 0 1 0 12.8 0a6.4 6.4 0 1 0 -12.8 0zM648.5 194.9a6.4 6.4 0 1 0 12.8 0a6.4 6.4 0 1 0 -12.8 0zM651.1 205.0a6.4 6.4 0 1 0 12.8 0a6.4 6.4 0 1 0 -12.8 0zM653.7 212.9a6.4 6.4 0 1 0 12.8 0a6.4 6.4 0 1 0 -12.8 0zM656.3 220.5a6.4 6.4 0 1 0 12.8 0a6.4 6.4 0 1 0 -12.8 0zM658.8 230.7a6.4 6.4 0 1 0 12.8 0a6.4 6.4 0 1 0 -12.8 0zM661.2 244.3a6.4 6.4 0 1 0 12.8 0a6.4 6.4 0 1 0 -12.8 0zM663.6 255.7a6.4 6.4 0 1 0 12.8 0a6.4 6.4 0 1 0 -12.8 0zM665.9 268.5a6.4 6.4 0 1 0 12.8 0a6.4 6.4 0 1 0 -12.8 0zM668.2 283.2a6.4 6.4 0 1 0 12.8 0a6.4 6.4 0 1 0 -12.8 0zM670.5 296.0a6.4 6.4 0 1 0 12.8 0a6.4 6.4 0 1 0 -12.8 0zM672.7 308.3a6.4 6.4 0 1 0 12.8 0a6.4 6.4 0 1 0 -12.8 0zM674.9 321.0a6.4 6.4 0 1 0 12.8 0a6.4 6.4 0 1 0 -12.8 0zM677.0 335.5a6.4 6.4 0 1 0 12.8 0a6.4 6.4 0 1 0 -12.8 0zM679.1 350.9a6.4 6.4 0 1 0 12.8 0a6.4 6.4 0 1 0 -12.8 0zM681.2 368.8a6.4 6.4 0 1 0 12.8 0a6.4 6.4 0 1 0 -12.8 0zM683.2 382.1a6.4 6.4 0 1 0 12.8 0a6.4 6.4 0 1 0 -12.8 0zM685.2 393.0a6.4 6.4 0 1 0 12.8 0a6.4 6.4 0 1 0 -12.8 0zM687.2 403.0a6.4 6.4 0 1 0 12.8 0a6.4 6.4 0 1 0 -12.8 0zM689.1 419.0a6.4 6.4 0 1 0 12.8 0a6.4 6.4 0 1 0 -12.8 0zM691.0 427.4a6.4 6.4 0 1 0 12.8 0a6.4 6.4 0 1 0 -12.8 0zM692.9 434.5a6.4 6.4 0 1 0 12.8 0a6.4 6.4 0 1 0 -12.8 0zM694.8 444.2a6.4 6.4 0 1 0 12.8 0a6.4 6.4 0 1 0 -12.8 0zM696.6 450.4a6.4 6.4 0 1 0 12.8 0a6.4 6.4 0 1 0 -12.8 0zM698.4 455.7a6.4 6.4 0 1 0 12.8 0a6.4 6.4 0 1 0 -12.8 0zM700.1 461.3a6.4 6.4 0 1 0 12.8 0a6.4 6.4 0 1 0 -12.8 0zM701.9 466.6a6.4 6.4 0 1 0 12.8 0a6.4 6.4 0 1 0 -12.8 0zM703.6 471.2a6.4 6.4 0 1 0 12.8 0a6.4 6.4 0 1 0 -12.8 0zM705.3 475.3a6.4 6.4 0 1 0 12.8 0a6.4 6.4 0 1 0 -12.8 0zM706.9 479.2a6.4 6.4 0 1 0 12.8 0a6.4 6.4 0 1 0 -12.8 0zM708.6 483.0a6.4 6.4 0 1 0 12.8 0a6.4 6.4 0 1 0 -12.8 0zM710.2 486.9a6.4 6.4 0 1 0 12.8 0a6.4 6.4 0 1 0 -12.8 0zM711.8 490.8a6.4 6.4 0 1 0 12.8 0a6.4 6.4 0 1 0 -12.8 0zM713.4 494.3a6.4 6.4 0 1 0 12.8 0a6.4 6.4 0 1 0 -12.8 0zM715.0 497.3a6.4 6.4 0 1 0 12.8 0a6.4 6.4 0 1 0 -12.8 0zM716.5 499.8a6.4 6.4 0 1 0 12.8 0a6.4 6.4 0 1 0 -12.8 0zM718.0 502.0a6.4 6.4 0 1 0 12.8 0a6.4 6.4 0 1 0 -12.8 0zM719.5 504.1a6.4 6.4 0 1 0 12.8 0a6.4 6.4 0 1 0 -12.8 0zM721.0 506.3a6.4 6.4 0 1 0 12.8 0a6.4 6.4 0 1 0 -12.8 0zM722.5 508.5a6.4 6.4 0 1 0 12.8 0a6.4 6.4 0 1 0 -12.8 0zM723.9 510.8a6.4 6.4 0 1 0 12.8 0a6.4 6.4 0 1 0 -12.8 0zM725.4 513.1a6.4 6.4 0 1 0 12.8 0a6.4 6.4 0 1 0 -12.8 0zM726.8 515.3a6.4 6.4 0 1 0 12.8 0a6.4 6.4 0 1 0 -12.8 0zM728.2 517.4a6.4 6.4 0 1 0 12.8 0a6.4 6.4 0 1 0 -12.8 0zM729.5 519.5a6.4 6.4 0 1 0 12.8 0a6.4 6.4 0 1 0 -12.8 0zM730.9 521.5a6.4 6.4 0 1 0 12.8 0a6.4 6.4 0 1 0 -12.8 0zM732.3 523.4a6.4 6.4 0 1 0 12.8 0a6.4 6.4 0 1 0 -12.8 0zM733.6 525.3a6.4 6.4 0 1 0 12.8 0a6.4 6.4 0 1 0 -12.8 0zM734.9 527.1a6.4 6.4 0 1 0 12.8 0a6.4 6.4 0 1 0 -12.8 0zM736.2 528.9a6.4 6.4 0 1 0 12.8 0a6.4 6.4 0 1 0 -12.8 0zM737.5 530.6a6.4 6.4 0 1 0 12.8 0a6.4 6.4 0 1 0 -12.8 0zM738.8 532.3a6.4 6.4 0 1 0 12.8 0a6.4 6.4 0 1 0 -12.8 0zM740.1 533.8a6.4 6.4 0 1 0 12.8 0a6.4 6.4 0 1 0 -12.8 0zM741.3 535.4a6.4 6.4 0 1 0 12.8 0a6.4 6.4 0 1 0 -12.8 0zM742.6 536.9a6.4 6.4 0 1 0 12.8 0a6.4 6.4 0 1 0 -12.8 0zM743.8 538.4a6.4 6.4 0 1 0 12.8 0a6.4 6.4 0 1 0 -12.8 0zM745.0 539.9a6.4 6.4 0 1 0 12.8 0a6.4 6.4 0 1 0 -12.8 0zM746.2 541.5a6.4 6.4 0 1 0 12.8 0a6.4 6.4 0 1 0 -12.8 0zM747.4 543.1a6.4 6.4 0 1 0 12.8 0a6.4 6.4 0 1 0 -12.8 0zM748.6 544.8a6.4 6.4 0 1 0 12.8 0a6.4 6.4 0 1 0 -12.8 0zM749.7 546.5a6.4 6.4 0 1 0 12.8 0a6.4 6.4 0 1 0 -12.8 0zM750.9 548.2a6.4 6.4 0 1 0 12.8 0a6.4 6.4 0 1 0 -12.8 0zM752.0 549.8a6.4 6.4 0 1 0 12.8 0a6.4 6.4 0 1 0 -12.8 0zM753.2 551.3a6.4 6.4 0 1 0 12.8 0a6.4 6.4 0 1 0 -12.8 0zM754.3 552.8a6.4 6.4 0 1 0 12.8 0a6.4 6.4 0 1 0 -12.8 0zM755.4 554.1a6.4 6.4 0 1 0 12.8 0a6.4 6.4 0 1 0 -12.8 0zM756.5 555.4a6.4 6.4 0 1 0 12.8 0a6.4 6.4 0 1 0 -12.8 0zM757.6 556.7a6.4 6.4 0 1 0 12.8 0a6.4 6.4 0 1 0 -12.8 0zM758.7 557.9a6.4 6.4 0 1 0 12.8 0a6.4 6.4 0 1 0 -12.8 0zM759.8 559.1a6.4 6.4 0 1 0 12.8 0a6.4 6.4 0 1 0 -12.8 0zM760.8 560.2a6.4 6.4 0 1 0 12.8 0a6.4 6.4 0 1 0 -12.8 0zM761.9 561.3a6.4 6.4 0 1 0 12.8 0a6.4 6.4 0 1 0 -12.8 0zM762.9 562.4a6.4 6.4 0 1 0 12.8 0a6.4 6.4 0 1 0 -12.8 0zM764.0 563.4a6.4 6.4 0 1 0 12.8 0a6.4 6.4 0 1 0 -12.8 0zM765.0 564.4a6.4 6.4 0 1 0 12.8 0a6.4 6.4 0 1 0 -12.8 0zM766.0 565.4a6.4 6.4 0 1 0 12.8 0a6.4 6.4 0 1 0 -12.8 0zM767.0 566.4a6.4 6.4 0 1 0 12.8 0a6.4 6.4 0 1 0 -12.8 0zM768.0 567.4a6.4 6.4 0 1 0 12.8 0a6.4 6.4 0 1 0 -12.8 0zM769.0 568.3a6.4 6.4 0 1 0 12.8 0a6.4 6.4 0 1 0 -12.8 0zM770.0 569.3a6.4 6.4 0 1 0 12.8 0a6.4 6.4 0 1 0 -12.8 0zM771.0 570.2a6.4 6.4 0 1 0 12.8 0a6.4 6.4 0 1 0 -12.8 0zM772.0 571.0a6.4 6.4 0 1 0 12.8 0a6.4 6.4 0 1 0 -12.8 0zM772.9 571.9a6.4 6.4 0 1 0 12.8 0a6.4 6.4 0 1 0 -12.8 0zM773.9 572.8a6.4 6.4 0 1 0 12.8 0a6.4 6.4 0 1 0 -12.8 0zM774.8 573.6a6.4 6.4 0 1 0 12.8 0a6.4 6.4 0 1 0 -12.8 0zM775.8 574.4a6.4 6.4 0 1 0 12.8 0a6.4 6.4 0 1 0 -12.8 0zM776.7 575.2a6.4 6.4 0 1 0 12.8 0a6.4 6.4 0 1 0 -12.8 0zM777.6 576.0a6.4 6.4 0 1 0 12.8 0a6.4 6.4 0 1 0 -12.8 0zM778.6 576.8a6.4 6.4 0 1 0 12.8 0a6.4 6.4 0 1 0 -12.8 0zM779.5 577.6a6.4 6.4 0 1 0 12.8 0a6.4 6.4 0 1 0 -12.8 0zM780.4 578.3a6.4 6.4 0 1 0 12.8 0a6.4 6.4 0 1 0 -12.8 0zM781.3 579.1a6.4 6.4 0 1 0 12.8 0a6.4 6.4 0 1 0 -12.8 0zM782.2 579.8a6.4 6.4 0 1 0 12.8 0a6.4 6.4 0 1 0 -12.8 0zM783.1 580.6a6.4 6.4 0 1 0 12.8 0a6.4 6.4 0 1 0 -12.8 0zM783.9 581.3a6.4 6.4 0 1 0 12.8 0a6.4 6.4 0 1 0 -12.8 0zM784.8 582.0a6.4 6.4 0 1 0 12.8 0a6.4 6.4 0 1 0 -12.8 0zM785.7 582.7a6.4 6.4 0 1 0 12.8 0a6.4 6.4 0 1 0 -12.8 0zM786.5 583.3a6.4 6.4 0 1 0 12.8 0a6.4 6.4 0 1 0 -12.8 0zM787.4 584.0a6.4 6.4 0 1 0 12.8 0a6.4 6.4 0 1 0 -12.8 0zM788.2 584.6a6.4 6.4 0 1 0 12.8 0a6.4 6.4 0 1 0 -12.8 0zM789.1 585.2a6.4 6.4 0 1 0 12.8 0a6.4 6.4 0 1 0 -12.8 0zM789.9 585.9a6.4 6.4 0 1 0 12.8 0a6.4 6.4 0 1 0 -12.8 0zM790.8 586.5a6.4 6.4 0 1 0 12.8 0a6.4 6.4 0 1 0 -12.8 0zM791.6 587.1a6.4 6.4 0 1 0 12.8 0a6.4 6.4 0 1 0 -12.8 0zM792.4 587.7a6.4 6.4 0 1 0 12.8 0a6.4 6.4 0 1 0 -12.8 0zM793.2 588.3a6.4 6.4 0 1 0 12.8 0a6.4 6.4 0 1 0 -12.8 0zM794.0 588.9a6.4 6.4 0 1 0 12.8 0a6.4 6.4 0 1 0 -12.8 0zM794.8 589.5a6.4 6.4 0 1 0 12.8 0a6.4 6.4 0 1 0 -12.8 0zM795.6 590.2a6.4 6.4 0 1 0 12.8 0a6.4 6.4 0 1 0 -12.8 0zM796.4 590.8a6.4 6.4 0 1 0 12.8 0a6.4 6.4 0 1 0 -12.8 0zM797.2 591.4a6.4 6.4 0 1 0 12.8 0a6.4 6.4 0 1 0 -12.8 0zM798.0 592.1a6.4 6.4 0 1 0 12.8 0a6.4 6.4 0 1 0 -12.8 0zM798.8 592.7a6.4 6.4 0 1 0 12.8 0a6.4 6.4 0 1 0 -12.8 0zM799.5 593.4a6.4 6.4 0 1 0 12.8 0a6.4 6.4 0 1 0 -12.8 0zM800.3 594.1a6.4 6.4 0 1 0 12.8 0a6.4 6.4 0 1 0 -12.8 0zM801.1 594.8a6.4 6.4 0 1 0 12.8 0a6.4 6.4 0 1 0 -12.8 0zM801.8 595.5a6.4 6.4 0 1 0 12.8 0a6.4 6.4 0 1 0 -12.8 0zM802.6 596.2a6.4 6.4 0 1 0 12.8 0a6.4 6.4 0 1 0 -12.8 0zM803.3 596.9a6.4 6.4 0 1 0 12.8 0a6.4 6.4 0 1 0 -12.8 0zM804.1 597.6a6.4 6.4 0 1 0 12.8 0a6.4 6.4 0 1 0 -12.8 0zM804.8 598.3a6.4 6.4 0 1 0 12.8 0a6.4 6.4 0 1 0 -12.8 0zM805.5 599.0a6.4 6.4 0 1 0 12.8 0a6.4 6.4 0 1 0 -12.8 0zM806.3 599.7a6.4 6.4 0 1 0 12.8 0a6.4 6.4 0 1 0 -12.8 0zM807.0 600.4a6.4 6.4 0 1 0 12.8 0a6.4 6.4 0 1 0 -12.8 0zM807.7 601.1a6.4 6.4 0 1 0 12.8 0a6.4 6.4 0 1 0 -12.8 0zM808.4 601.7a6.4 6.4 0 1 0 12.8 0a6.4 6.4 0 1 0 -12.8 0zM809.2 602.4a6.4 6.4 0 1 0 12.8 0a6.4 6.4 0 1 0 -12.8 0zM809.9 603.1a6.4 6.4 0 1 0 12.8 0a6.4 6.4 0 1 0 -12.8 0zM810.6 603.7a6.4 6.4 0 1 0 12.8 0a6.4 6.4 0 1 0 -12.8 0zM811.3 604.4a6.4 6.4 0 1 0 12.8 0a6.4 6.4 0 1 0 -12.8 0zM812.0 605.0a6.4 6.4 0 1 0 12.8 0a6.4 6.4 0 1 0 -12.8 0zM812.7 605.7a6.4 6.4 0 1 0 12.8 0a6.4 6.4 0 1 0 -12.8 0zM813.4 606.3a6.4 6.4 0 1 0 12.8 0a6.4 6.4 0 1 0 -12.8 0zM814.0 607.0a6.4 6.4 0 1 0 12.8 0a6.4 6.4 0 1 0 -12.8 0zM814.7 607.6a6.4 6.4 0 1 0 12.8 0a6.4 6.4 0 1 0 -12.8 0zM815.4 608.2a6.4 6.4 0 1 0 12.8 0a6.4 6.4 0 1 0 -12.8 0zM816.1 608.9a6.4 6.4 0 1 0 12.8 0a6.4 6.4 0 1 0 -12.8 0zM816.7 609.5a6.4 6.4 0 1 0 12.8 0a6.4 6.4 0 1 0 -12.8 0zM817.4 610.1a6.4 6.4 0 1 0 12.8 0a6.4 6.4 0 1 0 -12.8 0zM818.1 610.7a6.4 6.4 0 1 0 12.8 0a6.4 6.4 0 1 0 -12.8 0zM818.7 611.3a6.4 6.4 0 1 0 12.8 0a6.4 6.4 0 1 0 -12.8 0zM819.4 611.9a6.4 6.4 0 1 0 12.8 0a6.4 6.4 0 1 0 -12.8 0zM820.0 612.6a6.4 6.4 0 1 0 12.8 0a6.4 6.4 0 1 0 -12.8 0zM820.7 613.2a6.4 6.4 0 1 0 12.8 0a6.4 6.4 0 1 0 -12.8 0zM821.3 613.8a6.4 6.4 0 1 0 12.8 0a6.4 6.4 0 1 0 -12.8 0zM822.0 614.4a6.4 6.4 0 1 0 12.8 0a6.4 6.4 0 1 0 -12.8 0zM822.6 615.0a6.4 6.4 0 1 0 12.8 0a6.4 6.4 0 1 0 -12.8 0zM823.2 615.6a6.4 6.4 0 1 0 12.8 0a6.4 6.4 0 1 0 -12.8 0zM823.9 616.2a6.4 6.4 0 1 0 12.8 0a6.4 6.4 0 1 0 -12.8 0zM824.5 616.8a6.4 6.4 0 1 0 12.8 0a6.4 6.4 0 1 0 -12.8 0zM825.1 617.4a6.4 6.4 0 1 0 12.8 0a6.4 6.4 0 1 0 -12.8 0zM825.7 618.0a6.4 6.4 0 1 0 12.8 0a6.4 6.4 0 1 0 -12.8 0zM826.4 618.5a6.4 6.4 0 1 0 12.8 0a6.4 6.4 0 1 0 -12.8 0zM827.0 619.1a6.4 6.4 0 1 0 12.8 0a6.4 6.4 0 1 0 -12.8 0zM827.6 619.6a6.4 6.4 0 1 0 12.8 0a6.4 6.4 0 1 0 -12.8 0zM828.2 620.2a6.4 6.4 0 1 0 12.8 0a6.4 6.4 0 1 0 -12.8 0zM828.8 620.7a6.4 6.4 0 1 0 12.8 0a6.4 6.4 0 1 0 -12.8 0zM829.4 621.2a6.4 6.4 0 1 0 12.8 0a6.4 6.4 0 1 0 -12.8 0zM830.0 621.7a6.4 6.4 0 1 0 12.8 0a6.4 6.4 0 1 0 -12.8 0zM830.6 622.1a6.4 6.4 0 1 0 12.8 0a6.4 6.4 0 1 0 -12.8 0zM831.2 622.6a6.4 6.4 0 1 0 12.8 0a6.4 6.4 0 1 0 -12.8 0zM831.8 623.1a6.4 6.4 0 1 0 12.8 0a6.4 6.4 0 1 0 -12.8 0zM832.4 623.5a6.4 6.4 0 1 0 12.8 0a6.4 6.4 0 1 0 -12.8 0zM833.0 623.9a6.4 6.4 0 1 0 12.8 0a6.4 6.4 0 1 0 -12.8 0zM833.5 624.4a6.4 6.4 0 1 0 12.8 0a6.4 6.4 0 1 0 -12.8 0zM834.1 624.8a6.4 6.4 0 1 0 12.8 0a6.4 6.4 0 1 0 -12.8 0zM834.7 625.2a6.4 6.4 0 1 0 12.8 0a6.4 6.4 0 1 0 -12.8 0zM835.3 625.6a6.4 6.4 0 1 0 12.8 0a6.4 6.4 0 1 0 -12.8 0zM835.9 626.0a6.4 6.4 0 1 0 12.8 0a6.4 6.4 0 1 0 -12.8 0zM836.4 626.4a6.4 6.4 0 1 0 12.8 0a6.4 6.4 0 1 0 -12.8 0zM837.0 626.8a6.4 6.4 0 1 0 12.8 0a6.4 6.4 0 1 0 -12.8 0zM837.6 627.2a6.4 6.4 0 1 0 12.8 0a6.4 6.4 0 1 0 -12.8 0zM838.1 627.6a6.4 6.4 0 1 0 12.8 0a6.4 6.4 0 1 0 -12.8 0zM838.7 628.0a6.4 6.4 0 1 0 12.8 0a6.4 6.4 0 1 0 -12.8 0zM839.2 628.4a6.4 6.4 0 1 0 12.8 0a6.4 6.4 0 1 0 -12.8 0zM839.8 628.9a6.4 6.4 0 1 0 12.8 0a6.4 6.4 0 1 0 -12.8 0zM840.3 629.3a6.4 6.4 0 1 0 12.8 0a6.4 6.4 0 1 0 -12.8 0zM840.9 629.7a6.4 6.4 0 1 0 12.8 0a6.4 6.4 0 1 0 -12.8 0zM841.4 630.1a6.4 6.4 0 1 0 12.8 0a6.4 6.4 0 1 0 -12.8 0zM842.0 630.5a6.4 6.4 0 1 0 12.8 0a6.4 6.4 0 1 0 -12.8 0zM842.5 630.9a6.4 6.4 0 1 0 12.8 0a6.4 6.4 0 1 0 -12.8 0zM843.0 631.3a6.4 6.4 0 1 0 12.8 0a6.4 6.4 0 1 0 -12.8 0zM843.6 631.7a6.4 6.4 0 1 0 12.8 0a6.4 6.4 0 1 0 -12.8 0zM844.1 632.1a6.4 6.4 0 1 0 12.8 0a6.4 6.4 0 1 0 -12.8 0zM844.6 632.5a6.4 6.4 0 1 0 12.8 0a6.4 6.4 0 1 0 -12.8 0zM845.2 632.9a6.4 6.4 0 1 0 12.8 0a6.4 6.4 0 1 0 -12.8 0zM845.7 633.3a6.4 6.4 0 1 0 12.8 0a6.4 6.4 0 1 0 -12.8 0zM846.2 633.7a6.4 6.4 0 1 0 12.8 0a6.4 6.4 0 1 0 -12.8 0zM846.8 634.1a6.4 6.4 0 1 0 12.8 0a6.4 6.4 0 1 0 -12.8 0zM847.3 634.5a6.4 6.4 0 1 0 12.8 0a6.4 6.4 0 1 0 -12.8 0zM847.8 634.9a6.4 6.4 0 1 0 12.8 0a6.4 6.4 0 1 0 -12.8 0zM848.3 635.2a6.4 6.4 0 1 0 12.8 0a6.4 6.4 0 1 0 -12.8 0zM848.8 635.6a6.4 6.4 0 1 0 12.8 0a6.4 6.4 0 1 0 -12.8 0zM849.3 636.0a6.4 6.4 0 1 0 12.8 0a6.4 6.4 0 1 0 -12.8 0zM849.8 636.4a6.4 6.4 0 1 0 12.8 0a6.4 6.4 0 1 0 -12.8 0zM850.3 636.7a6.4 6.4 0 1 0 12.8 0a6.4 6.4 0 1 0 -12.8 0zM850.9 637.1a6.4 6.4 0 1 0 12.8 0a6.4 6.4 0 1 0 -12.8 0zM851.4 637.4a6.4 6.4 0 1 0 12.8 0a6.4 6.4 0 1 0 -12.8 0zM851.9 637.8a6.4 6.4 0 1 0 12.8 0a6.4 6.4 0 1 0 -12.8 0zM852.4 638.1a6.4 6.4 0 1 0 12.8 0a6.4 6.4 0 1 0 -12.8 0zM852.8 638.5a6.4 6.4 0 1 0 12.8 0a6.4 6.4 0 1 0 -12.8 0zM853.3 638.8a6.4 6.4 0 1 0 12.8 0a6.4 6.4 0 1 0 -12.8 0zM853.8 639.2a6.4 6.4 0 1 0 12.8 0a6.4 6.4 0 1 0 -12.8 0zM854.3 639.5a6.4 6.4 0 1 0 12.8 0a6.4 6.4 0 1 0 -12.8 0zM854.8 639.9a6.4 6.4 0 1 0 12.8 0a6.4 6.4 0 1 0 -12.8 0zM855.3 640.2a6.4 6.4 0 1 0 12.8 0a6.4 6.4 0 1 0 -12.8 0zM855.8 640.6a6.4 6.4 0 1 0 12.8 0a6.4 6.4 0 1 0 -12.8 0zM856.3 640.9a6.4 6.4 0 1 0 12.8 0a6.4 6.4 0 1 0 -12.8 0zM856.7 641.2a6.4 6.4 0 1 0 12.8 0a6.4 6.4 0 1 0 -12.8 0zM857.2 641.6a6.4 6.4 0 1 0 12.8 0a6.4 6.4 0 1 0 -12.8 0zM857.7 641.9a6.4 6.4 0 1 0 12.8 0a6.4 6.4 0 1 0 -12.8 0zM858.2 642.2a6.4 6.4 0 1 0 12.8 0a6.4 6.4 0 1 0 -12.8 0zM858.7 642.5a6.4 6.4 0 1 0 12.8 0a6.4 6.4 0 1 0 -12.8 0zM859.1 642.9a6.4 6.4 0 1 0 12.8 0a6.4 6.4 0 1 0 -12.8 0zM859.6 643.2a6.4 6.4 0 1 0 12.8 0a6.4 6.4 0 1 0 -12.8 0zM860.1 643.5a6.4 6.4 0 1 0 12.8 0a6.4 6.4 0 1 0 -12.8 0zM860.5 643.9a6.4 6.4 0 1 0 12.8 0a6.4 6.4 0 1 0 -12.8 0zM861.0 644.2a6.4 6.4 0 1 0 12.8 0a6.4 6.4 0 1 0 -12.8 0zM861.5 644.5a6.4 6.4 0 1 0 12.8 0a6.4 6.4 0 1 0 -12.8 0zM861.9 644.8a6.4 6.4 0 1 0 12.8 0a6.4 6.4 0 1 0 -12.8 0zM862.4 645.1a6.4 6.4 0 1 0 12.8 0a6.4 6.4 0 1 0 -12.8 0zM862.8 645.5a6.4 6.4 0 1 0 12.8 0a6.4 6.4 0 1 0 -12.8 0zM863.3 645.8a6.4 6.4 0 1 0 12.8 0a6.4 6.4 0 1 0 -12.8 0zM863.7 646.1a6.4 6.4 0 1 0 12.8 0a6.4 6.4 0 1 0 -12.8 0zM864.2 646.4a6.4 6.4 0 1 0 12.8 0a6.4 6.4 0 1 0 -12.8 0zM864.6 646.7a6.4 6.4 0 1 0 12.8 0a6.4 6.4 0 1 0 -12.8 0zM865.1 647.0a6.4 6.4 0 1 0 12.8 0a6.4 6.4 0 1 0 -12.8 0zM865.5 647.4a6.4 6.4 0 1 0 12.8 0a6.4 6.4 0 1 0 -12.8 0zM866.0 647.7a6.4 6.4 0 1 0 12.8 0a6.4 6.4 0 1 0 -12.8 0zM866.4 648.0a6.4 6.4 0 1 0 12.8 0a6.4 6.4 0 1 0 -12.8 0zM866.9 648.3a6.4 6.4 0 1 0 12.8 0a6.4 6.4 0 1 0 -12.8 0zM867.3 648.6a6.4 6.4 0 1 0 12.8 0a6.4 6.4 0 1 0 -12.8 0zM867.7 648.9a6.4 6.4 0 1 0 12.8 0a6.4 6.4 0 1 0 -12.8 0zM868.2 649.2a6.4 6.4 0 1 0 12.8 0a6.4 6.4 0 1 0 -12.8 0zM868.6 649.5a6.4 6.4 0 1 0 12.8 0a6.4 6.4 0 1 0 -12.8 0zM869.1 649.8a6.4 6.4 0 1 0 12.8 0a6.4 6.4 0 1 0 -12.8 0zM869.5 650.1a6.4 6.4 0 1 0 12.8 0a6.4 6.4 0 1 0 -12.8 0zM869.9 650.4a6.4 6.4 0 1 0 12.8 0a6.4 6.4 0 1 0 -12.8 0zM870.3 650.8a6.4 6.4 0 1 0 12.8 0a6.4 6.4 0 1 0 -12.8 0zM870.8 651.1a6.4 6.4 0 1 0 12.8 0a6.4 6.4 0 1 0 -12.8 0zM871.2 651.4a6.4 6.4 0 1 0 12.8 0a6.4 6.4 0 1 0 -12.8 0zM871.6 651.7a6.4 6.4 0 1 0 12.8 0a6.4 6.4 0 1 0 -12.8 0zM872.1 652.0a6.4 6.4 0 1 0 12.8 0a6.4 6.4 0 1 0 -12.8 0zM872.5 652.2a6.4 6.4 0 1 0 12.8 0a6.4 6.4 0 1 0 -12.8 0zM872.9 652.5a6.4 6.4 0 1 0 12.8 0a6.4 6.4 0 1 0 -12.8 0zM873.3 652.8a6.4 6.4 0 1 0 12.8 0a6.4 6.4 0 1 0 -12.8 0zM873.7 653.1a6.4 6.4 0 1 0 12.8 0a6.4 6.4 0 1 0 -12.8 0zM874.1 653.4a6.4 6.4 0 1 0 12.8 0a6.4 6.4 0 1 0 -12.8 0zM874.6 653.7a6.4 6.4 0 1 0 12.8 0a6.4 6.4 0 1 0 -12.8 0zM875.0 654.0a6.4 6.4 0 1 0 12.8 0a6.4 6.4 0 1 0 -12.8 0zM875.4 654.3a6.4 6.4 0 1 0 12.8 0a6.4 6.4 0 1 0 -12.8 0zM875.8 654.6a6.4 6.4 0 1 0 12.8 0a6.4 6.4 0 1 0 -12.8 0zM876.2 654.9a6.4 6.4 0 1 0 12.8 0a6.4 6.4 0 1 0 -12.8 0zM876.6 655.2a6.4 6.4 0 1 0 12.8 0a6.4 6.4 0 1 0 -12.8 0zM877.0 655.5a6.4 6.4 0 1 0 12.8 0a6.4 6.4 0 1 0 -12.8 0zM877.4 655.7a6.4 6.4 0 1 0 12.8 0a6.4 6.4 0 1 0 -12.8 0zM877.8 656.0a6.4 6.4 0 1 0 12.8 0a6.4 6.4 0 1 0 -12.8 0z" fill="#ff8c1a"/>
<path d="M280.7 473.8h2.2l6.0 13.4h-14.2zM328.7 474.1h2.2l6.0 13.4h-14.2zM362.8 474.6h2.2l6.0 13.4h-14.2zM389.5 474.9h2.2l6.0 13.4h-14.2zM411.2 474.5h2.2l6.0 13.4h-14.2zM429.2 474.5h2.2l6.0 13.4h-14.2zM445.4 474.1h2.2l6.0 13.4h-14.2zM459.8 472.8h2.2l6.0 13.4h-14.2zM472.7 471.5h2.2l6.0 13.4h-14.2zM483.9 470.5h2.2l6.0 13.4h-14.2zM494.8 469.7h2.2l6.0 13.4h-14.2zM504.2 468.6h2.2l6.0 13.4h-14.2zM513.1 467.8h2.2l6.0 13.4h-14.2zM521.2 466.6h2.2l6.0 13.4h-14.2zM529.0 465.2h2.2l6.0 13.4h-14.2zM536.4 463.2h2.2l6.0 13.4h-14.2zM543.3 460.3h2.2l6.0 13.4h-14.2zM549.8 457.3h2.2l6.0 13.4h-14.2zM556.0 452.4h2.2l6.0 13.4h-14.2zM561.9 444.4h2.2l6.0 13.4h-14.2zM567.5 432.6h2.2l6.0 13.4h-14.2zM572.9 416.8h2.2l6.0 13.4h-14.2zM578.1 385.2h2.2l6.0 13.4h-14.2zM583.0 356.8h2.2l6.0 13.4h-14.2zM587.7 324.6h2.2l6.0 13.4h-14.2zM592.3 291.3h2.2l6.0 13.4h-14.2zM596.7 258.8h2.2l6.0 13.4h-14.2zM600.9 232.2h2.2l6.0 13.4h-14.2zM605.0 213.4h2.2l6.0 13.4h-14.2zM609.0 200.5h2.2l6.0 13.4h-14.2zM612.8 190.7h2.2l6.0 13.4h-14.2zM616.6 181.4h2.2l6.0 13.4h-14.2zM620.2 172.6h2.2l6.0 13.4h-14.2zM623.7 164.6h2.2l6.0 13.4h-14.2zM627.1 157.7h2.2l6.0 13.4h-14.2zM630.4 151.9h2.2l6.0 13.4h-14.2zM633.6 147.2h2.2l6.0 13.4h-14.2zM636.8 143.4h2.2l6.0 13.4h-14.2zM639.8 140.2h2.2l6.0 13.4h-14.2zM642.8 137.5h2.2l6.0 13.4h-14.2zM645.7 135.4h2.2l6.0 13.4h-14.2zM648.6 133.7h2.2l6.0 13.4h-14.2zM651.3 132.3h2.2l6.0 13.4h-14.2zM654.1 131.3h2.2l6.0 13.4h-14.2zM656.7 130.5h2.2l6.0 13.4h-14.2zM659.3 130.1h2.2l6.0 13.4h-14.2zM661.9 129.9h2.2l6.0 13.4h-14.2zM664.4 130.1h2.2l6.0 13.4h-14.2zM666.8 130.7h2.2l6.0 13.4h-14.2zM669.2 131.4h2.2l6.0 13.4h-14.2zM671.5 132.0h2.2l6.0 13.4h-14.2zM673.8 132.8h2.2l6.0 13.4h-14.2zM676.1 134.4h2.2l6.0 13.4h-14.2zM678.3 136.7h2.2l6.0 13.4h-14.2zM680.5 139.6h2.2l6.0 13.4h-14.2zM682.6 142.9h2.2l6.0 13.4h-14.2zM684.7 146.7h2.2l6.0 13.4h-14.2zM686.8 151.4h2.2l6.0 13.4h-14.2zM688.8 156.1h2.2l6.0 13.4h-14.2zM690.8 160.7h2.2l6.0 13.4h-14.2zM692.8 165.4h2.2l6.0 13.4h-14.2zM694.7 169.7h2.2l6.0 13.4h-14.2zM696.6 176.2h2.2l6.0 13.4h-14.2zM698.5 180.7h2.2l6.0 13.4h-14.2zM700.4 184.8h2.2l6.0 13.4h-14.2zM702.2 189.3h2.2l6.0 13.4h-14.2zM704.0 194.2h2.2l6.0 13.4h-14.2zM705.7 198.0h2.2l6.0 13.4h-14.2zM707.5 201.8h2.2l6.0 13.4h-14.2zM709.2 206.2h2.2l6.0 13.4h-14.2zM710.9 211.2h2.2l6.0 13.4h-14.2zM712.5 216.5h2.2l6.0 13.4h-14.2zM714.2 222.4h2.2l6.0 13.4h-14.2zM715.8 230.1h2.2l6.0 13.4h-14.2zM717.4 239.8h2.2l6.0 13.4h-14.2zM719.0 248.7h2.2l6.0 13.4h-14.2zM720.6 257.7h2.2l6.0 13.4h-14.2zM722.1 267.0h2.2l6.0 13.4h-14.2zM723.6 277.9h2.2l6.0 13.4h-14.2zM725.1 287.4h2.2l6.0 13.4h-14.2zM726.6 294.9h2.2l6.0 13.4h-14.2zM728.1 307.1h2.2l6.0 13.4h-14.2zM729.5 319.4h2.2l6.0 13.4h-14.2zM731.0 325.4h2.2l6.0 13.4h-14.2zM732.4 332.9h2.2l6.0 13.4h-14.2zM733.8 343.6h2.2l6.0 13.4h-14.2zM735.1 354.2h2.2l6.0 13.4h-14.2zM736.5 365.9h2.2l6.0 13.4h-14.2zM737.9 373.5h2.2l6.0 13.4h-14.2zM739.2 383.6h2.2l6.0 13.4h-14.2zM740.5 400.9h2.2l6.0 13.4h-14.2zM741.8 417.4h2.2l6.0 13.4h-14.2zM743.1 435.2h2.2l6.0 13.4h-14.2zM744.4 448.9h2.2l6.0 13.4h-14.2zM745.7 460.6h2.2l6.0 13.4h-14.2zM746.9 470.2h2.2l6.0 13.4h-14.2zM748.2 478.2h2.2l6.0 13.4h-14.2zM749.4 482.9h2.2l6.0 13.4h-14.2zM750.6 485.9h2.2l6.0 13.4h-14.2zM751.8 489.4h2.2l6.0 13.4h-14.2zM753.0 493.6h2.2l6.0 13.4h-14.2zM754.2 497.2h2.2l6.0 13.4h-14.2zM755.3 500.2h2.2l6.0 13.4h-14.2zM756.5 502.9h2.2l6.0 13.4h-14.2zM757.6 505.6h2.2l6.0 13.4h-14.2zM758.8 508.2h2.2l6.0 13.4h-14.2zM759.9 510.8h2.2l6.0 13.4h-14.2zM761.0 513.3h2.2l6.0 13.4h-14.2zM762.1 515.7h2.2l6.0 13.4h-14.2zM763.2 518.1h2.2l6.0 13.4h-14.2zM764.3 520.3h2.2l6.0 13.4h-14.2zM765.4 522.6h2.2l6.0 13.4h-14.2zM766.4 524.7h2.2l6.0 13.4h-14.2zM767.5 526.8h2.2l6.0 13.4h-14.2zM768.5 528.8h2.2l6.0 13.4h-14.2zM769.6 530.6h2.2l6.0 13.4h-14.2zM770.6 532.3h2.2l6.0 13.4h-14.2zM771.6 533.9h2.2l6.0 13.4h-14.2zM772.6 535.4h2.2l6.0 13.4h-14.2zM773.6 536.9h2.2l6.0 13.4h-14.2zM774.6 538.3h2.2l6.0 13.4h-14.2zM775.6 539.7h2.2l6.0 13.4h-14.2zM776.6 541.1h2.2l6.0 13.4h-14.2zM777.6 542.4h2.2l6.0 13.4h-14.2zM778.5 543.7h2.2l6.0 13.4h-14.2zM779.5 545.0h2.2l6.0 13.4h-14.2zM780.4 546.2h2.2l6.0 13.4h-14.2zM781.4 547.4h2.2l6.0 13.4h-14.2zM782.3 548.6h2.2l6.0 13.4h-14.2zM783.2 549.8h2.2l6.0 13.4h-14.2zM784.2 550.9h2.2l6.0 13.4h-14.2zM785.1 552.0h2.2l6.0 13.4h-14.2zM786.0 553.0h2.2l6.0 13.4h-14.2zM786.9 554.0h2.2l6.0 13.4h-14.2zM787.8 555.0h2.2l6.0 13.4h-14.2zM788.7 555.9h2.2l6.0 13.4h-14.2zM789.5 556.9h2.2l6.0 13.4h-14.2zM790.4 557.9h2.2l6.0 13.4h-14.2zM791.3 558.9h2.2l6.0 13.4h-14.2zM792.1 559.9h2.2l6.0 13.4h-14.2zM793.0 560.9h2.2l6.0 13.4h-14.2zM793.8 561.9h2.2l6.0 13.4h-14.2zM794.7 562.9h2.2l6.0 13.4h-14.2zM795.5 563.9h2.2l6.0 13.4h-14.2zM796.4 564.8h2.2l6.0 13.4h-14.2zM797.2 565.8h2.2l6.0 13.4h-14.2zM798.0 566.8h2.2l6.0 13.4h-14.2zM798.8 567.8h2.2l6.0 13.4h-14.2z" fill="#ff0a0a"/>
<path d="M280.7 450.0h2.2l6.0 13.4h-14.2zM328.7 449.0h2.2l6.0 13.4h-14.2zM362.8 446.8h2.2l6.0 13.4h-14.2zM389.5 442.3h2.2l6.0 13.4h-14.2zM411.2 436.8h2.2l6.0 13.4h-14.2zM429.2 430.6h2.2l6.0 13.4h-14.2zM445.4 422.7h2.2l6.0 13.4h-14.2zM459.8 415.8h2.2l6.0 13.4h-14.2zM472.7 408.9h2.2l6.0 13.4h-14.2zM483.9 402.0h2.2l6.0 13.4h-14.2zM494.8 395.5h2.2l6.0 13.4h-14.2zM504.2 389.6h2.2l6.0 13.4h-14.2zM513.1 383.9h2.2l6.0 13.4h-14.2zM521.2 378.3h2.2l6.0 13.4h-14.2zM529.0 372.9h2.2l6.0 13.4h-14.2zM536.4 368.3h2.2l6.0 13.4h-14.2zM543.3 361.8h2.2l6.0 13.4h-14.2zM549.8 350.3h2.2l6.0 13.4h-14.2zM556.0 334.8h2.2l6.0 13.4h-14.2zM561.9 312.3h2.2l6.0 13.4h-14.2zM567.5 282.3h2.2l6.0 13.4h-14.2zM572.9 248.3h2.2l6.0 13.4h-14.2zM578.1 228.3h2.2l6.0 13.4h-14.2zM583.0 213.8h2.2l6.0 13.4h-14.2zM587.7 203.5h2.2l6.0 13.4h-14.2zM592.3 194.9h2.2l6.0 13.4h-14.2zM596.7 188.1h2.2l6.0 13.4h-14.2zM600.9 182.7h2.2l6.0 13.4h-14.2zM605.0 178.5h2.2l6.0 13.4h-14.2zM609.0 175.5h2.2l6.0 13.4h-14.2zM612.8 173.0h2.2l6.0 13.4h-14.2zM616.6 171.5h2.2l6.0 13.4h-14.2zM620.2 170.6h2.2l6.0 13.4h-14.2zM623.7 170.2h2.2l6.0 13.4h-14.2zM627.1 170.6h2.2l6.0 13.4h-14.2zM630.4 171.4h2.2l6.0 13.4h-14.2zM633.6 172.7h2.2l6.0 13.4h-14.2zM636.8 174.8h2.2l6.0 13.4h-14.2zM639.8 176.8h2.2l6.0 13.4h-14.2zM642.8 178.9h2.2l6.0 13.4h-14.2zM645.7 182.4h2.2l6.0 13.4h-14.2zM648.6 188.2h2.2l6.0 13.4h-14.2zM651.3 194.9h2.2l6.0 13.4h-14.2zM654.1 204.2h2.2l6.0 13.4h-14.2zM656.7 211.8h2.2l6.0 13.4h-14.2zM659.3 219.6h2.2l6.0 13.4h-14.2zM661.9 231.0h2.2l6.0 13.4h-14.2zM664.4 243.3h2.2l6.0 13.4h-14.2zM666.8 255.0h2.2l6.0 13.4h-14.2zM669.2 267.4h2.2l6.0 13.4h-14.2zM671.5 280.3h2.2l6.0 13.4h-14.2zM673.8 293.8h2.2l6.0 13.4h-14.2zM676.1 307.5h2.2l6.0 13.4h-14.2zM678.3 321.8h2.2l6.0 13.4h-14.2zM680.5 335.7h2.2l6.0 13.4h-14.2zM682.6 350.6h2.2l6.0 13.4h-14.2zM684.7 363.1h2.2l6.0 13.4h-14.2zM686.8 376.3h2.2l6.0 13.4h-14.2zM688.8 387.5h2.2l6.0 13.4h-14.2zM690.8 404.1h2.2l6.0 13.4h-14.2zM692.8 413.2h2.2l6.0 13.4h-14.2zM694.7 422.4h2.2l6.0 13.4h-14.2zM696.6 431.9h2.2l6.0 13.4h-14.2zM698.5 440.2h2.2l6.0 13.4h-14.2zM700.4 447.5h2.2l6.0 13.4h-14.2zM702.2 454.1h2.2l6.0 13.4h-14.2zM704.0 460.0h2.2l6.0 13.4h-14.2zM705.7 465.5h2.2l6.0 13.4h-14.2zM707.5 470.4h2.2l6.0 13.4h-14.2zM709.2 474.8h2.2l6.0 13.4h-14.2zM710.9 478.8h2.2l6.0 13.4h-14.2zM712.5 482.5h2.2l6.0 13.4h-14.2zM714.2 486.3h2.2l6.0 13.4h-14.2zM715.8 490.1h2.2l6.0 13.4h-14.2zM717.4 493.9h2.2l6.0 13.4h-14.2zM719.0 497.5h2.2l6.0 13.4h-14.2zM720.6 500.6h2.2l6.0 13.4h-14.2zM722.1 503.2h2.2l6.0 13.4h-14.2zM723.6 505.4h2.2l6.0 13.4h-14.2zM725.1 507.4h2.2l6.0 13.4h-14.2zM726.6 509.2h2.2l6.0 13.4h-14.2zM728.1 511.0h2.2l6.0 13.4h-14.2zM729.5 512.8h2.2l6.0 13.4h-14.2zM731.0 514.6h2.2l6.0 13.4h-14.2zM732.4 516.2h2.2l6.0 13.4h-14.2zM733.8 517.8h2.2l6.0 13.4h-14.2zM735.1 519.5h2.2l6.0 13.4h-14.2zM736.5 521.2h2.2l6.0 13.4h-14.2zM737.9 523.0h2.2l6.0 13.4h-14.2zM739.2 524.9h2.2l6.0 13.4h-14.2zM740.5 526.8h2.2l6.0 13.4h-14.2zM741.8 528.7h2.2l6.0 13.4h-14.2zM743.1 530.3h2.2l6.0 13.4h-14.2zM744.4 531.7h2.2l6.0 13.4h-14.2zM745.7 533.0h2.2l6.0 13.4h-14.2zM746.9 534.2h2.2l6.0 13.4h-14.2zM748.2 535.4h2.2l6.0 13.4h-14.2zM749.4 536.6h2.2l6.0 13.4h-14.2zM750.6 537.8h2.2l6.0 13.4h-14.2zM751.8 539.0h2.2l6.0 13.4h-14.2zM753.0 540.2h2.2l6.0 13.4h-14.2zM754.2 541.3h2.2l6.0 13.4h-14.2zM755.3 542.5h2.2l6.0 13.4h-14.2zM756.5 543.6h2.2l6.0 13.4h-14.2zM757.6 544.8h2.2l6.0 13.4h-14.2zM758.8 546.0h2.2l6.0 13.4h-14.2zM759.9 547.1h2.2l6.0 13.4h-14.2zM761.0 548.3h2.2l6.0 13.4h-14.2zM762.1 549.5h2.2l6.0 13.4h-14.2zM763.2 550.8h2.2l6.0 13.4h-14.2zM764.3 552.0h2.2l6.0 13.4h-14.2zM765.4 553.2h2.2l6.0 13.4h-14.2zM766.4 554.3h2.2l6.0 13.4h-14.2zM767.5 555.4h2.2l6.0 13.4h-14.2zM768.5 556.4h2.2l6.0 13.4h-14.2zM769.6 557.4h2.2l6.0 13.4h-14.2zM770.6 558.3h2.2l6.0 13.4h-14.2zM771.6 559.1h2.2l6.0 13.4h-14.2zM772.6 560.0h2.2l6.0 13.4h-14.2zM773.6 560.9h2.2l6.0 13.4h-14.2zM774.6 561.7h2.2l6.0 13.4h-14.2zM775.6 562.6h2.2l6.0 13.4h-14.2zM776.6 563.5h2.2l6.0 13.4h-14.2zM777.6 564.3h2.2l6.0 13.4h-14.2zM778.5 565.2h2.2l6.0 13.4h-14.2zM779.5 566.0h2.2l6.0 13.4h-14.2zM780.4 566.8h2.2l6.0 13.4h-14.2zM781.4 567.7h2.2l6.0 13.4h-14.2zM782.3 568.5h2.2l6.0 13.4h-14.2zM783.2 569.3h2.2l6.0 13.4h-14.2zM784.2 570.1h2.2l6.0 13.4h-14.2zM785.1 570.9h2.2l6.0 13.4h-14.2zM786.0 571.6h2.2l6.0 13.4h-14.2zM786.9 572.4h2.2l6.0 13.4h-14.2zM787.8 573.1h2.2l6.0 13.4h-14.2zM788.7 573.9h2.2l6.0 13.4h-14.2zM789.5 574.6h2.2l6.0 13.4h-14.2zM790.4 575.3h2.2l6.0 13.4h-14.2zM791.3 576.0h2.2l6.0 13.4h-14.2zM792.1 576.7h2.2l6.0 13.4h-14.2zM793.0 577.4h2.2l6.0 13.4h-14.2z" fill="#ff8c1a"/>
<path d="M280.2 496.8h2.2l6.0 13.4h-14.2zM328.2 487.8h2.2l6.0 13.4h-14.2zM362.3 476.5h2.2l6.0 13.4h-14.2zM389.0 460.3h2.2l6.0 13.4h-14.2zM410.7 433.6h2.2l6.0 13.4h-14.2zM428.7 402.9h2.2l6.0 13.4h-14.2zM444.9 375.3h2.2l6.0 13.4h-14.2zM459.3 353.3h2.2l6.0 13.4h-14.2zM472.2 335.9h2.2l6.0 13.4h-14.2zM483.4 323.7h2.2l6.0 13.4h-14.2zM494.3 317.1h2.2l6.0 13.4h-14.2zM503.7 312.8h2.2l6.0 13.4h-14.2zM512.6 316.1h2.2l6.0 13.4h-14.2zM520.7 324.9h2.2l6.0 13.4h-14.2zM528.5 333.9h2.2l6.0 13.4h-14.2zM535.9 345.0h2.2l6.0 13.4h-14.2zM542.8 355.9h2.2l6.0 13.4h-14.2zM549.3 367.7h2.2l6.0 13.4h-14.2zM555.5 380.4h2.2l6.0 13.4h-14.2zM561.4 394.2h2.2l6.0 13.4h-14.2zM567.0 407.9h2.2l6.0 13.4h-14.2zM572.4 420.9h2.2l5.9 13.3h-14.1zM577.6 433.4h2.2l5.9 13.1h-13.9zM582.6 447.1h2.1l5.8 13.0h-13.8zM587.3 461.0h2.1l5.8 12.9h-13.6zM591.9 472.7h2.1l5.7 12.7h-13.5zM596.4 483.0h2.1l5.6 12.6h-13.3zM600.6 492.4h2.0l5.6 12.5h-13.2zM604.8 501.1h2.0l5.5 12.3h-13.1zM608.8 508.8h2.0l5.5 12.2h-12.9zM612.6 515.4h2.0l5.4 12.1h-12.8zM616.4 521.4h2.0l5.3 11.9h-12.6zM620.0 526.8h1.9l5.3 11.8h-12.5zM623.5 531.9h1.9l5.2 11.7h-12.4zM627.0 536.5h1.9l5.2 11.5h-12.2zM630.3 540.8h1.9l5.1 11.4h-12.1zM633.6 544.8h1.8l5.0 11.3h-11.9zM636.7 548.5h1.8l5.0 11.1h-11.8zM639.8 551.9h1.8l4.9 11.0h-11.6zM642.8 555.1h1.8l4.9 10.9h-11.5zM645.8 558.0h1.8l4.8 10.7h-11.4zM648.7 560.7h1.7l4.7 10.6h-11.2zM651.5 563.1h1.7l4.7 10.5h-11.1zM654.2 565.3h1.7l4.6 10.3h-10.9zM656.9 567.3h1.7l4.6 10.2h-10.8zM659.5 569.2h1.7l4.5 10.1h-10.6zM662.1 570.9h1.6l4.4 9.9h-10.5zM664.6 572.5h1.6l4.4 9.8h-10.4zM667.1 574.0h1.6l4.3 9.6h-10.2z" fill="#b94fdc"/>
<path d="M278.4 470.5h2.2l6.0 13.4h-14.2zM328.7 459.3h2.2l6.0 13.4h-14.2zM362.8 448.0h2.2l6.0 13.4h-14.2zM389.5 442.5h2.2l6.0 13.4h-14.2zM411.2 443.5h2.2l6.0 13.4h-14.2zM429.2 450.8h2.2l6.0 13.4h-14.2zM445.4 462.7h2.2l6.0 13.4h-14.2zM459.8 477.5h2.2l6.0 13.4h-14.2zM472.7 487.8h2.2l6.0 13.4h-14.2zM483.9 499.3h2.2l6.0 13.4h-14.2zM494.8 510.1h2.2l6.0 13.4h-14.2zM504.2 519.3h2.2l6.0 13.4h-14.2zM513.1 527.3h2.2l6.0 13.4h-14.2zM521.2 534.7h2.2l6.0 13.4h-14.2zM529.0 541.5h2.2l6.0 13.4h-14.2zM536.4 547.4h2.2l6.0 13.4h-14.2zM543.3 552.5h2.2l6.0 13.4h-14.2zM549.8 557.1h2.2l6.0 13.4h-14.2zM556.0 561.5h2.2l6.0 13.4h-14.2zM561.9 565.3h2.2l6.0 13.4h-14.2z" fill="#4df3ff"/>
<path d="M280.7 516.2h2.2l6.0 13.4h-14.2zM328.7 535.7h2.2l6.0 13.4h-14.2zM362.8 551.3h2.2l6.0 13.4h-14.2zM389.5 563.0h2.2l6.0 13.4h-14.2zM411.2 573.3h2.2l6.0 13.4h-14.2zM429.2 582.6h2.2l6.0 13.4h-14.2zM445.4 590.5h2.2l6.0 13.4h-14.2zM459.8 596.4h2.2l6.0 13.4h-14.2zM472.7 602.3h2.2l6.0 13.4h-14.2zM483.9 607.4h2.2l6.0 13.4h-14.2zM494.8 611.5h2.2l6.0 13.4h-14.2zM504.2 614.9h2.2l5.9 13.2h-14.0zM513.1 617.7h2.1l5.8 13.0h-13.8zM521.3 620.7h2.1l5.8 12.9h-13.6zM529.1 623.8h2.1l5.7 12.7h-13.4zM536.4 626.5h2.1l5.6 12.5h-13.3zM543.4 628.7h2.0l5.5 12.3h-13.1zM549.9 630.7h2.0l5.4 12.1h-12.9zM556.1 632.5h2.0l5.4 12.0h-12.7zM562.0 634.2h1.9l5.3 11.8h-12.5z" fill="#2366ff"/>
<text x="107.94" y="146.7" font-size="38.2">0.01</text>
<text x="88.84" y="328.83" font-size="38.2">0.001</text>
<text x="69.74" y="510.96" font-size="38.2">0.0001</text>
<text transform="translate(0 693.19)"><tspan x="116.44" y="0" font-size="38.2">10</tspan><tspan x="154.78" y="-19.3" font-size="27.5">-5</tspan></text>
<text x="184.52" y="781.2" font-size="38.2">1</text>
<text x="452.94" y="781.2" font-size="38.2">10</text>
<text x="721.77" y="781.2" font-size="38.2">100</text>
<text transform="translate(0 845.1)"><tspan x="493.46" y="0" font-size="46.5" font-style="italic">T</tspan><tspan x="516.07" y="0" font-size="46.5"> (K)</tspan></text>
<text transform="translate(35.7 537.8) rotate(-90)"><tspan x="4.42" y="0" font-size="49" font-style="italic">χ</tspan><tspan x="27.82" y="20.5" font-size="27">dc</tspan><tspan x="65.51" y="0" font-size="45.3">(emu/g</tspan><tspan x="198.05" y="-3.5" font-size="48">▪</tspan><tspan x="218.7" y="0" font-size="43.8">Oe)</tspan></text>
<text x="820.2" y="92.6" font-size="38.6">(a)</text>
<text x="701.18" y="107.4" font-size="39.5" fill="#ff0a0a"><tspan font-style="italic">x</tspan>=2.4</text>
<text x="232.48" y="153.7" font-size="39.5" fill="#ff8c1a"><tspan font-style="italic">x</tspan>=2.6</text>
<text x="231.48" y="248.7" font-size="39.5" fill="#b94fdc"><tspan font-style="italic">x</tspan>=2.8</text>
<text x="231.48" y="387" font-size="39.5" fill="#4df3ff"><tspan font-style="italic">x</tspan>=3.0</text>
<text x="231.98" y="585.5" font-size="39.5" fill="#2366ff"><tspan font-style="italic">x</tspan>=3.2</text>
<text x="235.73" y="670" font-size="38.6">circles: FC</text>
<text x="236.83" y="715.3" font-size="38.3">triangles: ZFC</text>
</g>
<g id="panel-b">
<rect x="1132.5" y="25.4" width="563.2" height="342.3" fill="none" stroke="#000" stroke-width="2.6"/>
<path d="M1207.59 367.7v-10.5M1207.59 25.4v10.5M1282.69 367.7v-10.5M1282.69 25.4v10.5M1357.78 367.7v-10.5M1357.78 25.4v10.5M1432.87 367.7v-10.5M1432.87 25.4v10.5M1507.97 367.7v-10.5M1507.97 25.4v10.5M1583.06 367.7v-10.5M1583.06 25.4v10.5M1658.15 367.7v-10.5M1658.15 25.4v10.5M1132.5 74.3h10.5M1695.7 74.3h-10.5M1132.5 123.2h10.5M1695.7 123.2h-10.5M1132.5 172.1h10.5M1695.7 172.1h-10.5M1132.5 221h10.5M1695.7 221h-10.5M1132.5 269.9h10.5M1695.7 269.9h-10.5M1132.5 318.8h10.5M1695.7 318.8h-10.5" stroke="#000" stroke-width="2.4" fill="none"/>
<path d="M1142.8 78.8L1147.9 85.8L1151.7 73.0L1155.6 85.2L1165.8 87.1L1174.8 92.2L1178.6 96.7L1185.0 94.8L1191.4 103.7L1204.2 105.0L1208.0 111.4L1215.7 111.4L1218.3 120.4L1222.1 115.9L1227.2 125.5L1236.2 122.3L1241.3 129.3L1245.1 128.7L1249.0 142.7L1252.8 137.6L1259.2 142.1L1263.0 150.4L1270.7 151.0L1278.4 157.4L1284.6 166.4L1289.8 167.0L1294.5 177.0L1302.5 183.6L1308.3 195.0L1312.8 193.3L1316.3 213.7L1321.4 216.3L1326.2 229.8L1331.3 244.4L1335.8 255.3L1339.2 272.0L1342.1 290.5L1347.2 300.7L1349.8 322.4L1353.6 332.0L1358.7 333.3L1361.9 337.2L1365.1 318.6L1368.3 300.7L1372.8 282.8L1379.4 260.0L1387.8 241.0L1393.6 238.8L1399.4 234.0L1405.7 233.1L1411.5 234.3L1418.0 230.8L1424.3 220.8L1429.4 209.3L1433.9 194.6L1439.0 178.6L1442.8 165.2L1444.6 161.5L1449.0 161.5L1451.5 133.4L1456.6 132.1L1460.5 125.7L1466.9 119.3L1473.3 115.5L1479.7 113.5L1486.0 109.1L1491.2 102.7L1495.0 95.0L1500.1 86.0L1506.5 80.9L1512.9 78.4L1521.9 77.1L1534.7 76.5L1560.0 76.2L1600.0 76.0L1650.0 75.8L1680.0 75.6L1695.5 74.5" fill="none" stroke="#ff0a0a" stroke-width="3.8" stroke-linejoin="round" stroke-linecap="round"/>
<path d="M1142.8 83.3L1146.6 89.7L1151.7 90.9L1155.6 97.3L1158.8 106.3L1163.3 103.1L1166.5 113.3L1174.8 122.9L1181.2 130.6L1187.6 138.3L1191.4 145.9L1196.5 154.2L1201.6 157.4L1208.0 167.7L1211.9 172.8L1215.7 173.4L1219.5 184.3L1223.4 185.6L1227.2 194.5L1230.4 201.6L1233.6 197.1L1236.8 209.9L1241.3 212.4L1245.1 220.1L1249.5 229.1L1256.5 236.7L1261.6 247.0L1266.1 256.0L1271.0 264.9L1275.4 275.0L1279.4 282.8L1283.3 294.3L1288.4 304.5L1292.2 314.8L1294.8 321.2L1297.3 330.1L1299.9 334.6L1303.7 337.2L1309.5 337.2L1312.7 327.6L1316.5 312.2L1321.6 290.5L1325.5 271.3L1328.7 249.5L1331.9 227.8L1335.4 206.0L1339.6 186.5L1342.2 174.0L1347.3 156.2L1349.2 148.7L1356.9 119.3L1364.5 104.0L1372.2 92.4L1381.2 86.0L1391.4 80.9L1404.2 78.4L1419.5 77.1L1445.1 76.1L1483.5 75.8L1550.0 75.8L1600.0 75.7L1650.0 75.5L1680.0 75.2L1695.5 74.3" fill="none" stroke="#ff8c1a" stroke-width="3.8" stroke-linejoin="round" stroke-linecap="round"/>
<text x="1103.41" y="30.1" font-size="32.7">1</text>
<text x="1102.7" y="79" font-size="32.7">0</text>
<text x="1092.52" y="127.9" font-size="32.7">-1</text>
<text x="1092.36" y="176.8" font-size="32.7">-2</text>
<text x="1091.84" y="225.7" font-size="32.7">-3</text>
<text x="1091.07" y="274.6" font-size="32.7">-4</text>
<text x="1091.84" y="323.5" font-size="32.7">-5</text>
<text x="1091.53" y="372.4" font-size="32.7">-6</text>
<text x="1124.33" y="397.9" font-size="32.7">0</text>
<text x="1191.15" y="397.9" font-size="32.7">20</text>
<text x="1266.64" y="397.9" font-size="32.7">40</text>
<text x="1341.35" y="397.9" font-size="32.7">60</text>
<text x="1416.52" y="397.9" font-size="32.7">80</text>
<text x="1482.63" y="397.9" font-size="32.7">100</text>
<text x="1557.72" y="397.9" font-size="32.7">120</text>
<text x="1632.81" y="397.9" font-size="32.7">140</text>
<text transform="translate(0 435.3)"><tspan x="1372.98" y="0" font-size="38.5" font-style="italic">T</tspan><tspan x="1391.92" y="0" font-size="38.5"> (K)</tspan></text>
<text transform="translate(1057.2 316) rotate(-90)"><tspan x="-1.32" y="0" font-size="36.5">d</tspan><tspan x="21.7" y="0" font-size="40" font-style="italic">χ</tspan><tspan x="40.85" y="17" font-size="23.5">dc</tspan><tspan x="62.5" y="0" font-size="36.5">/</tspan><tspan x="72.48" y="0" font-size="36.5">d</tspan><tspan x="92.11" y="0" font-size="36.5" font-style="italic">T</tspan><tspan x="113.2" y="0" font-size="36.5">(</tspan><tspan x="130.04" y="-0.2" font-size="43.2" style="font-family:'DejaVu Sans Light','DejaVu Sans',sans-serif;font-weight:200">×</tspan><tspan x="168.29" y="0" font-size="36.5">10</tspan><tspan x="209.13" y="-15" font-size="23.5">-4</tspan><tspan x="226.62" y="0" font-size="36.5">)</tspan></text>
<text x="1145.99" y="60.9" font-size="32">(b)</text>
<text x="1453.2" y="206.9" font-size="32.5" fill="#ff0a0a"><tspan font-weight="bold" font-style="italic">x</tspan><tspan font-weight="bold">=2.4</tspan></text>
<text x="1144.5" y="253.4" font-size="32.5" fill="#ff8c1a"><tspan font-weight="bold" font-style="italic">x</tspan><tspan font-weight="bold">=2.6</tspan></text>
</g>
<g id="panel-c">
<rect x="1135" y="470.8" width="567.3" height="345.5" fill="none" stroke="#000" stroke-width="2.6"/>
<path d="M1248.46 816.3v-10.5M1248.46 470.8v10.5M1361.92 816.3v-10.5M1361.92 470.8v10.5M1475.38 816.3v-10.5M1475.38 470.8v10.5M1588.84 816.3v-10.5M1588.84 470.8v10.5M1135 520.16h10.5M1702.3 520.16h-10.5M1135 569.51h10.5M1702.3 569.51h-10.5M1135 618.87h10.5M1702.3 618.87h-10.5M1135 668.23h10.5M1702.3 668.23h-10.5M1135 717.59h10.5M1702.3 717.59h-10.5M1135 766.94h10.5M1702.3 766.94h-10.5" stroke="#000" stroke-width="2.4" fill="none"/>
<path d="M1169.0 545.2L1180.4 579.8L1191.7 596.4L1203.1 611.7L1214.2 646.5L1225.0 668.7L1236.3 695.4L1241.0 712.6L1246.6 731.7L1257.8 744.5L1269.3 767.6L1280.8 775.9L1294.2 775.9L1305.0 767.6L1316.4 763.1L1327.8 747.1L1339.2 740.7L1350.7 719.0L1362.2 699.8L1373.7 681.9L1385.2 661.4L1396.7 640.9L1407.2 620.5L1417.6 603.0L1427.9 587.9L1439.1 576.7L1452.1 564.7L1463.3 556.3L1474.4 548.8L1485.6 543.3L1496.7 539.9L1511.6 535.4L1530.2 531.7L1548.8 528.4L1567.4 526.5L1586.0 524.7L1604.7 523.9L1623.3 523.2L1641.9 522.4L1667.9 522.4L1702.3 521.7" fill="none" stroke="#b94fdc" stroke-width="4" stroke-linejoin="round" stroke-linecap="round"/>
<path d="M1168.4 570.8L1179.9 591.3L1191.4 606.6L1202.9 611.7L1214.4 602.8L1224.7 590.0L1236.2 575.9L1246.4 563.1L1257.9 555.5L1269.4 547.8L1280.9 542.0L1292.4 538.2L1304.0 535.0L1315.5 532.4L1327.0 530.5L1338.5 528.6L1350.0 527.3L1375.0 525.2L1400.0 523.7L1450.0 522.8L1530.0 522.0L1600.0 521.6L1702.3 521.3" fill="none" stroke="#4df3ff" stroke-width="4" stroke-linejoin="round" stroke-linecap="round"/>
<path d="M1168.4 568.3L1179.9 554.2L1191.4 542.7L1202.9 535.6L1213.1 530.5L1224.7 528.0L1236.2 526.0L1246.4 524.8L1257.9 523.5L1280.9 522.5L1304.0 522.0L1327.0 521.6L1350.0 521.2L1400.0 520.9L1500.0 520.7L1576.0 520.5L1580.0 520.0L1640.0 520.0L1646.0 520.6L1660.0 520.6L1668.0 520.0L1702.3 520.0" fill="none" stroke="#2366ff" stroke-width="4" stroke-linejoin="round" stroke-linecap="round"/>
<text x="1103.65" y="474.8" font-size="32.7">2</text>
<text x="1103.1" y="524.16" font-size="32.7">0</text>
<text x="1092.76" y="573.51" font-size="32.7">-2</text>
<text x="1091.47" y="622.87" font-size="32.7">-4</text>
<text x="1091.93" y="672.23" font-size="32.7">-6</text>
<text x="1092.21" y="721.59" font-size="32.7">-8</text>
<text x="1075.86" y="770.94" font-size="32.7">-10</text>
<text x="1076.41" y="820.3" font-size="32.7">-12</text>
<text x="1126.83" y="848.4" font-size="32.7">0</text>
<text x="1231.3" y="848.4" font-size="32.7">10</text>
<text x="1345.47" y="848.4" font-size="32.7">20</text>
<text x="1458.87" y="848.4" font-size="32.7">30</text>
<text x="1572.79" y="848.4" font-size="32.7">40</text>
<text x="1685.62" y="848.4" font-size="32.7">50</text>
<text transform="translate(0 884.5)"><tspan x="1376.28" y="0" font-size="38.5" font-style="italic">T</tspan><tspan x="1395.72" y="0" font-size="38.5"> (K)</tspan></text>
<text transform="translate(1047.2 761.7) rotate(-90)"><tspan x="-1.32" y="0" font-size="36.5">d</tspan><tspan x="21.7" y="0" font-size="40" font-style="italic">χ</tspan><tspan x="40.85" y="17" font-size="23.5">dc</tspan><tspan x="62.5" y="0" font-size="36.5">/</tspan><tspan x="72.48" y="0" font-size="36.5">d</tspan><tspan x="92.11" y="0" font-size="36.5" font-style="italic">T</tspan><tspan x="113.2" y="0" font-size="36.5">(</tspan><tspan x="130.04" y="-0.2" font-size="43.2" style="font-family:'DejaVu Sans Light','DejaVu Sans',sans-serif;font-weight:200">×</tspan><tspan x="168.29" y="0" font-size="36.5">10</tspan><tspan x="209.13" y="-15" font-size="23.5">-5</tspan><tspan x="226.62" y="0" font-size="36.5">)</tspan></text>
<text x="1147.89" y="504.7" font-size="32">(c)</text>
<text x="1203.3" y="511.3" font-size="32.5" fill="#2366ff"><tspan font-weight="bold" font-style="italic">x</tspan><tspan font-weight="bold">=3.2</tspan></text>
<text x="1245.5" y="604.7" font-size="32.5" fill="#4df3ff"><tspan font-weight="bold" font-style="italic">x</tspan><tspan font-weight="bold">=3.0</tspan></text>
<text x="1393" y="712" font-size="32.5" fill="#b94fdc"><tspan font-weight="bold" font-style="italic">x</tspan><tspan font-weight="bold">=2.8</tspan></text>
</g>
<g id="panel-d">
<rect x="193.7" y="1008" width="689.1" height="689.1" fill="none" stroke="#000" stroke-width="3.4"/>
<path d="M308.55 1697.1v-12.5M308.55 1008v12.5M423.4 1697.1v-12.5M423.4 1008v12.5M538.25 1697.1v-12.5M538.25 1008v12.5M653.1 1697.1v-12.5M653.1 1008v12.5M767.95 1697.1v-12.5M767.95 1008v12.5M193.7 1582.25h12.5M882.8 1582.25h-12.5M193.7 1467.4h12.5M882.8 1467.4h-12.5M193.7 1352.55h12.5M882.8 1352.55h-12.5M193.7 1237.7h12.5M882.8 1237.7h-12.5M193.7 1122.85h12.5M882.8 1122.85h-12.5" stroke="#000" stroke-width="3.2" fill="none"/>
<path d="M193.7 1378.7L882.8 1070.0M193.7 1550.9L882.8 1175.7M193.7 1594.8L882.8 1228.6M288.3 1697.0L882.8 1308.2M309.7 1697.0L882.8 1324.5" stroke="#000" stroke-width="2.9" fill="none"/>
<path d="M193.8 1690.9h11.4v11.4h-11.4zM205.3 1690.9h11.4v11.4h-11.4zM216.8 1690.9h11.4v11.4h-11.4zM228.3 1690.9h11.4v11.4h-11.4zM239.8 1690.9h11.4v11.4h-11.4zM251.3 1690.9h11.4v11.4h-11.4zM262.8 1690.9h11.4v11.4h-11.4zM274.3 1690.9h11.4v11.4h-11.4zM285.8 1690.8h11.4v11.4h-11.4zM297.3 1690.8h11.4v11.4h-11.4zM308.8 1690.8h11.4v11.4h-11.4zM320.3 1690.7h11.4v11.4h-11.4zM331.8 1690.7h11.4v11.4h-11.4zM343.3 1690.7h11.4v11.4h-11.4zM354.8 1690.6h11.4v11.4h-11.4zM366.3 1688.3h11.4v11.4h-11.4zM377.8 1685.4h11.4v11.4h-11.4zM389.2 1682.6h11.4v11.4h-11.4zM400.7 1675.9h11.4v11.4h-11.4zM412.2 1654.9h11.4v11.4h-11.4zM423.7 1639.7h11.4v11.4h-11.4zM435.2 1629.1h11.4v11.4h-11.4zM446.7 1618.5h11.4v11.4h-11.4zM458.2 1608.5h11.4v11.4h-11.4zM469.7 1599.4h11.4v11.4h-11.4zM481.2 1590.7h11.4v11.4h-11.4zM492.7 1582.1h11.4v11.4h-11.4zM504.2 1573.5h11.4v11.4h-11.4zM515.7 1564.8h11.4v11.4h-11.4zM527.2 1556.2h11.4v11.4h-11.4zM538.7 1547.6h11.4v11.4h-11.4zM550.2 1539.1h11.4v11.4h-11.4zM561.7 1530.7h11.4v11.4h-11.4zM573.2 1522.4h11.4v11.4h-11.4zM584.7 1514.2h11.4v11.4h-11.4zM596.2 1506.0h11.4v11.4h-11.4zM607.7 1498.0h11.4v11.4h-11.4zM619.2 1490.0h11.4v11.4h-11.4zM630.7 1482.1h11.4v11.4h-11.4zM642.2 1474.3h11.4v11.4h-11.4zM653.7 1466.5h11.4v11.4h-11.4zM665.2 1458.8h11.4v11.4h-11.4zM676.7 1451.0h11.4v11.4h-11.4zM688.2 1443.3h11.4v11.4h-11.4zM699.7 1435.6h11.4v11.4h-11.4zM711.2 1427.9h11.4v11.4h-11.4zM722.7 1420.3h11.4v11.4h-11.4zM734.2 1412.9h11.4v11.4h-11.4zM745.7 1405.5h11.4v11.4h-11.4zM757.2 1398.1h11.4v11.4h-11.4zM768.6 1390.7h11.4v11.4h-11.4zM780.1 1383.3h11.4v11.4h-11.4zM791.6 1376.0h11.4v11.4h-11.4zM803.1 1368.6h11.4v11.4h-11.4zM814.6 1361.3h11.4v11.4h-11.4zM826.1 1354.0h11.4v11.4h-11.4zM837.6 1346.7h11.4v11.4h-11.4zM849.1 1339.4h11.4v11.4h-11.4zM860.6 1332.1h11.4v11.4h-11.4zM872.1 1324.8h11.4v11.4h-11.4z" stroke="#ff0a0a" stroke-width="2.3" fill="none" stroke-linejoin="miter"/>
<path d="M193.8 1689.2h11.4v11.4h-11.4zM205.3 1689.2h11.4v11.4h-11.4zM216.8 1689.2h11.4v11.4h-11.4zM228.3 1689.2h11.4v11.4h-11.4zM239.8 1689.2h11.4v11.4h-11.4zM251.3 1689.2h11.4v11.4h-11.4zM262.8 1689.2h11.4v11.4h-11.4zM274.3 1689.2h11.4v11.4h-11.4zM285.8 1689.2h11.4v11.4h-11.4zM297.3 1689.2h11.4v11.4h-11.4zM308.8 1687.4h11.4v11.4h-11.4zM320.3 1683.1h11.4v11.4h-11.4zM331.8 1672.9h11.4v11.4h-11.4zM343.3 1660.1h11.4v11.4h-11.4zM354.8 1649.8h11.4v11.4h-11.4zM366.3 1640.2h11.4v11.4h-11.4zM377.8 1631.3h11.4v11.4h-11.4zM389.2 1622.7h11.4v11.4h-11.4zM400.7 1614.9h11.4v11.4h-11.4zM412.2 1607.7h11.4v11.4h-11.4zM423.7 1599.9h11.4v11.4h-11.4zM435.2 1592.6h11.4v11.4h-11.4zM446.7 1584.8h11.4v11.4h-11.4zM458.2 1577.0h11.4v11.4h-11.4zM469.7 1569.2h11.4v11.4h-11.4zM481.2 1561.4h11.4v11.4h-11.4zM492.7 1553.6h11.4v11.4h-11.4zM504.2 1545.8h11.4v11.4h-11.4zM515.7 1538.1h11.4v11.4h-11.4zM527.2 1530.3h11.4v11.4h-11.4zM538.7 1522.5h11.4v11.4h-11.4zM550.2 1514.7h11.4v11.4h-11.4zM561.7 1506.9h11.4v11.4h-11.4zM573.2 1499.1h11.4v11.4h-11.4zM584.7 1491.4h11.4v11.4h-11.4zM596.2 1483.6h11.4v11.4h-11.4zM607.7 1475.8h11.4v11.4h-11.4zM619.2 1468.0h11.4v11.4h-11.4zM630.7 1460.3h11.4v11.4h-11.4zM642.2 1452.5h11.4v11.4h-11.4zM653.7 1444.8h11.4v11.4h-11.4zM665.2 1437.0h11.4v11.4h-11.4zM676.7 1429.2h11.4v11.4h-11.4zM688.2 1421.5h11.4v11.4h-11.4zM699.7 1413.8h11.4v11.4h-11.4zM711.2 1406.3h11.4v11.4h-11.4zM722.7 1399.0h11.4v11.4h-11.4zM734.2 1391.7h11.4v11.4h-11.4zM745.7 1384.6h11.4v11.4h-11.4zM757.2 1377.5h11.4v11.4h-11.4zM768.6 1370.5h11.4v11.4h-11.4zM780.1 1363.5h11.4v11.4h-11.4zM791.6 1356.6h11.4v11.4h-11.4zM803.1 1349.6h11.4v11.4h-11.4zM814.6 1342.8h11.4v11.4h-11.4zM826.1 1336.0h11.4v11.4h-11.4zM837.6 1329.3h11.4v11.4h-11.4zM849.1 1322.6h11.4v11.4h-11.4zM860.6 1316.0h11.4v11.4h-11.4zM872.1 1309.4h11.4v11.4h-11.4z" stroke="#ff8c1a" stroke-width="2.3" fill="none" stroke-linejoin="miter"/>
<path d="M193.8 1686.4h11.4v11.4h-11.4zM205.3 1686.3h11.4v11.4h-11.4zM216.8 1685.0h11.4v11.4h-11.4zM228.3 1680.4h11.4v11.4h-11.4zM239.8 1669.2h11.4v11.4h-11.4zM251.3 1646.6h11.4v11.4h-11.4zM262.8 1615.2h11.4v11.4h-11.4zM274.3 1587.8h11.4v11.4h-11.4zM285.8 1566.1h11.4v11.4h-11.4zM297.3 1546.8h11.4v11.4h-11.4zM308.8 1531.8h11.4v11.4h-11.4zM320.3 1519.1h11.4v11.4h-11.4zM331.8 1508.9h11.4v11.4h-11.4zM343.3 1498.3h11.4v11.4h-11.4zM354.8 1490.2h11.4v11.4h-11.4zM366.3 1482.0h11.4v11.4h-11.4zM377.8 1473.8h11.4v11.4h-11.4zM389.2 1467.5h11.4v11.4h-11.4zM400.7 1461.4h11.4v11.4h-11.4zM412.2 1455.9h11.4v11.4h-11.4zM423.7 1449.9h11.4v11.4h-11.4zM435.2 1445.1h11.4v11.4h-11.4zM446.7 1440.3h11.4v11.4h-11.4zM458.2 1435.5h11.4v11.4h-11.4zM469.7 1431.2h11.4v11.4h-11.4zM481.2 1426.1h11.4v11.4h-11.4zM492.7 1420.3h11.4v11.4h-11.4zM504.2 1414.0h11.4v11.4h-11.4zM515.7 1407.5h11.4v11.4h-11.4zM527.2 1400.9h11.4v11.4h-11.4zM538.7 1394.4h11.4v11.4h-11.4zM550.2 1388.2h11.4v11.4h-11.4zM561.7 1382.2h11.4v11.4h-11.4zM573.2 1376.2h11.4v11.4h-11.4zM584.7 1370.2h11.4v11.4h-11.4zM596.2 1364.2h11.4v11.4h-11.4zM607.7 1358.3h11.4v11.4h-11.4zM619.2 1352.4h11.4v11.4h-11.4zM630.7 1346.5h11.4v11.4h-11.4zM642.2 1340.6h11.4v11.4h-11.4zM653.7 1334.7h11.4v11.4h-11.4zM665.2 1328.9h11.4v11.4h-11.4zM676.7 1323.1h11.4v11.4h-11.4zM688.2 1317.2h11.4v11.4h-11.4zM699.7 1311.4h11.4v11.4h-11.4zM711.2 1305.6h11.4v11.4h-11.4zM722.7 1299.7h11.4v11.4h-11.4zM734.2 1293.9h11.4v11.4h-11.4zM745.7 1288.1h11.4v11.4h-11.4zM757.2 1282.3h11.4v11.4h-11.4zM768.6 1276.5h11.4v11.4h-11.4zM780.1 1270.7h11.4v11.4h-11.4zM791.6 1265.0h11.4v11.4h-11.4zM803.1 1259.2h11.4v11.4h-11.4zM814.6 1253.4h11.4v11.4h-11.4zM826.1 1247.7h11.4v11.4h-11.4zM837.6 1242.0h11.4v11.4h-11.4zM849.1 1236.3h11.4v11.4h-11.4zM860.6 1230.5h11.4v11.4h-11.4zM872.1 1224.8h11.4v11.4h-11.4z" stroke="#b94fdc" stroke-width="2.3" fill="none" stroke-linejoin="miter"/>
<path d="M193.8 1672.7h11.4v11.4h-11.4zM205.3 1652.1h11.4v11.4h-11.4zM216.8 1614.2h11.4v11.4h-11.4zM228.3 1577.2h11.4v11.4h-11.4zM239.8 1544.9h11.4v11.4h-11.4zM251.3 1520.6h11.4v11.4h-11.4zM262.8 1498.1h11.4v11.4h-11.4zM274.3 1478.7h11.4v11.4h-11.4zM285.8 1462.1h11.4v11.4h-11.4zM297.3 1448.4h11.4v11.4h-11.4zM308.8 1436.2h11.4v11.4h-11.4zM320.3 1426.2h11.4v11.4h-11.4zM331.8 1417.2h11.4v11.4h-11.4zM343.3 1407.1h11.4v11.4h-11.4zM354.8 1400.7h11.4v11.4h-11.4zM366.3 1396.2h11.4v11.4h-11.4zM377.8 1390.5h11.4v11.4h-11.4zM389.2 1386.2h11.4v11.4h-11.4zM400.7 1380.1h11.4v11.4h-11.4zM412.2 1375.9h11.4v11.4h-11.4zM423.7 1371.5h11.4v11.4h-11.4zM435.2 1368.1h11.4v11.4h-11.4zM446.7 1364.3h11.4v11.4h-11.4zM458.2 1361.0h11.4v11.4h-11.4zM469.7 1357.3h11.4v11.4h-11.4zM481.2 1353.7h11.4v11.4h-11.4zM492.7 1350.5h11.4v11.4h-11.4zM504.2 1346.4h11.4v11.4h-11.4zM515.7 1343.0h11.4v11.4h-11.4zM527.2 1339.5h11.4v11.4h-11.4zM538.7 1336.0h11.4v11.4h-11.4zM550.2 1331.9h11.4v11.4h-11.4zM561.7 1328.0h11.4v11.4h-11.4zM573.2 1323.1h11.4v11.4h-11.4zM584.7 1318.4h11.4v11.4h-11.4zM596.2 1314.3h11.4v11.4h-11.4zM607.7 1309.6h11.4v11.4h-11.4zM619.2 1303.6h11.4v11.4h-11.4zM630.7 1298.3h11.4v11.4h-11.4zM642.2 1293.0h11.4v11.4h-11.4zM653.7 1286.9h11.4v11.4h-11.4zM665.2 1280.8h11.4v11.4h-11.4zM676.7 1275.5h11.4v11.4h-11.4zM688.2 1269.2h11.4v11.4h-11.4zM699.7 1263.0h11.4v11.4h-11.4zM711.2 1256.7h11.4v11.4h-11.4zM722.7 1250.7h11.4v11.4h-11.4zM734.2 1244.5h11.4v11.4h-11.4zM745.7 1238.5h11.4v11.4h-11.4zM757.2 1232.6h11.4v11.4h-11.4zM768.6 1226.6h11.4v11.4h-11.4zM780.1 1220.6h11.4v11.4h-11.4zM791.6 1214.7h11.4v11.4h-11.4zM803.1 1208.7h11.4v11.4h-11.4zM814.6 1202.7h11.4v11.4h-11.4zM826.1 1196.7h11.4v11.4h-11.4zM837.6 1190.7h11.4v11.4h-11.4zM849.1 1184.7h11.4v11.4h-11.4zM860.6 1178.7h11.4v11.4h-11.4zM872.1 1172.7h11.4v11.4h-11.4z" stroke="#4df3ff" stroke-width="2.3" fill="none" stroke-linejoin="miter"/>
<path d="M193.8 1604.4h11.4v11.4h-11.4zM205.3 1495.9h11.4v11.4h-11.4zM216.8 1429.3h11.4v11.4h-11.4zM228.3 1384.5h11.4v11.4h-11.4zM239.8 1349.4h11.4v11.4h-11.4zM251.3 1326.6h11.4v11.4h-11.4zM262.8 1304.3h11.4v11.4h-11.4zM274.3 1288.2h11.4v11.4h-11.4zM285.8 1274.6h11.4v11.4h-11.4zM297.3 1261.1h11.4v11.4h-11.4zM308.8 1251.2h11.4v11.4h-11.4zM320.3 1244.7h11.4v11.4h-11.4zM331.8 1238.2h11.4v11.4h-11.4zM343.3 1231.8h11.4v11.4h-11.4zM354.8 1226.6h11.4v11.4h-11.4zM366.3 1222.8h11.4v11.4h-11.4zM377.8 1219.2h11.4v11.4h-11.4zM389.2 1217.0h11.4v11.4h-11.4zM400.7 1215.3h11.4v11.4h-11.4zM412.2 1212.7h11.4v11.4h-11.4zM423.7 1210.7h11.4v11.4h-11.4zM435.2 1208.9h11.4v11.4h-11.4zM446.7 1207.0h11.4v11.4h-11.4zM458.2 1205.4h11.4v11.4h-11.4zM469.7 1203.4h11.4v11.4h-11.4zM481.2 1201.6h11.4v11.4h-11.4zM492.7 1199.8h11.4v11.4h-11.4zM504.2 1198.1h11.4v11.4h-11.4zM515.7 1196.3h11.4v11.4h-11.4zM527.2 1194.7h11.4v11.4h-11.4zM538.7 1192.3h11.4v11.4h-11.4zM550.2 1190.2h11.4v11.4h-11.4zM561.7 1188.0h11.4v11.4h-11.4zM573.2 1185.8h11.4v11.4h-11.4zM584.7 1183.6h11.4v11.4h-11.4zM596.2 1180.5h11.4v11.4h-11.4zM607.7 1177.6h11.4v11.4h-11.4zM619.2 1173.7h11.4v11.4h-11.4zM630.7 1169.6h11.4v11.4h-11.4zM642.2 1165.3h11.4v11.4h-11.4zM653.7 1160.5h11.4v11.4h-11.4zM665.2 1156.1h11.4v11.4h-11.4zM676.7 1151.7h11.4v11.4h-11.4zM688.2 1146.5h11.4v11.4h-11.4zM699.7 1141.6h11.4v11.4h-11.4zM711.2 1136.5h11.4v11.4h-11.4zM722.7 1131.4h11.4v11.4h-11.4zM734.2 1126.4h11.4v11.4h-11.4zM745.7 1121.5h11.4v11.4h-11.4zM757.2 1116.6h11.4v11.4h-11.4zM768.6 1111.7h11.4v11.4h-11.4zM780.1 1106.7h11.4v11.4h-11.4zM791.6 1101.8h11.4v11.4h-11.4zM803.1 1096.8h11.4v11.4h-11.4zM814.6 1091.8h11.4v11.4h-11.4zM826.1 1086.8h11.4v11.4h-11.4zM837.6 1081.7h11.4v11.4h-11.4zM849.1 1076.6h11.4v11.4h-11.4zM860.6 1071.5h11.4v11.4h-11.4zM872.1 1066.3h11.4v11.4h-11.4z" stroke="#2366ff" stroke-width="2.3" fill="none" stroke-linejoin="miter"/>
<text x="127.96" y="1014.2" font-size="38.2">1.2</text>
<text x="156.79" y="1129.05" font-size="38.2">1</text>
<text x="127.3" y="1243.9" font-size="38.2">0.8</text>
<text x="126.99" y="1358.75" font-size="38.2">0.6</text>
<text x="126.45" y="1473.6" font-size="38.2">0.4</text>
<text x="127.96" y="1588.45" font-size="38.2">0.2</text>
<text x="155.95" y="1703.3" font-size="38.2">0</text>
<text x="184.15" y="1736.7" font-size="38.2">0</text>
<text x="289.07" y="1736.7" font-size="38.2">50</text>
<text x="393.8" y="1736.7" font-size="38.2">100</text>
<text x="508.65" y="1736.7" font-size="38.2">150</text>
<text x="624.34" y="1736.7" font-size="38.2">200</text>
<text x="739.19" y="1736.7" font-size="38.2">250</text>
<text x="853.96" y="1736.7" font-size="38.2">300</text>
<text transform="translate(0 1798)"><tspan x="488.96" y="0" font-size="46.5" font-style="italic">T</tspan><tspan x="511.37" y="0" font-size="46.5"> (K)</tspan></text>
<text transform="translate(70.3 1570.3) rotate(-90)"><tspan x="-4.04" y="0" font-size="46">1</tspan><tspan x="15.9" y="0" font-size="46">/</tspan><tspan x="36.22" y="0" font-size="49" font-style="italic">χ</tspan><tspan x="54.46" y="21" font-size="31.5">dc</tspan><tspan x="95.88" y="0" font-size="46">(</tspan><tspan x="112.54" y="-0.5" font-size="48.8" style="font-family:'DejaVu Sans Light','DejaVu Sans',sans-serif;font-weight:200">×</tspan><tspan x="156.06" y="0" font-size="46">10</tspan><tspan x="200.72" y="-19" font-size="29">-5</tspan><tspan x="238.62" y="0" font-size="46">g</tspan><tspan x="266.24" y="-2.5" font-size="38.5">•</tspan><tspan x="285.05" y="0" font-size="45">Oe/emu)</tspan></text>
<text x="213.36" y="1057.1" font-size="39.5">(d)</text>
<text x="323.68" y="1186.5" font-size="39.5" fill="#2366ff"><tspan font-style="italic">x</tspan>=3.2</text>
<text x="361.88" y="1354.8" font-size="39.5" fill="#4df3ff"><tspan font-style="italic">x</tspan>=3.0</text>
<text x="434.18" y="1493.5" font-size="39.5" fill="#b94fdc"><tspan font-style="italic">x</tspan>=2.8</text>
<text x="311.28" y="1618" font-size="39.5" fill="#ff8c1a"><tspan font-style="italic">x</tspan>=2.6</text>
<text x="477.88" y="1649" font-size="39.5" fill="#ff0a0a"><tspan font-style="italic">x</tspan>=2.4</text>
</g>
</svg></body></html>
